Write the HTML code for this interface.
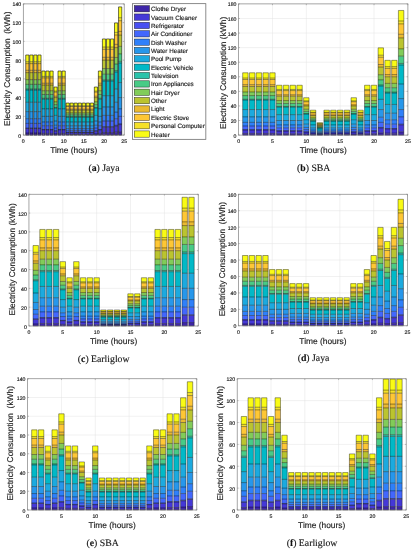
<!DOCTYPE html>
<html lang="en"><head><meta charset="utf-8"><title>Electricity Consumption</title>
<style>html,body{margin:0;padding:0;background:#fff}svg{display:block;text-rendering:geometricPrecision;filter:blur(0.25px)}</style></head>
<body>
<svg width="412" height="550" viewBox="0 0 412 550">
<rect width="412" height="550" fill="#fff"/>
<g>
<path d="M43.48 3.9V135.1M63.66 3.9V135.1M83.84 3.9V135.1M104.02 3.9V135.1M23.3 116.36H124.2M23.3 97.61H124.2M23.3 78.87H124.2M23.3 60.13H124.2M23.3 41.39H124.2M23.3 22.64H124.2" stroke="#e2e2e2" stroke-width="0.5" fill="none"/>
<g>
<path fill="#3e26a8" d="M25.72 132.99h3.23v2.16h-3.23zM29.76 132.99h3.23v2.16h-3.23zM33.79 132.99h3.23v2.16h-3.23zM37.83 132.99h3.23v2.16h-3.23zM41.87 133.41h3.23v1.74h-3.23zM45.9 133.41h3.23v1.74h-3.23zM49.94 133.41h3.23v1.74h-3.23zM53.97 133.83h3.23v1.32h-3.23zM58.01 133.41h3.23v1.74h-3.23zM62.05 133.41h3.23v1.74h-3.23zM66.08 134.26h3.23v0.89h-3.23zM70.12 134.26h3.23v0.89h-3.23zM74.15 134.26h3.23v0.89h-3.23zM78.19 134.26h3.23v0.89h-3.23zM82.23 134.26h3.23v0.89h-3.23zM86.26 134.26h3.23v0.89h-3.23zM90.3 134.26h3.23v0.89h-3.23zM94.33 133.83h3.23v1.32h-3.23zM98.37 133.41h3.23v1.74h-3.23zM102.41 132.57h3.23v2.58h-3.23zM106.44 132.57h3.23v2.58h-3.23zM110.48 132.57h3.23v2.58h-3.23zM114.51 132.14h3.23v3.01h-3.23zM118.55 131.72h3.23v3.43h-3.23z"/>
<path fill="#4538d7" d="M25.72 128.53h3.23v4.51h-3.23zM29.76 128.53h3.23v4.51h-3.23zM33.79 128.53h3.23v4.51h-3.23zM37.83 128.53h3.23v4.51h-3.23zM41.87 129.85h3.23v3.62h-3.23zM45.9 129.85h3.23v3.62h-3.23zM49.94 129.85h3.23v3.62h-3.23zM53.97 131.16h3.23v2.72h-3.23zM58.01 129.85h3.23v3.62h-3.23zM62.05 129.85h3.23v3.62h-3.23zM66.08 132.47h3.23v1.83h-3.23zM70.12 132.47h3.23v1.83h-3.23zM74.15 132.47h3.23v1.83h-3.23zM78.19 132.47h3.23v1.83h-3.23zM82.23 132.47h3.23v1.83h-3.23zM86.26 132.47h3.23v1.83h-3.23zM90.3 132.47h3.23v1.83h-3.23zM94.33 131.16h3.23v2.72h-3.23zM98.37 129.85h3.23v3.62h-3.23zM102.41 127.22h3.23v5.4h-3.23zM106.44 127.22h3.23v5.4h-3.23zM110.48 127.22h3.23v5.4h-3.23zM114.51 125.91h3.23v6.29h-3.23zM118.55 124.59h3.23v7.18h-3.23z"/>
<path fill="#484ff2" d="M25.72 128.06h3.23v0.52h-3.23zM29.76 128.06h3.23v0.52h-3.23zM33.79 128.06h3.23v0.52h-3.23zM37.83 128.06h3.23v0.52h-3.23zM41.87 129.47h3.23v0.43h-3.23zM45.9 129.47h3.23v0.43h-3.23zM49.94 129.47h3.23v0.43h-3.23zM53.97 130.88h3.23v0.33h-3.23zM58.01 129.47h3.23v0.43h-3.23zM62.05 129.47h3.23v0.43h-3.23zM66.08 132.29h3.23v0.24h-3.23zM70.12 132.29h3.23v0.24h-3.23zM74.15 132.29h3.23v0.24h-3.23zM78.19 132.29h3.23v0.24h-3.23zM82.23 132.29h3.23v0.24h-3.23zM86.26 132.29h3.23v0.24h-3.23zM90.3 132.29h3.23v0.24h-3.23zM94.33 130.88h3.23v0.33h-3.23zM98.37 129.47h3.23v0.43h-3.23zM102.41 126.66h3.23v0.61h-3.23zM106.44 126.66h3.23v0.61h-3.23zM110.48 126.66h3.23v0.61h-3.23zM114.51 125.25h3.23v0.71h-3.23zM118.55 123.84h3.23v0.8h-3.23z"/>
<path fill="#4367fd" d="M25.72 123.37h3.23v4.74h-3.23zM29.76 123.37h3.23v4.74h-3.23zM33.79 123.37h3.23v4.74h-3.23zM37.83 123.37h3.23v4.74h-3.23zM41.87 125.72h3.23v3.8h-3.23zM45.9 125.72h3.23v3.8h-3.23zM49.94 125.72h3.23v3.8h-3.23zM53.97 128.06h3.23v2.86h-3.23zM58.01 125.72h3.23v3.8h-3.23zM62.05 125.72h3.23v3.8h-3.23zM66.08 130.41h3.23v1.93h-3.23zM70.12 130.41h3.23v1.93h-3.23zM74.15 130.41h3.23v1.93h-3.23zM78.19 130.41h3.23v1.93h-3.23zM82.23 130.41h3.23v1.93h-3.23zM86.26 130.41h3.23v1.93h-3.23zM90.3 130.41h3.23v1.93h-3.23zM94.33 128.06h3.23v2.86h-3.23zM98.37 125.72h3.23v3.8h-3.23zM102.41 121.03h3.23v5.68h-3.23zM106.44 121.03h3.23v5.68h-3.23zM110.48 121.03h3.23v5.68h-3.23zM114.51 118.68h3.23v6.62h-3.23zM118.55 116.34h3.23v7.56h-3.23z"/>
<path fill="#2f80fa" d="M25.72 118.68h3.23v4.74h-3.23zM29.76 118.68h3.23v4.74h-3.23zM33.79 118.68h3.23v4.74h-3.23zM37.83 118.68h3.23v4.74h-3.23zM41.87 121.96h3.23v3.8h-3.23zM45.9 121.96h3.23v3.8h-3.23zM49.94 121.96h3.23v3.8h-3.23zM53.97 125.25h3.23v2.86h-3.23zM58.01 121.96h3.23v3.8h-3.23zM62.05 121.96h3.23v3.8h-3.23zM66.08 128.53h3.23v1.93h-3.23zM70.12 128.53h3.23v1.93h-3.23zM74.15 128.53h3.23v1.93h-3.23zM78.19 128.53h3.23v1.93h-3.23zM82.23 128.53h3.23v1.93h-3.23zM86.26 128.53h3.23v1.93h-3.23zM90.3 128.53h3.23v1.93h-3.23zM94.33 125.25h3.23v2.86h-3.23zM98.37 121.96h3.23v3.8h-3.23zM102.41 115.4h3.23v5.68h-3.23zM106.44 115.4h3.23v5.68h-3.23zM110.48 115.4h3.23v5.68h-3.23zM114.51 112.11h3.23v6.62h-3.23zM118.55 108.83h3.23v7.56h-3.23z"/>
<path fill="#2797eb" d="M25.72 111.64h3.23v7.09h-3.23zM29.76 111.64h3.23v7.09h-3.23zM33.79 111.64h3.23v7.09h-3.23zM37.83 111.64h3.23v7.09h-3.23zM41.87 116.34h3.23v5.68h-3.23zM45.9 116.34h3.23v5.68h-3.23zM49.94 116.34h3.23v5.68h-3.23zM53.97 121.03h3.23v4.27h-3.23zM58.01 116.34h3.23v5.68h-3.23zM62.05 116.34h3.23v5.68h-3.23zM66.08 125.72h3.23v2.86h-3.23zM70.12 125.72h3.23v2.86h-3.23zM74.15 125.72h3.23v2.86h-3.23zM78.19 125.72h3.23v2.86h-3.23zM82.23 125.72h3.23v2.86h-3.23zM86.26 125.72h3.23v2.86h-3.23zM90.3 125.72h3.23v2.86h-3.23zM94.33 121.03h3.23v4.27h-3.23zM98.37 116.34h3.23v5.68h-3.23zM102.41 106.95h3.23v8.49h-3.23zM106.44 106.95h3.23v8.49h-3.23zM110.48 106.95h3.23v8.49h-3.23zM114.51 102.26h3.23v9.9h-3.23zM118.55 97.57h3.23v11.31h-3.23z"/>
<path fill="#1caadf" d="M25.72 102.26h3.23v9.43h-3.23zM29.76 102.26h3.23v9.43h-3.23zM33.79 102.26h3.23v9.43h-3.23zM37.83 102.26h3.23v9.43h-3.23zM41.87 108.83h3.23v7.56h-3.23zM45.9 108.83h3.23v7.56h-3.23zM49.94 108.83h3.23v7.56h-3.23zM53.97 115.4h3.23v5.68h-3.23zM58.01 108.83h3.23v7.56h-3.23zM62.05 108.83h3.23v7.56h-3.23zM66.08 121.96h3.23v3.8h-3.23zM70.12 121.96h3.23v3.8h-3.23zM74.15 121.96h3.23v3.8h-3.23zM78.19 121.96h3.23v3.8h-3.23zM82.23 121.96h3.23v3.8h-3.23zM86.26 121.96h3.23v3.8h-3.23zM90.3 121.96h3.23v3.8h-3.23zM94.33 115.4h3.23v5.68h-3.23zM98.37 108.83h3.23v7.56h-3.23zM102.41 95.69h3.23v11.31h-3.23zM106.44 95.69h3.23v11.31h-3.23zM110.48 95.69h3.23v11.31h-3.23zM114.51 89.13h3.23v13.19h-3.23zM118.55 82.56h3.23v15.06h-3.23z"/>
<path fill="#01b9c7" d="M25.72 90.06h3.23v12.25h-3.23zM29.76 90.06h3.23v12.25h-3.23zM33.79 90.06h3.23v12.25h-3.23zM37.83 90.06h3.23v12.25h-3.23zM41.87 99.07h3.23v9.81h-3.23zM45.9 99.07h3.23v9.81h-3.23zM49.94 99.07h3.23v9.81h-3.23zM53.97 108.08h3.23v7.37h-3.23zM58.01 99.07h3.23v9.81h-3.23zM62.05 99.07h3.23v9.81h-3.23zM66.08 117.09h3.23v4.93h-3.23zM70.12 117.09h3.23v4.93h-3.23zM74.15 117.09h3.23v4.93h-3.23zM78.19 117.09h3.23v4.93h-3.23zM82.23 117.09h3.23v4.93h-3.23zM86.26 117.09h3.23v4.93h-3.23zM90.3 117.09h3.23v4.93h-3.23zM94.33 108.08h3.23v7.37h-3.23zM98.37 99.07h3.23v9.81h-3.23zM102.41 81.06h3.23v14.69h-3.23zM106.44 81.06h3.23v14.69h-3.23zM110.48 81.06h3.23v14.69h-3.23zM114.51 72.05h3.23v17.13h-3.23zM118.55 63.04h3.23v19.57h-3.23z"/>
<path fill="#29c3aa" d="M25.72 89.03h3.23v1.08h-3.23zM29.76 89.03h3.23v1.08h-3.23zM33.79 89.03h3.23v1.08h-3.23zM37.83 89.03h3.23v1.08h-3.23zM41.87 98.25h3.23v0.88h-3.23zM45.9 98.25h3.23v0.88h-3.23zM49.94 98.25h3.23v0.88h-3.23zM53.97 107.46h3.23v0.67h-3.23zM58.01 98.25h3.23v0.88h-3.23zM62.05 98.25h3.23v0.88h-3.23zM66.08 116.67h3.23v0.46h-3.23zM70.12 116.67h3.23v0.46h-3.23zM74.15 116.67h3.23v0.46h-3.23zM78.19 116.67h3.23v0.46h-3.23zM82.23 116.67h3.23v0.46h-3.23zM86.26 116.67h3.23v0.46h-3.23zM90.3 116.67h3.23v0.46h-3.23zM94.33 107.46h3.23v0.67h-3.23zM98.37 98.25h3.23v0.88h-3.23zM102.41 79.82h3.23v1.29h-3.23zM106.44 79.82h3.23v1.29h-3.23zM110.48 79.82h3.23v1.29h-3.23zM114.51 70.61h3.23v1.49h-3.23zM118.55 61.39h3.23v1.7h-3.23z"/>
<path fill="#48cb86" d="M25.72 84.34h3.23v4.74h-3.23zM29.76 84.34h3.23v4.74h-3.23zM33.79 84.34h3.23v4.74h-3.23zM37.83 84.34h3.23v4.74h-3.23zM41.87 94.49h3.23v3.8h-3.23zM45.9 94.49h3.23v3.8h-3.23zM49.94 94.49h3.23v3.8h-3.23zM53.97 104.64h3.23v2.86h-3.23zM58.01 94.49h3.23v3.8h-3.23zM62.05 94.49h3.23v3.8h-3.23zM66.08 114.8h3.23v1.93h-3.23zM70.12 114.8h3.23v1.93h-3.23zM74.15 114.8h3.23v1.93h-3.23zM78.19 114.8h3.23v1.93h-3.23zM82.23 114.8h3.23v1.93h-3.23zM86.26 114.8h3.23v1.93h-3.23zM90.3 114.8h3.23v1.93h-3.23zM94.33 104.64h3.23v2.86h-3.23zM98.37 94.49h3.23v3.8h-3.23zM102.41 74.19h3.23v5.68h-3.23zM106.44 74.19h3.23v5.68h-3.23zM110.48 74.19h3.23v5.68h-3.23zM114.51 64.04h3.23v6.62h-3.23zM118.55 53.89h3.23v7.56h-3.23z"/>
<path fill="#81cc59" d="M25.72 79.65h3.23v4.74h-3.23zM29.76 79.65h3.23v4.74h-3.23zM33.79 79.65h3.23v4.74h-3.23zM37.83 79.65h3.23v4.74h-3.23zM41.87 90.74h3.23v3.8h-3.23zM45.9 90.74h3.23v3.8h-3.23zM49.94 90.74h3.23v3.8h-3.23zM53.97 101.83h3.23v2.86h-3.23zM58.01 90.74h3.23v3.8h-3.23zM62.05 90.74h3.23v3.8h-3.23zM66.08 112.92h3.23v1.93h-3.23zM70.12 112.92h3.23v1.93h-3.23zM74.15 112.92h3.23v1.93h-3.23zM78.19 112.92h3.23v1.93h-3.23zM82.23 112.92h3.23v1.93h-3.23zM86.26 112.92h3.23v1.93h-3.23zM90.3 112.92h3.23v1.93h-3.23zM94.33 101.83h3.23v2.86h-3.23zM98.37 90.74h3.23v3.8h-3.23zM102.41 68.56h3.23v5.68h-3.23zM106.44 68.56h3.23v5.68h-3.23zM110.48 68.56h3.23v5.68h-3.23zM114.51 57.47h3.23v6.62h-3.23zM118.55 46.38h3.23v7.56h-3.23z"/>
<path fill="#bbc42f" d="M25.72 72.61h3.23v7.09h-3.23zM29.76 72.61h3.23v7.09h-3.23zM33.79 72.61h3.23v7.09h-3.23zM37.83 72.61h3.23v7.09h-3.23zM41.87 85.11h3.23v5.68h-3.23zM45.9 85.11h3.23v5.68h-3.23zM49.94 85.11h3.23v5.68h-3.23zM53.97 97.61h3.23v4.27h-3.23zM58.01 85.11h3.23v5.68h-3.23zM62.05 85.11h3.23v5.68h-3.23zM66.08 110.11h3.23v2.86h-3.23zM70.12 110.11h3.23v2.86h-3.23zM74.15 110.11h3.23v2.86h-3.23zM78.19 110.11h3.23v2.86h-3.23zM82.23 110.11h3.23v2.86h-3.23zM86.26 110.11h3.23v2.86h-3.23zM90.3 110.11h3.23v2.86h-3.23zM94.33 97.61h3.23v4.27h-3.23zM98.37 85.11h3.23v5.68h-3.23zM102.41 60.12h3.23v8.49h-3.23zM106.44 60.12h3.23v8.49h-3.23zM110.48 60.12h3.23v8.49h-3.23zM114.51 47.62h3.23v9.9h-3.23zM118.55 35.12h3.23v11.31h-3.23z"/>
<path fill="#eaba31" d="M25.72 70.27h3.23v2.4h-3.23zM29.76 70.27h3.23v2.4h-3.23zM33.79 70.27h3.23v2.4h-3.23zM37.83 70.27h3.23v2.4h-3.23zM41.87 83.23h3.23v1.93h-3.23zM45.9 83.23h3.23v1.93h-3.23zM49.94 83.23h3.23v1.93h-3.23zM53.97 96.2h3.23v1.46h-3.23zM58.01 83.23h3.23v1.93h-3.23zM62.05 83.23h3.23v1.93h-3.23zM66.08 109.17h3.23v0.99h-3.23zM70.12 109.17h3.23v0.99h-3.23zM74.15 109.17h3.23v0.99h-3.23zM78.19 109.17h3.23v0.99h-3.23zM82.23 109.17h3.23v0.99h-3.23zM86.26 109.17h3.23v0.99h-3.23zM90.3 109.17h3.23v0.99h-3.23zM94.33 96.2h3.23v1.46h-3.23zM98.37 83.23h3.23v1.93h-3.23zM102.41 57.3h3.23v2.86h-3.23zM106.44 57.3h3.23v2.86h-3.23zM110.48 57.3h3.23v2.86h-3.23zM114.51 44.33h3.23v3.33h-3.23zM118.55 31.37h3.23v3.8h-3.23z"/>
<path fill="#fec735" d="M25.72 63.61h3.23v6.71h-3.23zM29.76 63.61h3.23v6.71h-3.23zM33.79 63.61h3.23v6.71h-3.23zM37.83 63.61h3.23v6.71h-3.23zM41.87 77.9h3.23v5.38h-3.23zM45.9 77.9h3.23v5.38h-3.23zM49.94 77.9h3.23v5.38h-3.23zM53.97 92.2h3.23v4.05h-3.23zM58.01 77.9h3.23v5.38h-3.23zM62.05 77.9h3.23v5.38h-3.23zM66.08 106.5h3.23v2.71h-3.23zM70.12 106.5h3.23v2.71h-3.23zM74.15 106.5h3.23v2.71h-3.23zM78.19 106.5h3.23v2.71h-3.23zM82.23 106.5h3.23v2.71h-3.23zM86.26 106.5h3.23v2.71h-3.23zM90.3 106.5h3.23v2.71h-3.23zM94.33 92.2h3.23v4.05h-3.23zM98.37 77.9h3.23v5.38h-3.23zM102.41 49.31h3.23v8.04h-3.23zM106.44 49.31h3.23v8.04h-3.23zM110.48 49.31h3.23v8.04h-3.23zM114.51 35.01h3.23v9.38h-3.23zM118.55 20.71h3.23v10.71h-3.23z"/>
<path fill="#f5e128" d="M25.72 61.73h3.23v1.93h-3.23zM29.76 61.73h3.23v1.93h-3.23zM33.79 61.73h3.23v1.93h-3.23zM37.83 61.73h3.23v1.93h-3.23zM41.87 76.4h3.23v1.55h-3.23zM45.9 76.4h3.23v1.55h-3.23zM49.94 76.4h3.23v1.55h-3.23zM53.97 91.08h3.23v1.18h-3.23zM58.01 76.4h3.23v1.55h-3.23zM62.05 76.4h3.23v1.55h-3.23zM66.08 105.75h3.23v0.8h-3.23zM70.12 105.75h3.23v0.8h-3.23zM74.15 105.75h3.23v0.8h-3.23zM78.19 105.75h3.23v0.8h-3.23zM82.23 105.75h3.23v0.8h-3.23zM86.26 105.75h3.23v0.8h-3.23zM90.3 105.75h3.23v0.8h-3.23zM94.33 91.08h3.23v1.18h-3.23zM98.37 76.4h3.23v1.55h-3.23zM102.41 47.06h3.23v2.3h-3.23zM106.44 47.06h3.23v2.3h-3.23zM110.48 47.06h3.23v2.3h-3.23zM114.51 32.38h3.23v2.68h-3.23zM118.55 17.71h3.23v3.05h-3.23z"/>
<path fill="#f9fb15" d="M25.72 54.97h3.23v6.81h-3.23zM29.76 54.97h3.23v6.81h-3.23zM33.79 54.97h3.23v6.81h-3.23zM37.83 54.97h3.23v6.81h-3.23zM41.87 71h3.23v5.45h-3.23zM45.9 71h3.23v5.45h-3.23zM49.94 71h3.23v5.45h-3.23zM53.97 87.02h3.23v4.1h-3.23zM58.01 71h3.23v5.45h-3.23zM62.05 71h3.23v5.45h-3.23zM66.08 103.05h3.23v2.75h-3.23zM70.12 103.05h3.23v2.75h-3.23zM74.15 103.05h3.23v2.75h-3.23zM78.19 103.05h3.23v2.75h-3.23zM82.23 103.05h3.23v2.75h-3.23zM86.26 103.05h3.23v2.75h-3.23zM90.3 103.05h3.23v2.75h-3.23zM94.33 87.02h3.23v4.1h-3.23zM98.37 71h3.23v5.45h-3.23zM102.41 38.95h3.23v8.16h-3.23zM106.44 38.95h3.23v8.16h-3.23zM110.48 38.95h3.23v8.16h-3.23zM114.51 22.92h3.23v9.51h-3.23zM118.55 6.9h3.23v10.86h-3.23z"/>
<path d="M25.72 132.99h3.23M25.72 128.53h3.23M25.72 128.06h3.23M25.72 123.37h3.23M25.72 118.68h3.23M25.72 111.64h3.23M25.72 102.26h3.23M25.72 90.06h3.23M25.72 89.03h3.23M25.72 84.34h3.23M25.72 79.65h3.23M25.72 72.61h3.23M25.72 70.27h3.23M25.72 63.61h3.23M25.72 61.73h3.23M29.76 132.99h3.23M29.76 128.53h3.23M29.76 128.06h3.23M29.76 123.37h3.23M29.76 118.68h3.23M29.76 111.64h3.23M29.76 102.26h3.23M29.76 90.06h3.23M29.76 89.03h3.23M29.76 84.34h3.23M29.76 79.65h3.23M29.76 72.61h3.23M29.76 70.27h3.23M29.76 63.61h3.23M29.76 61.73h3.23M33.79 132.99h3.23M33.79 128.53h3.23M33.79 128.06h3.23M33.79 123.37h3.23M33.79 118.68h3.23M33.79 111.64h3.23M33.79 102.26h3.23M33.79 90.06h3.23M33.79 89.03h3.23M33.79 84.34h3.23M33.79 79.65h3.23M33.79 72.61h3.23M33.79 70.27h3.23M33.79 63.61h3.23M33.79 61.73h3.23M37.83 132.99h3.23M37.83 128.53h3.23M37.83 128.06h3.23M37.83 123.37h3.23M37.83 118.68h3.23M37.83 111.64h3.23M37.83 102.26h3.23M37.83 90.06h3.23M37.83 89.03h3.23M37.83 84.34h3.23M37.83 79.65h3.23M37.83 72.61h3.23M37.83 70.27h3.23M37.83 63.61h3.23M37.83 61.73h3.23M41.87 133.41h3.23M41.87 129.85h3.23M41.87 129.47h3.23M41.87 125.72h3.23M41.87 121.96h3.23M41.87 116.34h3.23M41.87 108.83h3.23M41.87 99.07h3.23M41.87 98.25h3.23M41.87 94.49h3.23M41.87 90.74h3.23M41.87 85.11h3.23M41.87 83.23h3.23M41.87 77.9h3.23M41.87 76.4h3.23M45.9 133.41h3.23M45.9 129.85h3.23M45.9 129.47h3.23M45.9 125.72h3.23M45.9 121.96h3.23M45.9 116.34h3.23M45.9 108.83h3.23M45.9 99.07h3.23M45.9 98.25h3.23M45.9 94.49h3.23M45.9 90.74h3.23M45.9 85.11h3.23M45.9 83.23h3.23M45.9 77.9h3.23M45.9 76.4h3.23M49.94 133.41h3.23M49.94 129.85h3.23M49.94 129.47h3.23M49.94 125.72h3.23M49.94 121.96h3.23M49.94 116.34h3.23M49.94 108.83h3.23M49.94 99.07h3.23M49.94 98.25h3.23M49.94 94.49h3.23M49.94 90.74h3.23M49.94 85.11h3.23M49.94 83.23h3.23M49.94 77.9h3.23M49.94 76.4h3.23M53.97 133.83h3.23M53.97 131.16h3.23M53.97 130.88h3.23M53.97 128.06h3.23M53.97 125.25h3.23M53.97 121.03h3.23M53.97 115.4h3.23M53.97 108.08h3.23M53.97 107.46h3.23M53.97 104.64h3.23M53.97 101.83h3.23M53.97 97.61h3.23M53.97 96.2h3.23M53.97 92.2h3.23M53.97 91.08h3.23M58.01 133.41h3.23M58.01 129.85h3.23M58.01 129.47h3.23M58.01 125.72h3.23M58.01 121.96h3.23M58.01 116.34h3.23M58.01 108.83h3.23M58.01 99.07h3.23M58.01 98.25h3.23M58.01 94.49h3.23M58.01 90.74h3.23M58.01 85.11h3.23M58.01 83.23h3.23M58.01 77.9h3.23M58.01 76.4h3.23M62.05 133.41h3.23M62.05 129.85h3.23M62.05 129.47h3.23M62.05 125.72h3.23M62.05 121.96h3.23M62.05 116.34h3.23M62.05 108.83h3.23M62.05 99.07h3.23M62.05 98.25h3.23M62.05 94.49h3.23M62.05 90.74h3.23M62.05 85.11h3.23M62.05 83.23h3.23M62.05 77.9h3.23M62.05 76.4h3.23M66.08 134.26h3.23M66.08 132.47h3.23M66.08 132.29h3.23M66.08 130.41h3.23M66.08 128.53h3.23M66.08 125.72h3.23M66.08 121.96h3.23M66.08 117.09h3.23M66.08 116.67h3.23M66.08 114.8h3.23M66.08 112.92h3.23M66.08 110.11h3.23M66.08 109.17h3.23M66.08 106.5h3.23M66.08 105.75h3.23M70.12 134.26h3.23M70.12 132.47h3.23M70.12 132.29h3.23M70.12 130.41h3.23M70.12 128.53h3.23M70.12 125.72h3.23M70.12 121.96h3.23M70.12 117.09h3.23M70.12 116.67h3.23M70.12 114.8h3.23M70.12 112.92h3.23M70.12 110.11h3.23M70.12 109.17h3.23M70.12 106.5h3.23M70.12 105.75h3.23M74.15 134.26h3.23M74.15 132.47h3.23M74.15 132.29h3.23M74.15 130.41h3.23M74.15 128.53h3.23M74.15 125.72h3.23M74.15 121.96h3.23M74.15 117.09h3.23M74.15 116.67h3.23M74.15 114.8h3.23M74.15 112.92h3.23M74.15 110.11h3.23M74.15 109.17h3.23M74.15 106.5h3.23M74.15 105.75h3.23M78.19 134.26h3.23M78.19 132.47h3.23M78.19 132.29h3.23M78.19 130.41h3.23M78.19 128.53h3.23M78.19 125.72h3.23M78.19 121.96h3.23M78.19 117.09h3.23M78.19 116.67h3.23M78.19 114.8h3.23M78.19 112.92h3.23M78.19 110.11h3.23M78.19 109.17h3.23M78.19 106.5h3.23M78.19 105.75h3.23M82.23 134.26h3.23M82.23 132.47h3.23M82.23 132.29h3.23M82.23 130.41h3.23M82.23 128.53h3.23M82.23 125.72h3.23M82.23 121.96h3.23M82.23 117.09h3.23M82.23 116.67h3.23M82.23 114.8h3.23M82.23 112.92h3.23M82.23 110.11h3.23M82.23 109.17h3.23M82.23 106.5h3.23M82.23 105.75h3.23M86.26 134.26h3.23M86.26 132.47h3.23M86.26 132.29h3.23M86.26 130.41h3.23M86.26 128.53h3.23M86.26 125.72h3.23M86.26 121.96h3.23M86.26 117.09h3.23M86.26 116.67h3.23M86.26 114.8h3.23M86.26 112.92h3.23M86.26 110.11h3.23M86.26 109.17h3.23M86.26 106.5h3.23M86.26 105.75h3.23M90.3 134.26h3.23M90.3 132.47h3.23M90.3 132.29h3.23M90.3 130.41h3.23M90.3 128.53h3.23M90.3 125.72h3.23M90.3 121.96h3.23M90.3 117.09h3.23M90.3 116.67h3.23M90.3 114.8h3.23M90.3 112.92h3.23M90.3 110.11h3.23M90.3 109.17h3.23M90.3 106.5h3.23M90.3 105.75h3.23M94.33 133.83h3.23M94.33 131.16h3.23M94.33 130.88h3.23M94.33 128.06h3.23M94.33 125.25h3.23M94.33 121.03h3.23M94.33 115.4h3.23M94.33 108.08h3.23M94.33 107.46h3.23M94.33 104.64h3.23M94.33 101.83h3.23M94.33 97.61h3.23M94.33 96.2h3.23M94.33 92.2h3.23M94.33 91.08h3.23M98.37 133.41h3.23M98.37 129.85h3.23M98.37 129.47h3.23M98.37 125.72h3.23M98.37 121.96h3.23M98.37 116.34h3.23M98.37 108.83h3.23M98.37 99.07h3.23M98.37 98.25h3.23M98.37 94.49h3.23M98.37 90.74h3.23M98.37 85.11h3.23M98.37 83.23h3.23M98.37 77.9h3.23M98.37 76.4h3.23M102.41 132.57h3.23M102.41 127.22h3.23M102.41 126.66h3.23M102.41 121.03h3.23M102.41 115.4h3.23M102.41 106.95h3.23M102.41 95.69h3.23M102.41 81.06h3.23M102.41 79.82h3.23M102.41 74.19h3.23M102.41 68.56h3.23M102.41 60.12h3.23M102.41 57.3h3.23M102.41 49.31h3.23M102.41 47.06h3.23M106.44 132.57h3.23M106.44 127.22h3.23M106.44 126.66h3.23M106.44 121.03h3.23M106.44 115.4h3.23M106.44 106.95h3.23M106.44 95.69h3.23M106.44 81.06h3.23M106.44 79.82h3.23M106.44 74.19h3.23M106.44 68.56h3.23M106.44 60.12h3.23M106.44 57.3h3.23M106.44 49.31h3.23M106.44 47.06h3.23M110.48 132.57h3.23M110.48 127.22h3.23M110.48 126.66h3.23M110.48 121.03h3.23M110.48 115.4h3.23M110.48 106.95h3.23M110.48 95.69h3.23M110.48 81.06h3.23M110.48 79.82h3.23M110.48 74.19h3.23M110.48 68.56h3.23M110.48 60.12h3.23M110.48 57.3h3.23M110.48 49.31h3.23M110.48 47.06h3.23M114.51 132.14h3.23M114.51 125.91h3.23M114.51 125.25h3.23M114.51 118.68h3.23M114.51 112.11h3.23M114.51 102.26h3.23M114.51 89.13h3.23M114.51 72.05h3.23M114.51 70.61h3.23M114.51 64.04h3.23M114.51 57.47h3.23M114.51 47.62h3.23M114.51 44.33h3.23M114.51 35.01h3.23M114.51 32.38h3.23M118.55 131.72h3.23M118.55 124.59h3.23M118.55 123.84h3.23M118.55 116.34h3.23M118.55 108.83h3.23M118.55 97.57h3.23M118.55 82.56h3.23M118.55 63.04h3.23M118.55 61.39h3.23M118.55 53.89h3.23M118.55 46.38h3.23M118.55 35.12h3.23M118.55 31.37h3.23M118.55 20.71h3.23M118.55 17.71h3.23" stroke="#000" stroke-opacity="0.8" stroke-width="0.5" fill="none"/>
<path d="M25.72 54.97h3.23v80.13h-3.23zM29.76 54.97h3.23v80.13h-3.23zM33.79 54.97h3.23v80.13h-3.23zM37.83 54.97h3.23v80.13h-3.23zM41.87 71h3.23v64.1h-3.23zM45.9 71h3.23v64.1h-3.23zM49.94 71h3.23v64.1h-3.23zM53.97 87.02h3.23v48.08h-3.23zM58.01 71h3.23v64.1h-3.23zM62.05 71h3.23v64.1h-3.23zM66.08 103.05h3.23v32.05h-3.23zM70.12 103.05h3.23v32.05h-3.23zM74.15 103.05h3.23v32.05h-3.23zM78.19 103.05h3.23v32.05h-3.23zM82.23 103.05h3.23v32.05h-3.23zM86.26 103.05h3.23v32.05h-3.23zM90.3 103.05h3.23v32.05h-3.23zM94.33 87.02h3.23v48.08h-3.23zM98.37 71h3.23v64.1h-3.23zM102.41 38.95h3.23v96.15h-3.23zM106.44 38.95h3.23v96.15h-3.23zM110.48 38.95h3.23v96.15h-3.23zM114.51 22.92h3.23v112.18h-3.23zM118.55 6.9h3.23v128.2h-3.23z" stroke="#000" stroke-opacity="0.7" stroke-width="0.8" fill="none"/>
</g>
<rect x="23.3" y="3.9" width="100.9" height="131.2" fill="none" stroke="#808080" stroke-width="0.7"/>
<path d="M23.3 135.1v-1.3M23.3 3.9v1.3M43.48 135.1v-1.3M43.48 3.9v1.3M63.66 135.1v-1.3M63.66 3.9v1.3M83.84 135.1v-1.3M83.84 3.9v1.3M104.02 135.1v-1.3M104.02 3.9v1.3M124.2 135.1v-1.3M124.2 3.9v1.3M23.3 135.1h1.3M124.2 135.1h-1.3M23.3 116.36h1.3M124.2 116.36h-1.3M23.3 97.61h1.3M124.2 97.61h-1.3M23.3 78.87h1.3M124.2 78.87h-1.3M23.3 60.13h1.3M124.2 60.13h-1.3M23.3 41.39h1.3M124.2 41.39h-1.3M23.3 22.64h1.3M124.2 22.64h-1.3M23.3 3.9h1.3M124.2 3.9h-1.3" stroke="#808080" stroke-width="0.5" fill="none"/>
<g font-family="Liberation Sans, sans-serif" font-size="5.2" fill="#222" stroke="#222" stroke-width="0.15">
<text x="23.3" y="143.4" text-anchor="middle">0</text>
<text x="43.48" y="143.4" text-anchor="middle">5</text>
<text x="63.66" y="143.4" text-anchor="middle">10</text>
<text x="83.84" y="143.4" text-anchor="middle">15</text>
<text x="104.02" y="143.4" text-anchor="middle">20</text>
<text x="124.2" y="143.4" text-anchor="middle">25</text>
<text x="21.2" y="137.6" text-anchor="end">0</text>
<text x="21.2" y="118.86" text-anchor="end">20</text>
<text x="21.2" y="100.11" text-anchor="end">40</text>
<text x="21.2" y="81.37" text-anchor="end">60</text>
<text x="21.2" y="62.63" text-anchor="end">80</text>
<text x="21.2" y="43.89" text-anchor="end">100</text>
<text x="21.2" y="25.14" text-anchor="end">120</text>
<text x="21.2" y="6.4" text-anchor="end">140</text>
</g>
<text x="73.75" y="152.9" text-anchor="middle" font-family="Liberation Sans, sans-serif" font-size="8.4" fill="#222" stroke="#222" stroke-width="0.15">Time (hours)</text>
<text transform="translate(10 68.7) rotate(-90)" text-anchor="middle" font-family="Liberation Sans, sans-serif" font-size="8.4" fill="#222" stroke="#222" stroke-width="0.15" xml:space="preserve">Electricity Consumption  (kWh)</text>
<text x="104" y="170.7" text-anchor="middle" font-family="Liberation Serif, serif" font-size="9.75" fill="#111" stroke="#111" stroke-width="0.12">(<tspan font-weight="bold">a</tspan>) Jaya</text>
</g>
<g>
<path d="M272.46 3.9V135.1M306.32 3.9V135.1M340.18 3.9V135.1M374.04 3.9V135.1M238.6 120.52H407.9M238.6 105.94H407.9M238.6 91.37H407.9M238.6 76.79H407.9M238.6 62.21H407.9M238.6 47.63H407.9M238.6 33.06H407.9M238.6 18.48H407.9" stroke="#e2e2e2" stroke-width="0.5" fill="none"/>
<g>
<path fill="#3e26a8" d="M242.66 133.46h5.42v1.69h-5.42zM249.44 133.46h5.42v1.69h-5.42zM256.21 133.46h5.42v1.69h-5.42zM262.98 133.46h5.42v1.69h-5.42zM269.75 133.46h5.42v1.69h-5.42zM276.52 133.79h5.42v1.36h-5.42zM283.3 133.79h5.42v1.36h-5.42zM290.07 133.79h5.42v1.36h-5.42zM296.84 133.79h5.42v1.36h-5.42zM303.61 134.11h5.42v1.04h-5.42zM310.38 134.44h5.42v0.71h-5.42zM317.16 134.77h5.42v0.38h-5.42zM323.93 134.44h5.42v0.71h-5.42zM330.7 134.44h5.42v0.71h-5.42zM337.47 134.44h5.42v0.71h-5.42zM344.24 134.44h5.42v0.71h-5.42zM351.02 134.11h5.42v1.04h-5.42zM357.79 134.44h5.42v0.71h-5.42zM364.56 133.79h5.42v1.36h-5.42zM371.33 133.79h5.42v1.36h-5.42zM378.1 132.8h5.42v2.35h-5.42zM384.88 133.13h5.42v2.02h-5.42zM391.65 133.13h5.42v2.02h-5.42zM398.42 131.82h5.42v3.33h-5.42z"/>
<path fill="#4538d7" d="M242.66 129.99h5.42v3.52h-5.42zM249.44 129.99h5.42v3.52h-5.42zM256.21 129.99h5.42v3.52h-5.42zM262.98 129.99h5.42v3.52h-5.42zM269.75 129.99h5.42v3.52h-5.42zM276.52 131.01h5.42v2.82h-5.42zM283.3 131.01h5.42v2.82h-5.42zM290.07 131.01h5.42v2.82h-5.42zM296.84 131.01h5.42v2.82h-5.42zM303.61 132.04h5.42v2.13h-5.42zM310.38 133.06h5.42v1.44h-5.42zM317.16 134.08h5.42v0.74h-5.42zM323.93 133.06h5.42v1.44h-5.42zM330.7 133.06h5.42v1.44h-5.42zM337.47 133.06h5.42v1.44h-5.42zM344.24 133.06h5.42v1.44h-5.42zM351.02 132.04h5.42v2.13h-5.42zM357.79 133.06h5.42v1.44h-5.42zM364.56 131.01h5.42v2.82h-5.42zM371.33 131.01h5.42v2.82h-5.42zM378.1 127.95h5.42v4.9h-5.42zM384.88 128.97h5.42v4.21h-5.42zM391.65 128.97h5.42v4.21h-5.42zM398.42 124.88h5.42v6.98h-5.42z"/>
<path fill="#484ff2" d="M242.66 129.63h5.42v0.41h-5.42zM249.44 129.63h5.42v0.41h-5.42zM256.21 129.63h5.42v0.41h-5.42zM262.98 129.63h5.42v0.41h-5.42zM269.75 129.63h5.42v0.41h-5.42zM276.52 130.72h5.42v0.34h-5.42zM283.3 130.72h5.42v0.34h-5.42zM290.07 130.72h5.42v0.34h-5.42zM296.84 130.72h5.42v0.34h-5.42zM303.61 131.82h5.42v0.27h-5.42zM310.38 132.91h5.42v0.2h-5.42zM317.16 134.01h5.42v0.12h-5.42zM323.93 132.91h5.42v0.2h-5.42zM330.7 132.91h5.42v0.2h-5.42zM337.47 132.91h5.42v0.2h-5.42zM344.24 132.91h5.42v0.2h-5.42zM351.02 131.82h5.42v0.27h-5.42zM357.79 132.91h5.42v0.2h-5.42zM364.56 130.72h5.42v0.34h-5.42zM371.33 130.72h5.42v0.34h-5.42zM378.1 127.44h5.42v0.56h-5.42zM384.88 128.53h5.42v0.49h-5.42zM391.65 128.53h5.42v0.49h-5.42zM398.42 124.15h5.42v0.78h-5.42z"/>
<path fill="#4367fd" d="M242.66 125.98h5.42v3.7h-5.42zM249.44 125.98h5.42v3.7h-5.42zM256.21 125.98h5.42v3.7h-5.42zM262.98 125.98h5.42v3.7h-5.42zM269.75 125.98h5.42v3.7h-5.42zM276.52 127.8h5.42v2.97h-5.42zM283.3 127.8h5.42v2.97h-5.42zM290.07 127.8h5.42v2.97h-5.42zM296.84 127.8h5.42v2.97h-5.42zM303.61 129.63h5.42v2.24h-5.42zM310.38 131.45h5.42v1.51h-5.42zM317.16 133.28h5.42v0.78h-5.42zM323.93 131.45h5.42v1.51h-5.42zM330.7 131.45h5.42v1.51h-5.42zM337.47 131.45h5.42v1.51h-5.42zM344.24 131.45h5.42v1.51h-5.42zM351.02 129.63h5.42v2.24h-5.42zM357.79 131.45h5.42v1.51h-5.42zM364.56 127.8h5.42v2.97h-5.42zM371.33 127.8h5.42v2.97h-5.42zM378.1 122.33h5.42v5.16h-5.42zM384.88 124.15h5.42v4.43h-5.42zM391.65 124.15h5.42v4.43h-5.42zM398.42 116.86h5.42v7.35h-5.42z"/>
<path fill="#2f80fa" d="M242.66 122.33h5.42v3.7h-5.42zM249.44 122.33h5.42v3.7h-5.42zM256.21 122.33h5.42v3.7h-5.42zM262.98 122.33h5.42v3.7h-5.42zM269.75 122.33h5.42v3.7h-5.42zM276.52 124.88h5.42v2.97h-5.42zM283.3 124.88h5.42v2.97h-5.42zM290.07 124.88h5.42v2.97h-5.42zM296.84 124.88h5.42v2.97h-5.42zM303.61 127.44h5.42v2.24h-5.42zM310.38 129.99h5.42v1.51h-5.42zM317.16 132.55h5.42v0.78h-5.42zM323.93 129.99h5.42v1.51h-5.42zM330.7 129.99h5.42v1.51h-5.42zM337.47 129.99h5.42v1.51h-5.42zM344.24 129.99h5.42v1.51h-5.42zM351.02 127.44h5.42v2.24h-5.42zM357.79 129.99h5.42v1.51h-5.42zM364.56 124.88h5.42v2.97h-5.42zM371.33 124.88h5.42v2.97h-5.42zM378.1 117.22h5.42v5.16h-5.42zM384.88 119.78h5.42v4.43h-5.42zM391.65 119.78h5.42v4.43h-5.42zM398.42 109.56h5.42v7.35h-5.42z"/>
<path fill="#2797eb" d="M242.66 116.86h5.42v5.52h-5.42zM249.44 116.86h5.42v5.52h-5.42zM256.21 116.86h5.42v5.52h-5.42zM262.98 116.86h5.42v5.52h-5.42zM269.75 116.86h5.42v5.52h-5.42zM276.52 120.51h5.42v4.43h-5.42zM283.3 120.51h5.42v4.43h-5.42zM290.07 120.51h5.42v4.43h-5.42zM296.84 120.51h5.42v4.43h-5.42zM303.61 124.15h5.42v3.33h-5.42zM310.38 127.8h5.42v2.24h-5.42zM317.16 131.45h5.42v1.14h-5.42zM323.93 127.8h5.42v2.24h-5.42zM330.7 127.8h5.42v2.24h-5.42zM337.47 127.8h5.42v2.24h-5.42zM344.24 127.8h5.42v2.24h-5.42zM351.02 124.15h5.42v3.33h-5.42zM357.79 127.8h5.42v2.24h-5.42zM364.56 120.51h5.42v4.43h-5.42zM371.33 120.51h5.42v4.43h-5.42zM378.1 109.56h5.42v7.71h-5.42zM384.88 113.21h5.42v6.62h-5.42zM391.65 113.21h5.42v6.62h-5.42zM398.42 98.61h5.42v11h-5.42z"/>
<path fill="#1caadf" d="M242.66 109.56h5.42v7.35h-5.42zM249.44 109.56h5.42v7.35h-5.42zM256.21 109.56h5.42v7.35h-5.42zM262.98 109.56h5.42v7.35h-5.42zM269.75 109.56h5.42v7.35h-5.42zM276.52 114.67h5.42v5.89h-5.42zM283.3 114.67h5.42v5.89h-5.42zM290.07 114.67h5.42v5.89h-5.42zM296.84 114.67h5.42v5.89h-5.42zM303.61 119.78h5.42v4.43h-5.42zM310.38 124.88h5.42v2.97h-5.42zM317.16 129.99h5.42v1.51h-5.42zM323.93 124.88h5.42v2.97h-5.42zM330.7 124.88h5.42v2.97h-5.42zM337.47 124.88h5.42v2.97h-5.42zM344.24 124.88h5.42v2.97h-5.42zM351.02 119.78h5.42v4.43h-5.42zM357.79 124.88h5.42v2.97h-5.42zM364.56 114.67h5.42v5.89h-5.42zM371.33 114.67h5.42v5.89h-5.42zM378.1 99.34h5.42v10.27h-5.42zM384.88 104.45h5.42v8.81h-5.42zM391.65 104.45h5.42v8.81h-5.42zM398.42 84.02h5.42v14.64h-5.42z"/>
<path fill="#01b9c7" d="M242.66 100.07h5.42v9.54h-5.42zM249.44 100.07h5.42v9.54h-5.42zM256.21 100.07h5.42v9.54h-5.42zM262.98 100.07h5.42v9.54h-5.42zM269.75 100.07h5.42v9.54h-5.42zM276.52 107.08h5.42v7.64h-5.42zM283.3 107.08h5.42v7.64h-5.42zM290.07 107.08h5.42v7.64h-5.42zM296.84 107.08h5.42v7.64h-5.42zM303.61 114.08h5.42v5.74h-5.42zM310.38 121.09h5.42v3.84h-5.42zM317.16 128.09h5.42v1.95h-5.42zM323.93 121.09h5.42v3.84h-5.42zM330.7 121.09h5.42v3.84h-5.42zM337.47 121.09h5.42v3.84h-5.42zM344.24 121.09h5.42v3.84h-5.42zM351.02 114.08h5.42v5.74h-5.42zM357.79 121.09h5.42v3.84h-5.42zM364.56 107.08h5.42v7.64h-5.42zM371.33 107.08h5.42v7.64h-5.42zM378.1 86.06h5.42v13.33h-5.42zM384.88 93.07h5.42v11.43h-5.42zM391.65 93.07h5.42v11.43h-5.42zM398.42 65.04h5.42v19.02h-5.42z"/>
<path fill="#29c3aa" d="M242.66 99.27h5.42v0.85h-5.42zM249.44 99.27h5.42v0.85h-5.42zM256.21 99.27h5.42v0.85h-5.42zM262.98 99.27h5.42v0.85h-5.42zM269.75 99.27h5.42v0.85h-5.42zM276.52 106.44h5.42v0.69h-5.42zM283.3 106.44h5.42v0.69h-5.42zM290.07 106.44h5.42v0.69h-5.42zM296.84 106.44h5.42v0.69h-5.42zM303.61 113.6h5.42v0.53h-5.42zM310.38 120.77h5.42v0.37h-5.42zM317.16 127.93h5.42v0.21h-5.42zM323.93 120.77h5.42v0.37h-5.42zM330.7 120.77h5.42v0.37h-5.42zM337.47 120.77h5.42v0.37h-5.42zM344.24 120.77h5.42v0.37h-5.42zM351.02 113.6h5.42v0.53h-5.42zM357.79 120.77h5.42v0.37h-5.42zM364.56 106.44h5.42v0.69h-5.42zM371.33 106.44h5.42v0.69h-5.42zM378.1 84.94h5.42v1.17h-5.42zM384.88 92.1h5.42v1.01h-5.42zM391.65 92.1h5.42v1.01h-5.42zM398.42 63.44h5.42v1.66h-5.42z"/>
<path fill="#48cb86" d="M242.66 95.62h5.42v3.7h-5.42zM249.44 95.62h5.42v3.7h-5.42zM256.21 95.62h5.42v3.7h-5.42zM262.98 95.62h5.42v3.7h-5.42zM269.75 95.62h5.42v3.7h-5.42zM276.52 103.52h5.42v2.97h-5.42zM283.3 103.52h5.42v2.97h-5.42zM290.07 103.52h5.42v2.97h-5.42zM296.84 103.52h5.42v2.97h-5.42zM303.61 111.41h5.42v2.24h-5.42zM310.38 119.31h5.42v1.51h-5.42zM317.16 127.2h5.42v0.78h-5.42zM323.93 119.31h5.42v1.51h-5.42zM330.7 119.31h5.42v1.51h-5.42zM337.47 119.31h5.42v1.51h-5.42zM344.24 119.31h5.42v1.51h-5.42zM351.02 111.41h5.42v2.24h-5.42zM357.79 119.31h5.42v1.51h-5.42zM364.56 103.52h5.42v2.97h-5.42zM371.33 103.52h5.42v2.97h-5.42zM378.1 79.83h5.42v5.16h-5.42zM384.88 87.73h5.42v4.43h-5.42zM391.65 87.73h5.42v4.43h-5.42zM398.42 56.14h5.42v7.35h-5.42z"/>
<path fill="#81cc59" d="M242.66 91.97h5.42v3.7h-5.42zM249.44 91.97h5.42v3.7h-5.42zM256.21 91.97h5.42v3.7h-5.42zM262.98 91.97h5.42v3.7h-5.42zM269.75 91.97h5.42v3.7h-5.42zM276.52 100.6h5.42v2.97h-5.42zM283.3 100.6h5.42v2.97h-5.42zM290.07 100.6h5.42v2.97h-5.42zM296.84 100.6h5.42v2.97h-5.42zM303.61 109.22h5.42v2.24h-5.42zM310.38 117.85h5.42v1.51h-5.42zM317.16 126.47h5.42v0.78h-5.42zM323.93 117.85h5.42v1.51h-5.42zM330.7 117.85h5.42v1.51h-5.42zM337.47 117.85h5.42v1.51h-5.42zM344.24 117.85h5.42v1.51h-5.42zM351.02 109.22h5.42v2.24h-5.42zM357.79 117.85h5.42v1.51h-5.42zM364.56 100.6h5.42v2.97h-5.42zM371.33 100.6h5.42v2.97h-5.42zM378.1 74.72h5.42v5.16h-5.42zM384.88 83.35h5.42v4.43h-5.42zM391.65 83.35h5.42v4.43h-5.42zM398.42 48.84h5.42v7.35h-5.42z"/>
<path fill="#bbc42f" d="M242.66 86.5h5.42v5.52h-5.42zM249.44 86.5h5.42v5.52h-5.42zM256.21 86.5h5.42v5.52h-5.42zM262.98 86.5h5.42v5.52h-5.42zM269.75 86.5h5.42v5.52h-5.42zM276.52 96.22h5.42v4.43h-5.42zM283.3 96.22h5.42v4.43h-5.42zM290.07 96.22h5.42v4.43h-5.42zM296.84 96.22h5.42v4.43h-5.42zM303.61 105.94h5.42v3.33h-5.42zM310.38 115.66h5.42v2.24h-5.42zM317.16 125.38h5.42v1.14h-5.42zM323.93 115.66h5.42v2.24h-5.42zM330.7 115.66h5.42v2.24h-5.42zM337.47 115.66h5.42v2.24h-5.42zM344.24 115.66h5.42v2.24h-5.42zM351.02 105.94h5.42v3.33h-5.42zM357.79 115.66h5.42v2.24h-5.42zM364.56 96.22h5.42v4.43h-5.42zM371.33 96.22h5.42v4.43h-5.42zM378.1 67.06h5.42v7.71h-5.42zM384.88 76.78h5.42v6.62h-5.42zM391.65 76.78h5.42v6.62h-5.42zM398.42 37.9h5.42v11h-5.42z"/>
<path fill="#eaba31" d="M242.66 84.67h5.42v1.87h-5.42zM249.44 84.67h5.42v1.87h-5.42zM256.21 84.67h5.42v1.87h-5.42zM262.98 84.67h5.42v1.87h-5.42zM269.75 84.67h5.42v1.87h-5.42zM276.52 94.76h5.42v1.51h-5.42zM283.3 94.76h5.42v1.51h-5.42zM290.07 94.76h5.42v1.51h-5.42zM296.84 94.76h5.42v1.51h-5.42zM303.61 104.84h5.42v1.14h-5.42zM310.38 114.93h5.42v0.78h-5.42zM317.16 125.01h5.42v0.41h-5.42zM323.93 114.93h5.42v0.78h-5.42zM330.7 114.93h5.42v0.78h-5.42zM337.47 114.93h5.42v0.78h-5.42zM344.24 114.93h5.42v0.78h-5.42zM351.02 104.84h5.42v1.14h-5.42zM357.79 114.93h5.42v0.78h-5.42zM364.56 94.76h5.42v1.51h-5.42zM371.33 94.76h5.42v1.51h-5.42zM378.1 64.5h5.42v2.6h-5.42zM384.88 74.59h5.42v2.24h-5.42zM391.65 74.59h5.42v2.24h-5.42zM398.42 34.25h5.42v3.7h-5.42z"/>
<path fill="#fec735" d="M242.66 79.49h5.42v5.23h-5.42zM249.44 79.49h5.42v5.23h-5.42zM256.21 79.49h5.42v5.23h-5.42zM262.98 79.49h5.42v5.23h-5.42zM269.75 79.49h5.42v5.23h-5.42zM276.52 90.61h5.42v4.19h-5.42zM283.3 90.61h5.42v4.19h-5.42zM290.07 90.61h5.42v4.19h-5.42zM296.84 90.61h5.42v4.19h-5.42zM303.61 101.74h5.42v3.16h-5.42zM310.38 112.86h5.42v2.12h-5.42zM317.16 123.98h5.42v1.09h-5.42zM323.93 112.86h5.42v2.12h-5.42zM330.7 112.86h5.42v2.12h-5.42zM337.47 112.86h5.42v2.12h-5.42zM344.24 112.86h5.42v2.12h-5.42zM351.02 101.74h5.42v3.16h-5.42zM357.79 112.86h5.42v2.12h-5.42zM364.56 90.61h5.42v4.19h-5.42zM371.33 90.61h5.42v4.19h-5.42zM378.1 57.25h5.42v7.3h-5.42zM384.88 68.37h5.42v6.27h-5.42zM391.65 68.37h5.42v6.27h-5.42zM398.42 23.89h5.42v10.41h-5.42z"/>
<path fill="#f5e128" d="M242.66 78.03h5.42v1.51h-5.42zM249.44 78.03h5.42v1.51h-5.42zM256.21 78.03h5.42v1.51h-5.42zM262.98 78.03h5.42v1.51h-5.42zM269.75 78.03h5.42v1.51h-5.42zM276.52 89.45h5.42v1.22h-5.42zM283.3 89.45h5.42v1.22h-5.42zM290.07 89.45h5.42v1.22h-5.42zM296.84 89.45h5.42v1.22h-5.42zM303.61 100.86h5.42v0.93h-5.42zM310.38 112.27h5.42v0.63h-5.42zM317.16 123.69h5.42v0.34h-5.42zM323.93 112.27h5.42v0.63h-5.42zM330.7 112.27h5.42v0.63h-5.42zM337.47 112.27h5.42v0.63h-5.42zM344.24 112.27h5.42v0.63h-5.42zM351.02 100.86h5.42v0.93h-5.42zM357.79 112.27h5.42v0.63h-5.42zM364.56 89.45h5.42v1.22h-5.42zM371.33 89.45h5.42v1.22h-5.42zM378.1 55.21h5.42v2.09h-5.42zM384.88 66.62h5.42v1.8h-5.42zM391.65 66.62h5.42v1.8h-5.42zM398.42 20.97h5.42v2.97h-5.42z"/>
<path fill="#f9fb15" d="M242.66 72.78h5.42v5.3h-5.42zM249.44 72.78h5.42v5.3h-5.42zM256.21 72.78h5.42v5.3h-5.42zM262.98 72.78h5.42v5.3h-5.42zM269.75 72.78h5.42v5.3h-5.42zM276.52 85.24h5.42v4.25h-5.42zM283.3 85.24h5.42v4.25h-5.42zM290.07 85.24h5.42v4.25h-5.42zM296.84 85.24h5.42v4.25h-5.42zM303.61 97.71h5.42v3.2h-5.42zM310.38 110.17h5.42v2.15h-5.42zM317.16 122.64h5.42v1.1h-5.42zM323.93 110.17h5.42v2.15h-5.42zM330.7 110.17h5.42v2.15h-5.42zM337.47 110.17h5.42v2.15h-5.42zM344.24 110.17h5.42v2.15h-5.42zM351.02 97.71h5.42v3.2h-5.42zM357.79 110.17h5.42v2.15h-5.42zM364.56 85.24h5.42v4.25h-5.42zM371.33 85.24h5.42v4.25h-5.42zM378.1 47.85h5.42v7.41h-5.42zM384.88 60.32h5.42v6.35h-5.42zM391.65 60.32h5.42v6.35h-5.42zM398.42 10.46h5.42v10.56h-5.42z"/>
<path d="M242.66 133.46h5.42M242.66 129.99h5.42M242.66 129.63h5.42M242.66 125.98h5.42M242.66 122.33h5.42M242.66 116.86h5.42M242.66 109.56h5.42M242.66 100.07h5.42M242.66 99.27h5.42M242.66 95.62h5.42M242.66 91.97h5.42M242.66 86.5h5.42M242.66 84.67h5.42M242.66 79.49h5.42M242.66 78.03h5.42M249.44 133.46h5.42M249.44 129.99h5.42M249.44 129.63h5.42M249.44 125.98h5.42M249.44 122.33h5.42M249.44 116.86h5.42M249.44 109.56h5.42M249.44 100.07h5.42M249.44 99.27h5.42M249.44 95.62h5.42M249.44 91.97h5.42M249.44 86.5h5.42M249.44 84.67h5.42M249.44 79.49h5.42M249.44 78.03h5.42M256.21 133.46h5.42M256.21 129.99h5.42M256.21 129.63h5.42M256.21 125.98h5.42M256.21 122.33h5.42M256.21 116.86h5.42M256.21 109.56h5.42M256.21 100.07h5.42M256.21 99.27h5.42M256.21 95.62h5.42M256.21 91.97h5.42M256.21 86.5h5.42M256.21 84.67h5.42M256.21 79.49h5.42M256.21 78.03h5.42M262.98 133.46h5.42M262.98 129.99h5.42M262.98 129.63h5.42M262.98 125.98h5.42M262.98 122.33h5.42M262.98 116.86h5.42M262.98 109.56h5.42M262.98 100.07h5.42M262.98 99.27h5.42M262.98 95.62h5.42M262.98 91.97h5.42M262.98 86.5h5.42M262.98 84.67h5.42M262.98 79.49h5.42M262.98 78.03h5.42M269.75 133.46h5.42M269.75 129.99h5.42M269.75 129.63h5.42M269.75 125.98h5.42M269.75 122.33h5.42M269.75 116.86h5.42M269.75 109.56h5.42M269.75 100.07h5.42M269.75 99.27h5.42M269.75 95.62h5.42M269.75 91.97h5.42M269.75 86.5h5.42M269.75 84.67h5.42M269.75 79.49h5.42M269.75 78.03h5.42M276.52 133.79h5.42M276.52 131.01h5.42M276.52 130.72h5.42M276.52 127.8h5.42M276.52 124.88h5.42M276.52 120.51h5.42M276.52 114.67h5.42M276.52 107.08h5.42M276.52 106.44h5.42M276.52 103.52h5.42M276.52 100.6h5.42M276.52 96.22h5.42M276.52 94.76h5.42M276.52 90.61h5.42M276.52 89.45h5.42M283.3 133.79h5.42M283.3 131.01h5.42M283.3 130.72h5.42M283.3 127.8h5.42M283.3 124.88h5.42M283.3 120.51h5.42M283.3 114.67h5.42M283.3 107.08h5.42M283.3 106.44h5.42M283.3 103.52h5.42M283.3 100.6h5.42M283.3 96.22h5.42M283.3 94.76h5.42M283.3 90.61h5.42M283.3 89.45h5.42M290.07 133.79h5.42M290.07 131.01h5.42M290.07 130.72h5.42M290.07 127.8h5.42M290.07 124.88h5.42M290.07 120.51h5.42M290.07 114.67h5.42M290.07 107.08h5.42M290.07 106.44h5.42M290.07 103.52h5.42M290.07 100.6h5.42M290.07 96.22h5.42M290.07 94.76h5.42M290.07 90.61h5.42M290.07 89.45h5.42M296.84 133.79h5.42M296.84 131.01h5.42M296.84 130.72h5.42M296.84 127.8h5.42M296.84 124.88h5.42M296.84 120.51h5.42M296.84 114.67h5.42M296.84 107.08h5.42M296.84 106.44h5.42M296.84 103.52h5.42M296.84 100.6h5.42M296.84 96.22h5.42M296.84 94.76h5.42M296.84 90.61h5.42M296.84 89.45h5.42M303.61 134.11h5.42M303.61 132.04h5.42M303.61 131.82h5.42M303.61 129.63h5.42M303.61 127.44h5.42M303.61 124.15h5.42M303.61 119.78h5.42M303.61 114.08h5.42M303.61 113.6h5.42M303.61 111.41h5.42M303.61 109.22h5.42M303.61 105.94h5.42M303.61 104.84h5.42M303.61 101.74h5.42M303.61 100.86h5.42M310.38 134.44h5.42M310.38 133.06h5.42M310.38 132.91h5.42M310.38 131.45h5.42M310.38 129.99h5.42M310.38 127.8h5.42M310.38 124.88h5.42M310.38 121.09h5.42M310.38 120.77h5.42M310.38 119.31h5.42M310.38 117.85h5.42M310.38 115.66h5.42M310.38 114.93h5.42M310.38 112.86h5.42M310.38 112.27h5.42M317.16 134.77h5.42M317.16 134.08h5.42M317.16 134.01h5.42M317.16 133.28h5.42M317.16 132.55h5.42M317.16 131.45h5.42M317.16 129.99h5.42M317.16 128.09h5.42M317.16 127.93h5.42M317.16 127.2h5.42M317.16 126.47h5.42M317.16 125.38h5.42M317.16 125.01h5.42M317.16 123.98h5.42M317.16 123.69h5.42M323.93 134.44h5.42M323.93 133.06h5.42M323.93 132.91h5.42M323.93 131.45h5.42M323.93 129.99h5.42M323.93 127.8h5.42M323.93 124.88h5.42M323.93 121.09h5.42M323.93 120.77h5.42M323.93 119.31h5.42M323.93 117.85h5.42M323.93 115.66h5.42M323.93 114.93h5.42M323.93 112.86h5.42M323.93 112.27h5.42M330.7 134.44h5.42M330.7 133.06h5.42M330.7 132.91h5.42M330.7 131.45h5.42M330.7 129.99h5.42M330.7 127.8h5.42M330.7 124.88h5.42M330.7 121.09h5.42M330.7 120.77h5.42M330.7 119.31h5.42M330.7 117.85h5.42M330.7 115.66h5.42M330.7 114.93h5.42M330.7 112.86h5.42M330.7 112.27h5.42M337.47 134.44h5.42M337.47 133.06h5.42M337.47 132.91h5.42M337.47 131.45h5.42M337.47 129.99h5.42M337.47 127.8h5.42M337.47 124.88h5.42M337.47 121.09h5.42M337.47 120.77h5.42M337.47 119.31h5.42M337.47 117.85h5.42M337.47 115.66h5.42M337.47 114.93h5.42M337.47 112.86h5.42M337.47 112.27h5.42M344.24 134.44h5.42M344.24 133.06h5.42M344.24 132.91h5.42M344.24 131.45h5.42M344.24 129.99h5.42M344.24 127.8h5.42M344.24 124.88h5.42M344.24 121.09h5.42M344.24 120.77h5.42M344.24 119.31h5.42M344.24 117.85h5.42M344.24 115.66h5.42M344.24 114.93h5.42M344.24 112.86h5.42M344.24 112.27h5.42M351.02 134.11h5.42M351.02 132.04h5.42M351.02 131.82h5.42M351.02 129.63h5.42M351.02 127.44h5.42M351.02 124.15h5.42M351.02 119.78h5.42M351.02 114.08h5.42M351.02 113.6h5.42M351.02 111.41h5.42M351.02 109.22h5.42M351.02 105.94h5.42M351.02 104.84h5.42M351.02 101.74h5.42M351.02 100.86h5.42M357.79 134.44h5.42M357.79 133.06h5.42M357.79 132.91h5.42M357.79 131.45h5.42M357.79 129.99h5.42M357.79 127.8h5.42M357.79 124.88h5.42M357.79 121.09h5.42M357.79 120.77h5.42M357.79 119.31h5.42M357.79 117.85h5.42M357.79 115.66h5.42M357.79 114.93h5.42M357.79 112.86h5.42M357.79 112.27h5.42M364.56 133.79h5.42M364.56 131.01h5.42M364.56 130.72h5.42M364.56 127.8h5.42M364.56 124.88h5.42M364.56 120.51h5.42M364.56 114.67h5.42M364.56 107.08h5.42M364.56 106.44h5.42M364.56 103.52h5.42M364.56 100.6h5.42M364.56 96.22h5.42M364.56 94.76h5.42M364.56 90.61h5.42M364.56 89.45h5.42M371.33 133.79h5.42M371.33 131.01h5.42M371.33 130.72h5.42M371.33 127.8h5.42M371.33 124.88h5.42M371.33 120.51h5.42M371.33 114.67h5.42M371.33 107.08h5.42M371.33 106.44h5.42M371.33 103.52h5.42M371.33 100.6h5.42M371.33 96.22h5.42M371.33 94.76h5.42M371.33 90.61h5.42M371.33 89.45h5.42M378.1 132.8h5.42M378.1 127.95h5.42M378.1 127.44h5.42M378.1 122.33h5.42M378.1 117.22h5.42M378.1 109.56h5.42M378.1 99.34h5.42M378.1 86.06h5.42M378.1 84.94h5.42M378.1 79.83h5.42M378.1 74.72h5.42M378.1 67.06h5.42M378.1 64.5h5.42M378.1 57.25h5.42M378.1 55.21h5.42M384.88 133.13h5.42M384.88 128.97h5.42M384.88 128.53h5.42M384.88 124.15h5.42M384.88 119.78h5.42M384.88 113.21h5.42M384.88 104.45h5.42M384.88 93.07h5.42M384.88 92.1h5.42M384.88 87.73h5.42M384.88 83.35h5.42M384.88 76.78h5.42M384.88 74.59h5.42M384.88 68.37h5.42M384.88 66.62h5.42M391.65 133.13h5.42M391.65 128.97h5.42M391.65 128.53h5.42M391.65 124.15h5.42M391.65 119.78h5.42M391.65 113.21h5.42M391.65 104.45h5.42M391.65 93.07h5.42M391.65 92.1h5.42M391.65 87.73h5.42M391.65 83.35h5.42M391.65 76.78h5.42M391.65 74.59h5.42M391.65 68.37h5.42M391.65 66.62h5.42M398.42 131.82h5.42M398.42 124.88h5.42M398.42 124.15h5.42M398.42 116.86h5.42M398.42 109.56h5.42M398.42 98.61h5.42M398.42 84.02h5.42M398.42 65.04h5.42M398.42 63.44h5.42M398.42 56.14h5.42M398.42 48.84h5.42M398.42 37.9h5.42M398.42 34.25h5.42M398.42 23.89h5.42M398.42 20.97h5.42" stroke="#000" stroke-opacity="0.8" stroke-width="0.5" fill="none"/>
<path d="M242.66 72.78h5.42v62.32h-5.42zM249.44 72.78h5.42v62.32h-5.42zM256.21 72.78h5.42v62.32h-5.42zM262.98 72.78h5.42v62.32h-5.42zM269.75 72.78h5.42v62.32h-5.42zM276.52 85.24h5.42v49.86h-5.42zM283.3 85.24h5.42v49.86h-5.42zM290.07 85.24h5.42v49.86h-5.42zM296.84 85.24h5.42v49.86h-5.42zM303.61 97.71h5.42v37.39h-5.42zM310.38 110.17h5.42v24.93h-5.42zM317.16 122.64h5.42v12.46h-5.42zM323.93 110.17h5.42v24.93h-5.42zM330.7 110.17h5.42v24.93h-5.42zM337.47 110.17h5.42v24.93h-5.42zM344.24 110.17h5.42v24.93h-5.42zM351.02 97.71h5.42v37.39h-5.42zM357.79 110.17h5.42v24.93h-5.42zM364.56 85.24h5.42v49.86h-5.42zM371.33 85.24h5.42v49.86h-5.42zM378.1 47.85h5.42v87.25h-5.42zM384.88 60.32h5.42v74.78h-5.42zM391.65 60.32h5.42v74.78h-5.42zM398.42 10.46h5.42v124.64h-5.42z" stroke="#000" stroke-opacity="0.55" stroke-width="0.7" fill="none"/>
</g>
<rect x="238.6" y="3.9" width="169.3" height="131.2" fill="none" stroke="#808080" stroke-width="0.7"/>
<path d="M238.6 135.1v-1.3M238.6 3.9v1.3M272.46 135.1v-1.3M272.46 3.9v1.3M306.32 135.1v-1.3M306.32 3.9v1.3M340.18 135.1v-1.3M340.18 3.9v1.3M374.04 135.1v-1.3M374.04 3.9v1.3M407.9 135.1v-1.3M407.9 3.9v1.3M238.6 135.1h1.3M407.9 135.1h-1.3M238.6 120.52h1.3M407.9 120.52h-1.3M238.6 105.94h1.3M407.9 105.94h-1.3M238.6 91.37h1.3M407.9 91.37h-1.3M238.6 76.79h1.3M407.9 76.79h-1.3M238.6 62.21h1.3M407.9 62.21h-1.3M238.6 47.63h1.3M407.9 47.63h-1.3M238.6 33.06h1.3M407.9 33.06h-1.3M238.6 18.48h1.3M407.9 18.48h-1.3M238.6 3.9h1.3M407.9 3.9h-1.3" stroke="#808080" stroke-width="0.5" fill="none"/>
<g font-family="Liberation Sans, sans-serif" font-size="5.2" fill="#222" stroke="#222" stroke-width="0.15">
<text x="238.6" y="143.4" text-anchor="middle">0</text>
<text x="272.46" y="143.4" text-anchor="middle">5</text>
<text x="306.32" y="143.4" text-anchor="middle">10</text>
<text x="340.18" y="143.4" text-anchor="middle">15</text>
<text x="374.04" y="143.4" text-anchor="middle">20</text>
<text x="407.9" y="143.4" text-anchor="middle">25</text>
<text x="236.5" y="137.6" text-anchor="end">0</text>
<text x="236.5" y="123.02" text-anchor="end">20</text>
<text x="236.5" y="108.44" text-anchor="end">40</text>
<text x="236.5" y="93.87" text-anchor="end">60</text>
<text x="236.5" y="79.29" text-anchor="end">80</text>
<text x="236.5" y="64.71" text-anchor="end">100</text>
<text x="236.5" y="50.13" text-anchor="end">120</text>
<text x="236.5" y="35.56" text-anchor="end">140</text>
<text x="236.5" y="20.98" text-anchor="end">160</text>
<text x="236.5" y="6.4" text-anchor="end">180</text>
</g>
<text x="323.25" y="153.1" text-anchor="middle" font-family="Liberation Sans, sans-serif" font-size="8.4" fill="#222" stroke="#222" stroke-width="0.15">Time (hours)</text>
<text transform="translate(225.7 72.9) rotate(-90)" text-anchor="middle" font-family="Liberation Sans, sans-serif" font-size="8.4" fill="#222" stroke="#222" stroke-width="0.15" xml:space="preserve">Electricity Consumption (kWh)</text>
<text x="313.7" y="170.6" text-anchor="middle" font-family="Liberation Serif, serif" font-size="9.75" fill="#111" stroke="#111" stroke-width="0.12">(<tspan font-weight="bold">b</tspan>) SBA</text>
</g>
<g>
<path d="M62.81 194.25V326M96.67 194.25V326M130.53 194.25V326M164.39 194.25V326M28.95 307.18H198.25M28.95 288.36H198.25M28.95 269.54H198.25M28.95 250.71H198.25M28.95 231.89H198.25M28.95 213.07H198.25" stroke="#e2e2e2" stroke-width="0.5" fill="none"/>
<g>
<path fill="#3e26a8" d="M33.01 323.88h5.42v2.17h-5.42zM39.79 323.46h5.42v2.59h-5.42zM46.56 323.46h5.42v2.59h-5.42zM53.33 323.46h5.42v2.59h-5.42zM60.1 324.3h5.42v1.75h-5.42zM66.87 324.73h5.42v1.32h-5.42zM73.65 324.3h5.42v1.75h-5.42zM80.42 324.73h5.42v1.32h-5.42zM87.19 324.73h5.42v1.32h-5.42zM93.96 324.73h5.42v1.32h-5.42zM100.73 325.58h5.42v0.47h-5.42zM107.51 325.58h5.42v0.47h-5.42zM114.28 325.58h5.42v0.47h-5.42zM121.05 325.58h5.42v0.47h-5.42zM127.82 325.15h5.42v0.9h-5.42zM134.59 325.15h5.42v0.9h-5.42zM141.37 324.73h5.42v1.32h-5.42zM148.14 324.73h5.42v1.32h-5.42zM154.91 323.46h5.42v2.59h-5.42zM161.68 323.46h5.42v2.59h-5.42zM168.45 323.46h5.42v2.59h-5.42zM175.23 323.46h5.42v2.59h-5.42zM182 322.61h5.42v3.44h-5.42zM188.77 322.61h5.42v3.44h-5.42z"/>
<path fill="#4538d7" d="M33.01 319.4h5.42v4.53h-5.42zM39.79 318.09h5.42v5.42h-5.42zM46.56 318.09h5.42v5.42h-5.42zM53.33 318.09h5.42v5.42h-5.42zM60.1 320.72h5.42v3.63h-5.42zM66.87 322.04h5.42v2.74h-5.42zM73.65 320.72h5.42v3.63h-5.42zM80.42 322.04h5.42v2.74h-5.42zM87.19 322.04h5.42v2.74h-5.42zM93.96 322.04h5.42v2.74h-5.42zM100.73 324.68h5.42v0.95h-5.42zM107.51 324.68h5.42v0.95h-5.42zM114.28 324.68h5.42v0.95h-5.42zM121.05 324.68h5.42v0.95h-5.42zM127.82 323.36h5.42v1.84h-5.42zM134.59 323.36h5.42v1.84h-5.42zM141.37 322.04h5.42v2.74h-5.42zM148.14 322.04h5.42v2.74h-5.42zM154.91 318.09h5.42v5.42h-5.42zM161.68 318.09h5.42v5.42h-5.42zM168.45 318.09h5.42v5.42h-5.42zM175.23 318.09h5.42v5.42h-5.42zM182 315.45h5.42v7.21h-5.42zM188.77 315.45h5.42v7.21h-5.42z"/>
<path fill="#484ff2" d="M33.01 318.93h5.42v0.52h-5.42zM39.79 317.52h5.42v0.62h-5.42zM46.56 317.52h5.42v0.62h-5.42zM53.33 317.52h5.42v0.62h-5.42zM60.1 320.35h5.42v0.43h-5.42zM66.87 321.76h5.42v0.33h-5.42zM73.65 320.35h5.42v0.43h-5.42zM80.42 321.76h5.42v0.33h-5.42zM87.19 321.76h5.42v0.33h-5.42zM93.96 321.76h5.42v0.33h-5.42zM100.73 324.59h5.42v0.14h-5.42zM107.51 324.59h5.42v0.14h-5.42zM114.28 324.59h5.42v0.14h-5.42zM121.05 324.59h5.42v0.14h-5.42zM127.82 323.17h5.42v0.24h-5.42zM134.59 323.17h5.42v0.24h-5.42zM141.37 321.76h5.42v0.33h-5.42zM148.14 321.76h5.42v0.33h-5.42zM154.91 317.52h5.42v0.62h-5.42zM161.68 317.52h5.42v0.62h-5.42zM168.45 317.52h5.42v0.62h-5.42zM175.23 317.52h5.42v0.62h-5.42zM182 314.69h5.42v0.8h-5.42zM188.77 314.69h5.42v0.8h-5.42z"/>
<path fill="#4367fd" d="M33.01 314.22h5.42v4.76h-5.42zM39.79 311.87h5.42v5.7h-5.42zM46.56 311.87h5.42v5.7h-5.42zM53.33 311.87h5.42v5.7h-5.42zM60.1 316.58h5.42v3.82h-5.42zM66.87 318.93h5.42v2.88h-5.42zM73.65 316.58h5.42v3.82h-5.42zM80.42 318.93h5.42v2.88h-5.42zM87.19 318.93h5.42v2.88h-5.42zM93.96 318.93h5.42v2.88h-5.42zM100.73 323.64h5.42v0.99h-5.42zM107.51 323.64h5.42v0.99h-5.42zM114.28 323.64h5.42v0.99h-5.42zM121.05 323.64h5.42v0.99h-5.42zM127.82 321.29h5.42v1.93h-5.42zM134.59 321.29h5.42v1.93h-5.42zM141.37 318.93h5.42v2.88h-5.42zM148.14 318.93h5.42v2.88h-5.42zM154.91 311.87h5.42v5.7h-5.42zM161.68 311.87h5.42v5.7h-5.42zM168.45 311.87h5.42v5.7h-5.42zM175.23 311.87h5.42v5.7h-5.42zM182 307.16h5.42v7.59h-5.42zM188.77 307.16h5.42v7.59h-5.42z"/>
<path fill="#2f80fa" d="M33.01 309.51h5.42v4.76h-5.42zM39.79 306.21h5.42v5.7h-5.42zM46.56 306.21h5.42v5.7h-5.42zM53.33 306.21h5.42v5.7h-5.42zM60.1 312.81h5.42v3.82h-5.42zM66.87 316.11h5.42v2.88h-5.42zM73.65 312.81h5.42v3.82h-5.42zM80.42 316.11h5.42v2.88h-5.42zM87.19 316.11h5.42v2.88h-5.42zM93.96 316.11h5.42v2.88h-5.42zM100.73 322.7h5.42v0.99h-5.42zM107.51 322.7h5.42v0.99h-5.42zM114.28 322.7h5.42v0.99h-5.42zM121.05 322.7h5.42v0.99h-5.42zM127.82 319.4h5.42v1.93h-5.42zM134.59 319.4h5.42v1.93h-5.42zM141.37 316.11h5.42v2.88h-5.42zM148.14 316.11h5.42v2.88h-5.42zM154.91 306.21h5.42v5.7h-5.42zM161.68 306.21h5.42v5.7h-5.42zM168.45 306.21h5.42v5.7h-5.42zM175.23 306.21h5.42v5.7h-5.42zM182 299.62h5.42v7.59h-5.42zM188.77 299.62h5.42v7.59h-5.42z"/>
<path fill="#2797eb" d="M33.01 302.45h5.42v7.12h-5.42zM39.79 297.73h5.42v8.53h-5.42zM46.56 297.73h5.42v8.53h-5.42zM53.33 297.73h5.42v8.53h-5.42zM60.1 307.16h5.42v5.7h-5.42zM66.87 311.87h5.42v4.29h-5.42zM73.65 307.16h5.42v5.7h-5.42zM80.42 311.87h5.42v4.29h-5.42zM87.19 311.87h5.42v4.29h-5.42zM93.96 311.87h5.42v4.29h-5.42zM100.73 321.29h5.42v1.46h-5.42zM107.51 321.29h5.42v1.46h-5.42zM114.28 321.29h5.42v1.46h-5.42zM121.05 321.29h5.42v1.46h-5.42zM127.82 316.58h5.42v2.88h-5.42zM134.59 316.58h5.42v2.88h-5.42zM141.37 311.87h5.42v4.29h-5.42zM148.14 311.87h5.42v4.29h-5.42zM154.91 297.73h5.42v8.53h-5.42zM161.68 297.73h5.42v8.53h-5.42zM168.45 297.73h5.42v8.53h-5.42zM175.23 297.73h5.42v8.53h-5.42zM182 288.31h5.42v11.36h-5.42zM188.77 288.31h5.42v11.36h-5.42z"/>
<path fill="#1caadf" d="M33.01 293.02h5.42v9.47h-5.42zM39.79 286.43h5.42v11.36h-5.42zM46.56 286.43h5.42v11.36h-5.42zM53.33 286.43h5.42v11.36h-5.42zM60.1 299.62h5.42v7.59h-5.42zM66.87 306.21h5.42v5.7h-5.42zM73.65 299.62h5.42v7.59h-5.42zM80.42 306.21h5.42v5.7h-5.42zM87.19 306.21h5.42v5.7h-5.42zM93.96 306.21h5.42v5.7h-5.42zM100.73 319.4h5.42v1.93h-5.42zM107.51 319.4h5.42v1.93h-5.42zM114.28 319.4h5.42v1.93h-5.42zM121.05 319.4h5.42v1.93h-5.42zM127.82 312.81h5.42v3.82h-5.42zM134.59 312.81h5.42v3.82h-5.42zM141.37 306.21h5.42v5.7h-5.42zM148.14 306.21h5.42v5.7h-5.42zM154.91 286.43h5.42v11.36h-5.42zM161.68 286.43h5.42v11.36h-5.42zM168.45 286.43h5.42v11.36h-5.42zM175.23 286.43h5.42v11.36h-5.42zM182 273.24h5.42v15.12h-5.42zM188.77 273.24h5.42v15.12h-5.42z"/>
<path fill="#01b9c7" d="M33.01 280.78h5.42v12.3h-5.42zM39.79 271.73h5.42v14.75h-5.42zM46.56 271.73h5.42v14.75h-5.42zM53.33 271.73h5.42v14.75h-5.42zM60.1 289.82h5.42v9.85h-5.42zM66.87 298.87h5.42v7.4h-5.42zM73.65 289.82h5.42v9.85h-5.42zM80.42 298.87h5.42v7.4h-5.42zM87.19 298.87h5.42v7.4h-5.42zM93.96 298.87h5.42v7.4h-5.42zM100.73 316.96h5.42v2.5h-5.42zM107.51 316.96h5.42v2.5h-5.42zM114.28 316.96h5.42v2.5h-5.42zM121.05 316.96h5.42v2.5h-5.42zM127.82 307.91h5.42v4.95h-5.42zM134.59 307.91h5.42v4.95h-5.42zM141.37 298.87h5.42v7.4h-5.42zM148.14 298.87h5.42v7.4h-5.42zM154.91 271.73h5.42v14.75h-5.42zM161.68 271.73h5.42v14.75h-5.42zM168.45 271.73h5.42v14.75h-5.42zM175.23 271.73h5.42v14.75h-5.42zM182 253.64h5.42v19.65h-5.42zM188.77 253.64h5.42v19.65h-5.42z"/>
<path fill="#29c3aa" d="M33.01 279.74h5.42v1.09h-5.42zM39.79 270.49h5.42v1.29h-5.42zM46.56 270.49h5.42v1.29h-5.42zM53.33 270.49h5.42v1.29h-5.42zM60.1 288.99h5.42v0.88h-5.42zM66.87 298.24h5.42v0.67h-5.42zM73.65 288.99h5.42v0.88h-5.42zM80.42 298.24h5.42v0.67h-5.42zM87.19 298.24h5.42v0.67h-5.42zM93.96 298.24h5.42v0.67h-5.42zM100.73 316.75h5.42v0.26h-5.42zM107.51 316.75h5.42v0.26h-5.42zM114.28 316.75h5.42v0.26h-5.42zM121.05 316.75h5.42v0.26h-5.42zM127.82 307.5h5.42v0.46h-5.42zM134.59 307.5h5.42v0.46h-5.42zM141.37 298.24h5.42v0.67h-5.42zM148.14 298.24h5.42v0.67h-5.42zM154.91 270.49h5.42v1.29h-5.42zM161.68 270.49h5.42v1.29h-5.42zM168.45 270.49h5.42v1.29h-5.42zM175.23 270.49h5.42v1.29h-5.42zM182 251.98h5.42v1.71h-5.42zM188.77 251.98h5.42v1.71h-5.42z"/>
<path fill="#48cb86" d="M33.01 275.03h5.42v4.76h-5.42zM39.79 264.83h5.42v5.7h-5.42zM46.56 264.83h5.42v5.7h-5.42zM53.33 264.83h5.42v5.7h-5.42zM60.1 285.22h5.42v3.82h-5.42zM66.87 295.42h5.42v2.88h-5.42zM73.65 285.22h5.42v3.82h-5.42zM80.42 295.42h5.42v2.88h-5.42zM87.19 295.42h5.42v2.88h-5.42zM93.96 295.42h5.42v2.88h-5.42zM100.73 315.81h5.42v0.99h-5.42zM107.51 315.81h5.42v0.99h-5.42zM114.28 315.81h5.42v0.99h-5.42zM121.05 315.81h5.42v0.99h-5.42zM127.82 305.61h5.42v1.93h-5.42zM134.59 305.61h5.42v1.93h-5.42zM141.37 295.42h5.42v2.88h-5.42zM148.14 295.42h5.42v2.88h-5.42zM154.91 264.83h5.42v5.7h-5.42zM161.68 264.83h5.42v5.7h-5.42zM168.45 264.83h5.42v5.7h-5.42zM175.23 264.83h5.42v5.7h-5.42zM182 244.45h5.42v7.59h-5.42zM188.77 244.45h5.42v7.59h-5.42z"/>
<path fill="#81cc59" d="M33.01 270.32h5.42v4.76h-5.42zM39.79 259.18h5.42v5.7h-5.42zM46.56 259.18h5.42v5.7h-5.42zM53.33 259.18h5.42v5.7h-5.42zM60.1 281.45h5.42v3.82h-5.42zM66.87 292.59h5.42v2.88h-5.42zM73.65 281.45h5.42v3.82h-5.42zM80.42 292.59h5.42v2.88h-5.42zM87.19 292.59h5.42v2.88h-5.42zM93.96 292.59h5.42v2.88h-5.42zM100.73 314.86h5.42v0.99h-5.42zM107.51 314.86h5.42v0.99h-5.42zM114.28 314.86h5.42v0.99h-5.42zM121.05 314.86h5.42v0.99h-5.42zM127.82 303.73h5.42v1.93h-5.42zM134.59 303.73h5.42v1.93h-5.42zM141.37 292.59h5.42v2.88h-5.42zM148.14 292.59h5.42v2.88h-5.42zM154.91 259.18h5.42v5.7h-5.42zM161.68 259.18h5.42v5.7h-5.42zM168.45 259.18h5.42v5.7h-5.42zM175.23 259.18h5.42v5.7h-5.42zM182 236.91h5.42v7.59h-5.42zM188.77 236.91h5.42v7.59h-5.42z"/>
<path fill="#bbc42f" d="M33.01 263.25h5.42v7.12h-5.42zM39.79 250.7h5.42v8.53h-5.42zM46.56 250.7h5.42v8.53h-5.42zM53.33 250.7h5.42v8.53h-5.42zM60.1 275.8h5.42v5.7h-5.42zM66.87 288.35h5.42v4.29h-5.42zM73.65 275.8h5.42v5.7h-5.42zM80.42 288.35h5.42v4.29h-5.42zM87.19 288.35h5.42v4.29h-5.42zM93.96 288.35h5.42v4.29h-5.42zM100.73 313.45h5.42v1.46h-5.42zM107.51 313.45h5.42v1.46h-5.42zM114.28 313.45h5.42v1.46h-5.42zM121.05 313.45h5.42v1.46h-5.42zM127.82 300.9h5.42v2.88h-5.42zM134.59 300.9h5.42v2.88h-5.42zM141.37 288.35h5.42v4.29h-5.42zM148.14 288.35h5.42v4.29h-5.42zM154.91 250.7h5.42v8.53h-5.42zM161.68 250.7h5.42v8.53h-5.42zM168.45 250.7h5.42v8.53h-5.42zM175.23 250.7h5.42v8.53h-5.42zM182 225.6h5.42v11.36h-5.42zM188.77 225.6h5.42v11.36h-5.42z"/>
<path fill="#eaba31" d="M33.01 260.9h5.42v2.41h-5.42zM39.79 247.87h5.42v2.88h-5.42zM46.56 247.87h5.42v2.88h-5.42zM53.33 247.87h5.42v2.88h-5.42zM60.1 273.92h5.42v1.93h-5.42zM66.87 286.94h5.42v1.46h-5.42zM73.65 273.92h5.42v1.93h-5.42zM80.42 286.94h5.42v1.46h-5.42zM87.19 286.94h5.42v1.46h-5.42zM93.96 286.94h5.42v1.46h-5.42zM100.73 312.98h5.42v0.52h-5.42zM107.51 312.98h5.42v0.52h-5.42zM114.28 312.98h5.42v0.52h-5.42zM121.05 312.98h5.42v0.52h-5.42zM127.82 299.96h5.42v0.99h-5.42zM134.59 299.96h5.42v0.99h-5.42zM141.37 286.94h5.42v1.46h-5.42zM148.14 286.94h5.42v1.46h-5.42zM154.91 247.87h5.42v2.88h-5.42zM161.68 247.87h5.42v2.88h-5.42zM168.45 247.87h5.42v2.88h-5.42zM175.23 247.87h5.42v2.88h-5.42zM182 221.83h5.42v3.82h-5.42zM188.77 221.83h5.42v3.82h-5.42z"/>
<path fill="#fec735" d="M33.01 254.21h5.42v6.74h-5.42zM39.79 239.85h5.42v8.08h-5.42zM46.56 239.85h5.42v8.08h-5.42zM53.33 239.85h5.42v8.08h-5.42zM60.1 268.57h5.42v5.4h-5.42zM66.87 282.92h5.42v4.06h-5.42zM73.65 268.57h5.42v5.4h-5.42zM80.42 282.92h5.42v4.06h-5.42zM87.19 282.92h5.42v4.06h-5.42zM93.96 282.92h5.42v4.06h-5.42zM100.73 311.64h5.42v1.39h-5.42zM107.51 311.64h5.42v1.39h-5.42zM114.28 311.64h5.42v1.39h-5.42zM121.05 311.64h5.42v1.39h-5.42zM127.82 297.28h5.42v2.73h-5.42zM134.59 297.28h5.42v2.73h-5.42zM141.37 282.92h5.42v4.06h-5.42zM148.14 282.92h5.42v4.06h-5.42zM154.91 239.85h5.42v8.08h-5.42zM161.68 239.85h5.42v8.08h-5.42zM168.45 239.85h5.42v8.08h-5.42zM175.23 239.85h5.42v8.08h-5.42zM182 211.13h5.42v10.75h-5.42zM188.77 211.13h5.42v10.75h-5.42z"/>
<path fill="#f5e128" d="M33.01 252.32h5.42v1.93h-5.42zM39.79 237.59h5.42v2.31h-5.42zM46.56 237.59h5.42v2.31h-5.42zM53.33 237.59h5.42v2.31h-5.42zM60.1 267.06h5.42v1.56h-5.42zM66.87 281.79h5.42v1.18h-5.42zM73.65 267.06h5.42v1.56h-5.42zM80.42 281.79h5.42v1.18h-5.42zM87.19 281.79h5.42v1.18h-5.42zM93.96 281.79h5.42v1.18h-5.42zM100.73 311.26h5.42v0.43h-5.42zM107.51 311.26h5.42v0.43h-5.42zM114.28 311.26h5.42v0.43h-5.42zM121.05 311.26h5.42v0.43h-5.42zM127.82 296.53h5.42v0.8h-5.42zM134.59 296.53h5.42v0.8h-5.42zM141.37 281.79h5.42v1.18h-5.42zM148.14 281.79h5.42v1.18h-5.42zM154.91 237.59h5.42v2.31h-5.42zM161.68 237.59h5.42v2.31h-5.42zM168.45 237.59h5.42v2.31h-5.42zM175.23 237.59h5.42v2.31h-5.42zM182 208.12h5.42v3.06h-5.42zM188.77 208.12h5.42v3.06h-5.42z"/>
<path fill="#f9fb15" d="M33.01 245.54h5.42v6.83h-5.42zM39.79 229.45h5.42v8.19h-5.42zM46.56 229.45h5.42v8.19h-5.42zM53.33 229.45h5.42v8.19h-5.42zM60.1 261.63h5.42v5.48h-5.42zM66.87 277.72h5.42v4.12h-5.42zM73.65 261.63h5.42v5.48h-5.42zM80.42 277.72h5.42v4.12h-5.42zM87.19 277.72h5.42v4.12h-5.42zM93.96 277.72h5.42v4.12h-5.42zM100.73 309.91h5.42v1.41h-5.42zM107.51 309.91h5.42v1.41h-5.42zM114.28 309.91h5.42v1.41h-5.42zM121.05 309.91h5.42v1.41h-5.42zM127.82 293.82h5.42v2.76h-5.42zM134.59 293.82h5.42v2.76h-5.42zM141.37 277.72h5.42v4.12h-5.42zM148.14 277.72h5.42v4.12h-5.42zM154.91 229.45h5.42v8.19h-5.42zM161.68 229.45h5.42v8.19h-5.42zM168.45 229.45h5.42v8.19h-5.42zM175.23 229.45h5.42v8.19h-5.42zM182 197.26h5.42v10.9h-5.42zM188.77 197.26h5.42v10.9h-5.42z"/>
<path d="M33.01 323.88h5.42M33.01 319.4h5.42M33.01 318.93h5.42M33.01 314.22h5.42M33.01 309.51h5.42M33.01 302.45h5.42M33.01 293.02h5.42M33.01 280.78h5.42M33.01 279.74h5.42M33.01 275.03h5.42M33.01 270.32h5.42M33.01 263.25h5.42M33.01 260.9h5.42M33.01 254.21h5.42M33.01 252.32h5.42M39.79 323.46h5.42M39.79 318.09h5.42M39.79 317.52h5.42M39.79 311.87h5.42M39.79 306.21h5.42M39.79 297.73h5.42M39.79 286.43h5.42M39.79 271.73h5.42M39.79 270.49h5.42M39.79 264.83h5.42M39.79 259.18h5.42M39.79 250.7h5.42M39.79 247.87h5.42M39.79 239.85h5.42M39.79 237.59h5.42M46.56 323.46h5.42M46.56 318.09h5.42M46.56 317.52h5.42M46.56 311.87h5.42M46.56 306.21h5.42M46.56 297.73h5.42M46.56 286.43h5.42M46.56 271.73h5.42M46.56 270.49h5.42M46.56 264.83h5.42M46.56 259.18h5.42M46.56 250.7h5.42M46.56 247.87h5.42M46.56 239.85h5.42M46.56 237.59h5.42M53.33 323.46h5.42M53.33 318.09h5.42M53.33 317.52h5.42M53.33 311.87h5.42M53.33 306.21h5.42M53.33 297.73h5.42M53.33 286.43h5.42M53.33 271.73h5.42M53.33 270.49h5.42M53.33 264.83h5.42M53.33 259.18h5.42M53.33 250.7h5.42M53.33 247.87h5.42M53.33 239.85h5.42M53.33 237.59h5.42M60.1 324.3h5.42M60.1 320.72h5.42M60.1 320.35h5.42M60.1 316.58h5.42M60.1 312.81h5.42M60.1 307.16h5.42M60.1 299.62h5.42M60.1 289.82h5.42M60.1 288.99h5.42M60.1 285.22h5.42M60.1 281.45h5.42M60.1 275.8h5.42M60.1 273.92h5.42M60.1 268.57h5.42M60.1 267.06h5.42M66.87 324.73h5.42M66.87 322.04h5.42M66.87 321.76h5.42M66.87 318.93h5.42M66.87 316.11h5.42M66.87 311.87h5.42M66.87 306.21h5.42M66.87 298.87h5.42M66.87 298.24h5.42M66.87 295.42h5.42M66.87 292.59h5.42M66.87 288.35h5.42M66.87 286.94h5.42M66.87 282.92h5.42M66.87 281.79h5.42M73.65 324.3h5.42M73.65 320.72h5.42M73.65 320.35h5.42M73.65 316.58h5.42M73.65 312.81h5.42M73.65 307.16h5.42M73.65 299.62h5.42M73.65 289.82h5.42M73.65 288.99h5.42M73.65 285.22h5.42M73.65 281.45h5.42M73.65 275.8h5.42M73.65 273.92h5.42M73.65 268.57h5.42M73.65 267.06h5.42M80.42 324.73h5.42M80.42 322.04h5.42M80.42 321.76h5.42M80.42 318.93h5.42M80.42 316.11h5.42M80.42 311.87h5.42M80.42 306.21h5.42M80.42 298.87h5.42M80.42 298.24h5.42M80.42 295.42h5.42M80.42 292.59h5.42M80.42 288.35h5.42M80.42 286.94h5.42M80.42 282.92h5.42M80.42 281.79h5.42M87.19 324.73h5.42M87.19 322.04h5.42M87.19 321.76h5.42M87.19 318.93h5.42M87.19 316.11h5.42M87.19 311.87h5.42M87.19 306.21h5.42M87.19 298.87h5.42M87.19 298.24h5.42M87.19 295.42h5.42M87.19 292.59h5.42M87.19 288.35h5.42M87.19 286.94h5.42M87.19 282.92h5.42M87.19 281.79h5.42M93.96 324.73h5.42M93.96 322.04h5.42M93.96 321.76h5.42M93.96 318.93h5.42M93.96 316.11h5.42M93.96 311.87h5.42M93.96 306.21h5.42M93.96 298.87h5.42M93.96 298.24h5.42M93.96 295.42h5.42M93.96 292.59h5.42M93.96 288.35h5.42M93.96 286.94h5.42M93.96 282.92h5.42M93.96 281.79h5.42M100.73 325.58h5.42M100.73 324.68h5.42M100.73 324.59h5.42M100.73 323.64h5.42M100.73 322.7h5.42M100.73 321.29h5.42M100.73 319.4h5.42M100.73 316.96h5.42M100.73 316.75h5.42M100.73 315.81h5.42M100.73 314.86h5.42M100.73 313.45h5.42M100.73 312.98h5.42M100.73 311.64h5.42M100.73 311.26h5.42M107.51 325.58h5.42M107.51 324.68h5.42M107.51 324.59h5.42M107.51 323.64h5.42M107.51 322.7h5.42M107.51 321.29h5.42M107.51 319.4h5.42M107.51 316.96h5.42M107.51 316.75h5.42M107.51 315.81h5.42M107.51 314.86h5.42M107.51 313.45h5.42M107.51 312.98h5.42M107.51 311.64h5.42M107.51 311.26h5.42M114.28 325.58h5.42M114.28 324.68h5.42M114.28 324.59h5.42M114.28 323.64h5.42M114.28 322.7h5.42M114.28 321.29h5.42M114.28 319.4h5.42M114.28 316.96h5.42M114.28 316.75h5.42M114.28 315.81h5.42M114.28 314.86h5.42M114.28 313.45h5.42M114.28 312.98h5.42M114.28 311.64h5.42M114.28 311.26h5.42M121.05 325.58h5.42M121.05 324.68h5.42M121.05 324.59h5.42M121.05 323.64h5.42M121.05 322.7h5.42M121.05 321.29h5.42M121.05 319.4h5.42M121.05 316.96h5.42M121.05 316.75h5.42M121.05 315.81h5.42M121.05 314.86h5.42M121.05 313.45h5.42M121.05 312.98h5.42M121.05 311.64h5.42M121.05 311.26h5.42M127.82 325.15h5.42M127.82 323.36h5.42M127.82 323.17h5.42M127.82 321.29h5.42M127.82 319.4h5.42M127.82 316.58h5.42M127.82 312.81h5.42M127.82 307.91h5.42M127.82 307.5h5.42M127.82 305.61h5.42M127.82 303.73h5.42M127.82 300.9h5.42M127.82 299.96h5.42M127.82 297.28h5.42M127.82 296.53h5.42M134.59 325.15h5.42M134.59 323.36h5.42M134.59 323.17h5.42M134.59 321.29h5.42M134.59 319.4h5.42M134.59 316.58h5.42M134.59 312.81h5.42M134.59 307.91h5.42M134.59 307.5h5.42M134.59 305.61h5.42M134.59 303.73h5.42M134.59 300.9h5.42M134.59 299.96h5.42M134.59 297.28h5.42M134.59 296.53h5.42M141.37 324.73h5.42M141.37 322.04h5.42M141.37 321.76h5.42M141.37 318.93h5.42M141.37 316.11h5.42M141.37 311.87h5.42M141.37 306.21h5.42M141.37 298.87h5.42M141.37 298.24h5.42M141.37 295.42h5.42M141.37 292.59h5.42M141.37 288.35h5.42M141.37 286.94h5.42M141.37 282.92h5.42M141.37 281.79h5.42M148.14 324.73h5.42M148.14 322.04h5.42M148.14 321.76h5.42M148.14 318.93h5.42M148.14 316.11h5.42M148.14 311.87h5.42M148.14 306.21h5.42M148.14 298.87h5.42M148.14 298.24h5.42M148.14 295.42h5.42M148.14 292.59h5.42M148.14 288.35h5.42M148.14 286.94h5.42M148.14 282.92h5.42M148.14 281.79h5.42M154.91 323.46h5.42M154.91 318.09h5.42M154.91 317.52h5.42M154.91 311.87h5.42M154.91 306.21h5.42M154.91 297.73h5.42M154.91 286.43h5.42M154.91 271.73h5.42M154.91 270.49h5.42M154.91 264.83h5.42M154.91 259.18h5.42M154.91 250.7h5.42M154.91 247.87h5.42M154.91 239.85h5.42M154.91 237.59h5.42M161.68 323.46h5.42M161.68 318.09h5.42M161.68 317.52h5.42M161.68 311.87h5.42M161.68 306.21h5.42M161.68 297.73h5.42M161.68 286.43h5.42M161.68 271.73h5.42M161.68 270.49h5.42M161.68 264.83h5.42M161.68 259.18h5.42M161.68 250.7h5.42M161.68 247.87h5.42M161.68 239.85h5.42M161.68 237.59h5.42M168.45 323.46h5.42M168.45 318.09h5.42M168.45 317.52h5.42M168.45 311.87h5.42M168.45 306.21h5.42M168.45 297.73h5.42M168.45 286.43h5.42M168.45 271.73h5.42M168.45 270.49h5.42M168.45 264.83h5.42M168.45 259.18h5.42M168.45 250.7h5.42M168.45 247.87h5.42M168.45 239.85h5.42M168.45 237.59h5.42M175.23 323.46h5.42M175.23 318.09h5.42M175.23 317.52h5.42M175.23 311.87h5.42M175.23 306.21h5.42M175.23 297.73h5.42M175.23 286.43h5.42M175.23 271.73h5.42M175.23 270.49h5.42M175.23 264.83h5.42M175.23 259.18h5.42M175.23 250.7h5.42M175.23 247.87h5.42M175.23 239.85h5.42M175.23 237.59h5.42M182 322.61h5.42M182 315.45h5.42M182 314.69h5.42M182 307.16h5.42M182 299.62h5.42M182 288.31h5.42M182 273.24h5.42M182 253.64h5.42M182 251.98h5.42M182 244.45h5.42M182 236.91h5.42M182 225.6h5.42M182 221.83h5.42M182 211.13h5.42M182 208.12h5.42M188.77 322.61h5.42M188.77 315.45h5.42M188.77 314.69h5.42M188.77 307.16h5.42M188.77 299.62h5.42M188.77 288.31h5.42M188.77 273.24h5.42M188.77 253.64h5.42M188.77 251.98h5.42M188.77 244.45h5.42M188.77 236.91h5.42M188.77 225.6h5.42M188.77 221.83h5.42M188.77 211.13h5.42M188.77 208.12h5.42" stroke="#000" stroke-opacity="0.8" stroke-width="0.5" fill="none"/>
<path d="M33.01 245.54h5.42v80.46h-5.42zM39.79 229.45h5.42v96.55h-5.42zM46.56 229.45h5.42v96.55h-5.42zM53.33 229.45h5.42v96.55h-5.42zM60.1 261.63h5.42v64.37h-5.42zM66.87 277.72h5.42v48.28h-5.42zM73.65 261.63h5.42v64.37h-5.42zM80.42 277.72h5.42v48.28h-5.42zM87.19 277.72h5.42v48.28h-5.42zM93.96 277.72h5.42v48.28h-5.42zM100.73 309.91h5.42v16.09h-5.42zM107.51 309.91h5.42v16.09h-5.42zM114.28 309.91h5.42v16.09h-5.42zM121.05 309.91h5.42v16.09h-5.42zM127.82 293.82h5.42v32.18h-5.42zM134.59 293.82h5.42v32.18h-5.42zM141.37 277.72h5.42v48.28h-5.42zM148.14 277.72h5.42v48.28h-5.42zM154.91 229.45h5.42v96.55h-5.42zM161.68 229.45h5.42v96.55h-5.42zM168.45 229.45h5.42v96.55h-5.42zM175.23 229.45h5.42v96.55h-5.42zM182 197.26h5.42v128.74h-5.42zM188.77 197.26h5.42v128.74h-5.42z" stroke="#000" stroke-opacity="0.55" stroke-width="0.7" fill="none"/>
</g>
<rect x="28.95" y="194.25" width="169.3" height="131.75" fill="none" stroke="#808080" stroke-width="0.7"/>
<path d="M28.95 326v-1.3M28.95 194.25v1.3M62.81 326v-1.3M62.81 194.25v1.3M96.67 326v-1.3M96.67 194.25v1.3M130.53 326v-1.3M130.53 194.25v1.3M164.39 326v-1.3M164.39 194.25v1.3M198.25 326v-1.3M198.25 194.25v1.3M28.95 326h1.3M198.25 326h-1.3M28.95 307.18h1.3M198.25 307.18h-1.3M28.95 288.36h1.3M198.25 288.36h-1.3M28.95 269.54h1.3M198.25 269.54h-1.3M28.95 250.71h1.3M198.25 250.71h-1.3M28.95 231.89h1.3M198.25 231.89h-1.3M28.95 213.07h1.3M198.25 213.07h-1.3M28.95 194.25h1.3M198.25 194.25h-1.3" stroke="#808080" stroke-width="0.5" fill="none"/>
<g font-family="Liberation Sans, sans-serif" font-size="5.2" fill="#222" stroke="#222" stroke-width="0.15">
<text x="28.95" y="334.3" text-anchor="middle">0</text>
<text x="62.81" y="334.3" text-anchor="middle">5</text>
<text x="96.67" y="334.3" text-anchor="middle">10</text>
<text x="130.53" y="334.3" text-anchor="middle">15</text>
<text x="164.39" y="334.3" text-anchor="middle">20</text>
<text x="198.25" y="334.3" text-anchor="middle">25</text>
<text x="26.85" y="328.5" text-anchor="end">0</text>
<text x="26.85" y="309.68" text-anchor="end">20</text>
<text x="26.85" y="290.86" text-anchor="end">40</text>
<text x="26.85" y="272.04" text-anchor="end">60</text>
<text x="26.85" y="253.21" text-anchor="end">80</text>
<text x="26.85" y="234.39" text-anchor="end">100</text>
<text x="26.85" y="215.57" text-anchor="end">120</text>
<text x="26.85" y="196.75" text-anchor="end">140</text>
</g>
<text x="113.6" y="343.7" text-anchor="middle" font-family="Liberation Sans, sans-serif" font-size="8.4" fill="#222" stroke="#222" stroke-width="0.15">Time (hours)</text>
<text transform="translate(14.6 259.3) rotate(-90)" text-anchor="middle" font-family="Liberation Sans, sans-serif" font-size="8.4" fill="#222" stroke="#222" stroke-width="0.15" xml:space="preserve">Electricity Consumption (kWh)</text>
<text x="103.7" y="361.6" text-anchor="middle" font-family="Liberation Serif, serif" font-size="9.75" fill="#111" stroke="#111" stroke-width="0.12">(<tspan font-weight="bold">c</tspan>) Earliglow</text>
</g>
<g>
<path d="M272.22 194.25V325.8M306.04 194.25V325.8M339.86 194.25V325.8M373.68 194.25V325.8M238.4 309.36H407.5M238.4 292.91H407.5M238.4 276.47H407.5M238.4 260.02H407.5M238.4 243.58H407.5M238.4 227.14H407.5M238.4 210.69H407.5" stroke="#e2e2e2" stroke-width="0.5" fill="none"/>
<g>
<path fill="#3e26a8" d="M242.46 323.95h5.41v1.9h-5.41zM249.22 323.95h5.41v1.9h-5.41zM255.99 323.95h5.41v1.9h-5.41zM262.75 323.95h5.41v1.9h-5.41zM269.51 324.32h5.41v1.53h-5.41zM276.28 324.32h5.41v1.53h-5.41zM283.04 324.32h5.41v1.53h-5.41zM289.81 324.69h5.41v1.16h-5.41zM296.57 324.69h5.41v1.16h-5.41zM303.33 324.69h5.41v1.16h-5.41zM310.1 325.06h5.41v0.79h-5.41zM316.86 325.06h5.41v0.79h-5.41zM323.63 325.06h5.41v0.79h-5.41zM330.39 325.06h5.41v0.79h-5.41zM337.15 325.06h5.41v0.79h-5.41zM343.92 325.06h5.41v0.79h-5.41zM350.68 324.69h5.41v1.16h-5.41zM357.45 324.69h5.41v1.16h-5.41zM364.21 324.32h5.41v1.53h-5.41zM370.97 323.95h5.41v1.9h-5.41zM377.74 323.21h5.41v2.64h-5.41zM384.5 323.58h5.41v2.27h-5.41zM391.27 323.21h5.41v2.64h-5.41zM398.03 322.47h5.41v3.38h-5.41z"/>
<path fill="#4538d7" d="M242.46 320.04h5.41v3.96h-5.41zM249.22 320.04h5.41v3.96h-5.41zM255.99 320.04h5.41v3.96h-5.41zM262.75 320.04h5.41v3.96h-5.41zM269.51 321.19h5.41v3.18h-5.41zM276.28 321.19h5.41v3.18h-5.41zM283.04 321.19h5.41v3.18h-5.41zM289.81 322.34h5.41v2.4h-5.41zM296.57 322.34h5.41v2.4h-5.41zM303.33 322.34h5.41v2.4h-5.41zM310.1 323.5h5.41v1.61h-5.41zM316.86 323.5h5.41v1.61h-5.41zM323.63 323.5h5.41v1.61h-5.41zM330.39 323.5h5.41v1.61h-5.41zM337.15 323.5h5.41v1.61h-5.41zM343.92 323.5h5.41v1.61h-5.41zM350.68 322.34h5.41v2.4h-5.41zM357.45 322.34h5.41v2.4h-5.41zM364.21 321.19h5.41v3.18h-5.41zM370.97 320.04h5.41v3.96h-5.41zM377.74 317.73h5.41v5.52h-5.41zM384.5 318.89h5.41v4.74h-5.41zM391.27 317.73h5.41v5.52h-5.41zM398.03 315.43h5.41v7.09h-5.41z"/>
<path fill="#484ff2" d="M242.46 319.63h5.41v0.46h-5.41zM249.22 319.63h5.41v0.46h-5.41zM255.99 319.63h5.41v0.46h-5.41zM262.75 319.63h5.41v0.46h-5.41zM269.51 320.86h5.41v0.38h-5.41zM276.28 320.86h5.41v0.38h-5.41zM283.04 320.86h5.41v0.38h-5.41zM289.81 322.1h5.41v0.3h-5.41zM296.57 322.1h5.41v0.3h-5.41zM303.33 322.1h5.41v0.3h-5.41zM310.1 323.33h5.41v0.21h-5.41zM316.86 323.33h5.41v0.21h-5.41zM323.63 323.33h5.41v0.21h-5.41zM330.39 323.33h5.41v0.21h-5.41zM337.15 323.33h5.41v0.21h-5.41zM343.92 323.33h5.41v0.21h-5.41zM350.68 322.1h5.41v0.3h-5.41zM357.45 322.1h5.41v0.3h-5.41zM364.21 320.86h5.41v0.38h-5.41zM370.97 319.63h5.41v0.46h-5.41zM377.74 317.16h5.41v0.63h-5.41zM384.5 318.39h5.41v0.54h-5.41zM391.27 317.16h5.41v0.63h-5.41zM398.03 314.69h5.41v0.79h-5.41z"/>
<path fill="#4367fd" d="M242.46 315.51h5.41v4.17h-5.41zM249.22 315.51h5.41v4.17h-5.41zM255.99 315.51h5.41v4.17h-5.41zM262.75 315.51h5.41v4.17h-5.41zM269.51 317.57h5.41v3.34h-5.41zM276.28 317.57h5.41v3.34h-5.41zM283.04 317.57h5.41v3.34h-5.41zM289.81 319.63h5.41v2.52h-5.41zM296.57 319.63h5.41v2.52h-5.41zM303.33 319.63h5.41v2.52h-5.41zM310.1 321.68h5.41v1.7h-5.41zM316.86 321.68h5.41v1.7h-5.41zM323.63 321.68h5.41v1.7h-5.41zM330.39 321.68h5.41v1.7h-5.41zM337.15 321.68h5.41v1.7h-5.41zM343.92 321.68h5.41v1.7h-5.41zM350.68 319.63h5.41v2.52h-5.41zM357.45 319.63h5.41v2.52h-5.41zM364.21 317.57h5.41v3.34h-5.41zM370.97 315.51h5.41v4.17h-5.41zM377.74 311.39h5.41v5.81h-5.41zM384.5 313.45h5.41v4.99h-5.41zM391.27 311.39h5.41v5.81h-5.41zM398.03 307.28h5.41v7.46h-5.41z"/>
<path fill="#2f80fa" d="M242.46 311.39h5.41v4.17h-5.41zM249.22 311.39h5.41v4.17h-5.41zM255.99 311.39h5.41v4.17h-5.41zM262.75 311.39h5.41v4.17h-5.41zM269.51 314.28h5.41v3.34h-5.41zM276.28 314.28h5.41v3.34h-5.41zM283.04 314.28h5.41v3.34h-5.41zM289.81 317.16h5.41v2.52h-5.41zM296.57 317.16h5.41v2.52h-5.41zM303.33 317.16h5.41v2.52h-5.41zM310.1 320.04h5.41v1.7h-5.41zM316.86 320.04h5.41v1.7h-5.41zM323.63 320.04h5.41v1.7h-5.41zM330.39 320.04h5.41v1.7h-5.41zM337.15 320.04h5.41v1.7h-5.41zM343.92 320.04h5.41v1.7h-5.41zM350.68 317.16h5.41v2.52h-5.41zM357.45 317.16h5.41v2.52h-5.41zM364.21 314.28h5.41v3.34h-5.41zM370.97 311.39h5.41v4.17h-5.41zM377.74 305.63h5.41v5.81h-5.41zM384.5 308.51h5.41v4.99h-5.41zM391.27 305.63h5.41v5.81h-5.41zM398.03 299.87h5.41v7.46h-5.41z"/>
<path fill="#2797eb" d="M242.46 305.22h5.41v6.22h-5.41zM249.22 305.22h5.41v6.22h-5.41zM255.99 305.22h5.41v6.22h-5.41zM262.75 305.22h5.41v6.22h-5.41zM269.51 309.34h5.41v4.99h-5.41zM276.28 309.34h5.41v4.99h-5.41zM283.04 309.34h5.41v4.99h-5.41zM289.81 313.45h5.41v3.75h-5.41zM296.57 313.45h5.41v3.75h-5.41zM303.33 313.45h5.41v3.75h-5.41zM310.1 317.57h5.41v2.52h-5.41zM316.86 317.57h5.41v2.52h-5.41zM323.63 317.57h5.41v2.52h-5.41zM330.39 317.57h5.41v2.52h-5.41zM337.15 317.57h5.41v2.52h-5.41zM343.92 317.57h5.41v2.52h-5.41zM350.68 313.45h5.41v3.75h-5.41zM357.45 313.45h5.41v3.75h-5.41zM364.21 309.34h5.41v4.99h-5.41zM370.97 305.22h5.41v6.22h-5.41zM377.74 296.99h5.41v8.69h-5.41zM384.5 301.11h5.41v7.46h-5.41zM391.27 296.99h5.41v8.69h-5.41zM398.03 288.76h5.41v11.16h-5.41z"/>
<path fill="#1caadf" d="M242.46 296.99h5.41v8.28h-5.41zM249.22 296.99h5.41v8.28h-5.41zM255.99 296.99h5.41v8.28h-5.41zM262.75 296.99h5.41v8.28h-5.41zM269.51 302.75h5.41v6.64h-5.41zM276.28 302.75h5.41v6.64h-5.41zM283.04 302.75h5.41v6.64h-5.41zM289.81 308.51h5.41v4.99h-5.41zM296.57 308.51h5.41v4.99h-5.41zM303.33 308.51h5.41v4.99h-5.41zM310.1 314.28h5.41v3.34h-5.41zM316.86 314.28h5.41v3.34h-5.41zM323.63 314.28h5.41v3.34h-5.41zM330.39 314.28h5.41v3.34h-5.41zM337.15 314.28h5.41v3.34h-5.41zM343.92 314.28h5.41v3.34h-5.41zM350.68 308.51h5.41v4.99h-5.41zM357.45 308.51h5.41v4.99h-5.41zM364.21 302.75h5.41v6.64h-5.41zM370.97 296.99h5.41v8.28h-5.41zM377.74 285.47h5.41v11.57h-5.41zM384.5 291.23h5.41v9.93h-5.41zM391.27 285.47h5.41v11.57h-5.41zM398.03 273.94h5.41v14.87h-5.41z"/>
<path fill="#01b9c7" d="M242.46 286.29h5.41v10.75h-5.41zM249.22 286.29h5.41v10.75h-5.41zM255.99 286.29h5.41v10.75h-5.41zM262.75 286.29h5.41v10.75h-5.41zM269.51 294.19h5.41v8.61h-5.41zM276.28 294.19h5.41v8.61h-5.41zM283.04 294.19h5.41v8.61h-5.41zM289.81 302.09h5.41v6.47h-5.41zM296.57 302.09h5.41v6.47h-5.41zM303.33 302.09h5.41v6.47h-5.41zM310.1 310h5.41v4.33h-5.41zM316.86 310h5.41v4.33h-5.41zM323.63 310h5.41v4.33h-5.41zM330.39 310h5.41v4.33h-5.41zM337.15 310h5.41v4.33h-5.41zM343.92 310h5.41v4.33h-5.41zM350.68 302.09h5.41v6.47h-5.41zM357.45 302.09h5.41v6.47h-5.41zM364.21 294.19h5.41v8.61h-5.41zM370.97 286.29h5.41v10.75h-5.41zM377.74 270.48h5.41v15.03h-5.41zM384.5 278.39h5.41v12.89h-5.41zM391.27 270.48h5.41v15.03h-5.41zM398.03 254.68h5.41v19.31h-5.41z"/>
<path fill="#29c3aa" d="M242.46 285.38h5.41v0.96h-5.41zM249.22 285.38h5.41v0.96h-5.41zM255.99 285.38h5.41v0.96h-5.41zM262.75 285.38h5.41v0.96h-5.41zM269.51 293.47h5.41v0.77h-5.41zM276.28 293.47h5.41v0.77h-5.41zM283.04 293.47h5.41v0.77h-5.41zM289.81 301.55h5.41v0.59h-5.41zM296.57 301.55h5.41v0.59h-5.41zM303.33 301.55h5.41v0.59h-5.41zM310.1 309.63h5.41v0.41h-5.41zM316.86 309.63h5.41v0.41h-5.41zM323.63 309.63h5.41v0.41h-5.41zM330.39 309.63h5.41v0.41h-5.41zM337.15 309.63h5.41v0.41h-5.41zM343.92 309.63h5.41v0.41h-5.41zM350.68 301.55h5.41v0.59h-5.41zM357.45 301.55h5.41v0.59h-5.41zM364.21 293.47h5.41v0.77h-5.41zM370.97 285.38h5.41v0.96h-5.41zM377.74 269.22h5.41v1.32h-5.41zM384.5 277.3h5.41v1.14h-5.41zM391.27 269.22h5.41v1.32h-5.41zM398.03 253.05h5.41v1.68h-5.41z"/>
<path fill="#48cb86" d="M242.46 281.27h5.41v4.17h-5.41zM249.22 281.27h5.41v4.17h-5.41zM255.99 281.27h5.41v4.17h-5.41zM262.75 281.27h5.41v4.17h-5.41zM269.51 290.17h5.41v3.34h-5.41zM276.28 290.17h5.41v3.34h-5.41zM283.04 290.17h5.41v3.34h-5.41zM289.81 299.08h5.41v2.52h-5.41zM296.57 299.08h5.41v2.52h-5.41zM303.33 299.08h5.41v2.52h-5.41zM310.1 307.99h5.41v1.7h-5.41zM316.86 307.99h5.41v1.7h-5.41zM323.63 307.99h5.41v1.7h-5.41zM330.39 307.99h5.41v1.7h-5.41zM337.15 307.99h5.41v1.7h-5.41zM343.92 307.99h5.41v1.7h-5.41zM350.68 299.08h5.41v2.52h-5.41zM357.45 299.08h5.41v2.52h-5.41zM364.21 290.17h5.41v3.34h-5.41zM370.97 281.27h5.41v4.17h-5.41zM377.74 263.45h5.41v5.81h-5.41zM384.5 272.36h5.41v4.99h-5.41zM391.27 263.45h5.41v5.81h-5.41zM398.03 245.64h5.41v7.46h-5.41z"/>
<path fill="#81cc59" d="M242.46 277.15h5.41v4.17h-5.41zM249.22 277.15h5.41v4.17h-5.41zM255.99 277.15h5.41v4.17h-5.41zM262.75 277.15h5.41v4.17h-5.41zM269.51 286.88h5.41v3.34h-5.41zM276.28 286.88h5.41v3.34h-5.41zM283.04 286.88h5.41v3.34h-5.41zM289.81 296.61h5.41v2.52h-5.41zM296.57 296.61h5.41v2.52h-5.41zM303.33 296.61h5.41v2.52h-5.41zM310.1 306.34h5.41v1.7h-5.41zM316.86 306.34h5.41v1.7h-5.41zM323.63 306.34h5.41v1.7h-5.41zM330.39 306.34h5.41v1.7h-5.41zM337.15 306.34h5.41v1.7h-5.41zM343.92 306.34h5.41v1.7h-5.41zM350.68 296.61h5.41v2.52h-5.41zM357.45 296.61h5.41v2.52h-5.41zM364.21 286.88h5.41v3.34h-5.41zM370.97 277.15h5.41v4.17h-5.41zM377.74 257.69h5.41v5.81h-5.41zM384.5 267.42h5.41v4.99h-5.41zM391.27 257.69h5.41v5.81h-5.41zM398.03 238.23h5.41v7.46h-5.41z"/>
<path fill="#bbc42f" d="M242.46 270.98h5.41v6.22h-5.41zM249.22 270.98h5.41v6.22h-5.41zM255.99 270.98h5.41v6.22h-5.41zM262.75 270.98h5.41v6.22h-5.41zM269.51 281.94h5.41v4.99h-5.41zM276.28 281.94h5.41v4.99h-5.41zM283.04 281.94h5.41v4.99h-5.41zM289.81 292.91h5.41v3.75h-5.41zM296.57 292.91h5.41v3.75h-5.41zM303.33 292.91h5.41v3.75h-5.41zM310.1 303.87h5.41v2.52h-5.41zM316.86 303.87h5.41v2.52h-5.41zM323.63 303.87h5.41v2.52h-5.41zM330.39 303.87h5.41v2.52h-5.41zM337.15 303.87h5.41v2.52h-5.41zM343.92 303.87h5.41v2.52h-5.41zM350.68 292.91h5.41v3.75h-5.41zM357.45 292.91h5.41v3.75h-5.41zM364.21 281.94h5.41v4.99h-5.41zM370.97 270.98h5.41v6.22h-5.41zM377.74 249.05h5.41v8.69h-5.41zM384.5 260.01h5.41v7.46h-5.41zM391.27 249.05h5.41v8.69h-5.41zM398.03 227.12h5.41v11.16h-5.41z"/>
<path fill="#eaba31" d="M242.46 268.92h5.41v2.11h-5.41zM249.22 268.92h5.41v2.11h-5.41zM255.99 268.92h5.41v2.11h-5.41zM262.75 268.92h5.41v2.11h-5.41zM269.51 280.3h5.41v1.7h-5.41zM276.28 280.3h5.41v1.7h-5.41zM283.04 280.3h5.41v1.7h-5.41zM289.81 291.67h5.41v1.28h-5.41zM296.57 291.67h5.41v1.28h-5.41zM303.33 291.67h5.41v1.28h-5.41zM310.1 303.05h5.41v0.87h-5.41zM316.86 303.05h5.41v0.87h-5.41zM323.63 303.05h5.41v0.87h-5.41zM330.39 303.05h5.41v0.87h-5.41zM337.15 303.05h5.41v0.87h-5.41zM343.92 303.05h5.41v0.87h-5.41zM350.68 291.67h5.41v1.28h-5.41zM357.45 291.67h5.41v1.28h-5.41zM364.21 280.3h5.41v1.7h-5.41zM370.97 268.92h5.41v2.11h-5.41zM377.74 246.17h5.41v2.93h-5.41zM384.5 257.54h5.41v2.52h-5.41zM391.27 246.17h5.41v2.93h-5.41zM398.03 223.42h5.41v3.75h-5.41z"/>
<path fill="#fec735" d="M242.46 263.08h5.41v5.89h-5.41zM249.22 263.08h5.41v5.89h-5.41zM255.99 263.08h5.41v5.89h-5.41zM262.75 263.08h5.41v5.89h-5.41zM269.51 275.62h5.41v4.73h-5.41zM276.28 275.62h5.41v4.73h-5.41zM283.04 275.62h5.41v4.73h-5.41zM289.81 288.17h5.41v3.56h-5.41zM296.57 288.17h5.41v3.56h-5.41zM303.33 288.17h5.41v3.56h-5.41zM310.1 300.71h5.41v2.39h-5.41zM316.86 300.71h5.41v2.39h-5.41zM323.63 300.71h5.41v2.39h-5.41zM330.39 300.71h5.41v2.39h-5.41zM337.15 300.71h5.41v2.39h-5.41zM343.92 300.71h5.41v2.39h-5.41zM350.68 288.17h5.41v3.56h-5.41zM357.45 288.17h5.41v3.56h-5.41zM364.21 275.62h5.41v4.73h-5.41zM370.97 263.08h5.41v5.89h-5.41zM377.74 237.99h5.41v8.23h-5.41zM384.5 250.53h5.41v7.06h-5.41zM391.27 237.99h5.41v8.23h-5.41zM398.03 212.9h5.41v10.57h-5.41z"/>
<path fill="#f5e128" d="M242.46 261.43h5.41v1.7h-5.41zM249.22 261.43h5.41v1.7h-5.41zM255.99 261.43h5.41v1.7h-5.41zM262.75 261.43h5.41v1.7h-5.41zM269.51 274.3h5.41v1.37h-5.41zM276.28 274.3h5.41v1.37h-5.41zM283.04 274.3h5.41v1.37h-5.41zM289.81 287.18h5.41v1.04h-5.41zM296.57 287.18h5.41v1.04h-5.41zM303.33 287.18h5.41v1.04h-5.41zM310.1 300.05h5.41v0.71h-5.41zM316.86 300.05h5.41v0.71h-5.41zM323.63 300.05h5.41v0.71h-5.41zM330.39 300.05h5.41v0.71h-5.41zM337.15 300.05h5.41v0.71h-5.41zM343.92 300.05h5.41v0.71h-5.41zM350.68 287.18h5.41v1.04h-5.41zM357.45 287.18h5.41v1.04h-5.41zM364.21 274.3h5.41v1.37h-5.41zM370.97 261.43h5.41v1.7h-5.41zM377.74 235.68h5.41v2.35h-5.41zM384.5 248.56h5.41v2.03h-5.41zM391.27 235.68h5.41v2.35h-5.41zM398.03 209.93h5.41v3.01h-5.41z"/>
<path fill="#f9fb15" d="M242.46 255.5h5.41v5.98h-5.41zM249.22 255.5h5.41v5.98h-5.41zM255.99 255.5h5.41v5.98h-5.41zM262.75 255.5h5.41v5.98h-5.41zM269.51 269.56h5.41v4.79h-5.41zM276.28 269.56h5.41v4.79h-5.41zM283.04 269.56h5.41v4.79h-5.41zM289.81 283.62h5.41v3.61h-5.41zM296.57 283.62h5.41v3.61h-5.41zM303.33 283.62h5.41v3.61h-5.41zM310.1 297.68h5.41v2.42h-5.41zM316.86 297.68h5.41v2.42h-5.41zM323.63 297.68h5.41v2.42h-5.41zM330.39 297.68h5.41v2.42h-5.41zM337.15 297.68h5.41v2.42h-5.41zM343.92 297.68h5.41v2.42h-5.41zM350.68 283.62h5.41v3.61h-5.41zM357.45 283.62h5.41v3.61h-5.41zM364.21 269.56h5.41v4.79h-5.41zM370.97 255.5h5.41v5.98h-5.41zM377.74 227.38h5.41v8.35h-5.41zM384.5 241.44h5.41v7.16h-5.41zM391.27 227.38h5.41v8.35h-5.41zM398.03 199.27h5.41v10.72h-5.41z"/>
<path d="M242.46 323.95h5.41M242.46 320.04h5.41M242.46 319.63h5.41M242.46 315.51h5.41M242.46 311.39h5.41M242.46 305.22h5.41M242.46 296.99h5.41M242.46 286.29h5.41M242.46 285.38h5.41M242.46 281.27h5.41M242.46 277.15h5.41M242.46 270.98h5.41M242.46 268.92h5.41M242.46 263.08h5.41M242.46 261.43h5.41M249.22 323.95h5.41M249.22 320.04h5.41M249.22 319.63h5.41M249.22 315.51h5.41M249.22 311.39h5.41M249.22 305.22h5.41M249.22 296.99h5.41M249.22 286.29h5.41M249.22 285.38h5.41M249.22 281.27h5.41M249.22 277.15h5.41M249.22 270.98h5.41M249.22 268.92h5.41M249.22 263.08h5.41M249.22 261.43h5.41M255.99 323.95h5.41M255.99 320.04h5.41M255.99 319.63h5.41M255.99 315.51h5.41M255.99 311.39h5.41M255.99 305.22h5.41M255.99 296.99h5.41M255.99 286.29h5.41M255.99 285.38h5.41M255.99 281.27h5.41M255.99 277.15h5.41M255.99 270.98h5.41M255.99 268.92h5.41M255.99 263.08h5.41M255.99 261.43h5.41M262.75 323.95h5.41M262.75 320.04h5.41M262.75 319.63h5.41M262.75 315.51h5.41M262.75 311.39h5.41M262.75 305.22h5.41M262.75 296.99h5.41M262.75 286.29h5.41M262.75 285.38h5.41M262.75 281.27h5.41M262.75 277.15h5.41M262.75 270.98h5.41M262.75 268.92h5.41M262.75 263.08h5.41M262.75 261.43h5.41M269.51 324.32h5.41M269.51 321.19h5.41M269.51 320.86h5.41M269.51 317.57h5.41M269.51 314.28h5.41M269.51 309.34h5.41M269.51 302.75h5.41M269.51 294.19h5.41M269.51 293.47h5.41M269.51 290.17h5.41M269.51 286.88h5.41M269.51 281.94h5.41M269.51 280.3h5.41M269.51 275.62h5.41M269.51 274.3h5.41M276.28 324.32h5.41M276.28 321.19h5.41M276.28 320.86h5.41M276.28 317.57h5.41M276.28 314.28h5.41M276.28 309.34h5.41M276.28 302.75h5.41M276.28 294.19h5.41M276.28 293.47h5.41M276.28 290.17h5.41M276.28 286.88h5.41M276.28 281.94h5.41M276.28 280.3h5.41M276.28 275.62h5.41M276.28 274.3h5.41M283.04 324.32h5.41M283.04 321.19h5.41M283.04 320.86h5.41M283.04 317.57h5.41M283.04 314.28h5.41M283.04 309.34h5.41M283.04 302.75h5.41M283.04 294.19h5.41M283.04 293.47h5.41M283.04 290.17h5.41M283.04 286.88h5.41M283.04 281.94h5.41M283.04 280.3h5.41M283.04 275.62h5.41M283.04 274.3h5.41M289.81 324.69h5.41M289.81 322.34h5.41M289.81 322.1h5.41M289.81 319.63h5.41M289.81 317.16h5.41M289.81 313.45h5.41M289.81 308.51h5.41M289.81 302.09h5.41M289.81 301.55h5.41M289.81 299.08h5.41M289.81 296.61h5.41M289.81 292.91h5.41M289.81 291.67h5.41M289.81 288.17h5.41M289.81 287.18h5.41M296.57 324.69h5.41M296.57 322.34h5.41M296.57 322.1h5.41M296.57 319.63h5.41M296.57 317.16h5.41M296.57 313.45h5.41M296.57 308.51h5.41M296.57 302.09h5.41M296.57 301.55h5.41M296.57 299.08h5.41M296.57 296.61h5.41M296.57 292.91h5.41M296.57 291.67h5.41M296.57 288.17h5.41M296.57 287.18h5.41M303.33 324.69h5.41M303.33 322.34h5.41M303.33 322.1h5.41M303.33 319.63h5.41M303.33 317.16h5.41M303.33 313.45h5.41M303.33 308.51h5.41M303.33 302.09h5.41M303.33 301.55h5.41M303.33 299.08h5.41M303.33 296.61h5.41M303.33 292.91h5.41M303.33 291.67h5.41M303.33 288.17h5.41M303.33 287.18h5.41M310.1 325.06h5.41M310.1 323.5h5.41M310.1 323.33h5.41M310.1 321.68h5.41M310.1 320.04h5.41M310.1 317.57h5.41M310.1 314.28h5.41M310.1 310h5.41M310.1 309.63h5.41M310.1 307.99h5.41M310.1 306.34h5.41M310.1 303.87h5.41M310.1 303.05h5.41M310.1 300.71h5.41M310.1 300.05h5.41M316.86 325.06h5.41M316.86 323.5h5.41M316.86 323.33h5.41M316.86 321.68h5.41M316.86 320.04h5.41M316.86 317.57h5.41M316.86 314.28h5.41M316.86 310h5.41M316.86 309.63h5.41M316.86 307.99h5.41M316.86 306.34h5.41M316.86 303.87h5.41M316.86 303.05h5.41M316.86 300.71h5.41M316.86 300.05h5.41M323.63 325.06h5.41M323.63 323.5h5.41M323.63 323.33h5.41M323.63 321.68h5.41M323.63 320.04h5.41M323.63 317.57h5.41M323.63 314.28h5.41M323.63 310h5.41M323.63 309.63h5.41M323.63 307.99h5.41M323.63 306.34h5.41M323.63 303.87h5.41M323.63 303.05h5.41M323.63 300.71h5.41M323.63 300.05h5.41M330.39 325.06h5.41M330.39 323.5h5.41M330.39 323.33h5.41M330.39 321.68h5.41M330.39 320.04h5.41M330.39 317.57h5.41M330.39 314.28h5.41M330.39 310h5.41M330.39 309.63h5.41M330.39 307.99h5.41M330.39 306.34h5.41M330.39 303.87h5.41M330.39 303.05h5.41M330.39 300.71h5.41M330.39 300.05h5.41M337.15 325.06h5.41M337.15 323.5h5.41M337.15 323.33h5.41M337.15 321.68h5.41M337.15 320.04h5.41M337.15 317.57h5.41M337.15 314.28h5.41M337.15 310h5.41M337.15 309.63h5.41M337.15 307.99h5.41M337.15 306.34h5.41M337.15 303.87h5.41M337.15 303.05h5.41M337.15 300.71h5.41M337.15 300.05h5.41M343.92 325.06h5.41M343.92 323.5h5.41M343.92 323.33h5.41M343.92 321.68h5.41M343.92 320.04h5.41M343.92 317.57h5.41M343.92 314.28h5.41M343.92 310h5.41M343.92 309.63h5.41M343.92 307.99h5.41M343.92 306.34h5.41M343.92 303.87h5.41M343.92 303.05h5.41M343.92 300.71h5.41M343.92 300.05h5.41M350.68 324.69h5.41M350.68 322.34h5.41M350.68 322.1h5.41M350.68 319.63h5.41M350.68 317.16h5.41M350.68 313.45h5.41M350.68 308.51h5.41M350.68 302.09h5.41M350.68 301.55h5.41M350.68 299.08h5.41M350.68 296.61h5.41M350.68 292.91h5.41M350.68 291.67h5.41M350.68 288.17h5.41M350.68 287.18h5.41M357.45 324.69h5.41M357.45 322.34h5.41M357.45 322.1h5.41M357.45 319.63h5.41M357.45 317.16h5.41M357.45 313.45h5.41M357.45 308.51h5.41M357.45 302.09h5.41M357.45 301.55h5.41M357.45 299.08h5.41M357.45 296.61h5.41M357.45 292.91h5.41M357.45 291.67h5.41M357.45 288.17h5.41M357.45 287.18h5.41M364.21 324.32h5.41M364.21 321.19h5.41M364.21 320.86h5.41M364.21 317.57h5.41M364.21 314.28h5.41M364.21 309.34h5.41M364.21 302.75h5.41M364.21 294.19h5.41M364.21 293.47h5.41M364.21 290.17h5.41M364.21 286.88h5.41M364.21 281.94h5.41M364.21 280.3h5.41M364.21 275.62h5.41M364.21 274.3h5.41M370.97 323.95h5.41M370.97 320.04h5.41M370.97 319.63h5.41M370.97 315.51h5.41M370.97 311.39h5.41M370.97 305.22h5.41M370.97 296.99h5.41M370.97 286.29h5.41M370.97 285.38h5.41M370.97 281.27h5.41M370.97 277.15h5.41M370.97 270.98h5.41M370.97 268.92h5.41M370.97 263.08h5.41M370.97 261.43h5.41M377.74 323.21h5.41M377.74 317.73h5.41M377.74 317.16h5.41M377.74 311.39h5.41M377.74 305.63h5.41M377.74 296.99h5.41M377.74 285.47h5.41M377.74 270.48h5.41M377.74 269.22h5.41M377.74 263.45h5.41M377.74 257.69h5.41M377.74 249.05h5.41M377.74 246.17h5.41M377.74 237.99h5.41M377.74 235.68h5.41M384.5 323.58h5.41M384.5 318.89h5.41M384.5 318.39h5.41M384.5 313.45h5.41M384.5 308.51h5.41M384.5 301.11h5.41M384.5 291.23h5.41M384.5 278.39h5.41M384.5 277.3h5.41M384.5 272.36h5.41M384.5 267.42h5.41M384.5 260.01h5.41M384.5 257.54h5.41M384.5 250.53h5.41M384.5 248.56h5.41M391.27 323.21h5.41M391.27 317.73h5.41M391.27 317.16h5.41M391.27 311.39h5.41M391.27 305.63h5.41M391.27 296.99h5.41M391.27 285.47h5.41M391.27 270.48h5.41M391.27 269.22h5.41M391.27 263.45h5.41M391.27 257.69h5.41M391.27 249.05h5.41M391.27 246.17h5.41M391.27 237.99h5.41M391.27 235.68h5.41M398.03 322.47h5.41M398.03 315.43h5.41M398.03 314.69h5.41M398.03 307.28h5.41M398.03 299.87h5.41M398.03 288.76h5.41M398.03 273.94h5.41M398.03 254.68h5.41M398.03 253.05h5.41M398.03 245.64h5.41M398.03 238.23h5.41M398.03 227.12h5.41M398.03 223.42h5.41M398.03 212.9h5.41M398.03 209.93h5.41" stroke="#000" stroke-opacity="0.8" stroke-width="0.5" fill="none"/>
<path d="M242.46 255.5h5.41v70.3h-5.41zM249.22 255.5h5.41v70.3h-5.41zM255.99 255.5h5.41v70.3h-5.41zM262.75 255.5h5.41v70.3h-5.41zM269.51 269.56h5.41v56.24h-5.41zM276.28 269.56h5.41v56.24h-5.41zM283.04 269.56h5.41v56.24h-5.41zM289.81 283.62h5.41v42.18h-5.41zM296.57 283.62h5.41v42.18h-5.41zM303.33 283.62h5.41v42.18h-5.41zM310.1 297.68h5.41v28.12h-5.41zM316.86 297.68h5.41v28.12h-5.41zM323.63 297.68h5.41v28.12h-5.41zM330.39 297.68h5.41v28.12h-5.41zM337.15 297.68h5.41v28.12h-5.41zM343.92 297.68h5.41v28.12h-5.41zM350.68 283.62h5.41v42.18h-5.41zM357.45 283.62h5.41v42.18h-5.41zM364.21 269.56h5.41v56.24h-5.41zM370.97 255.5h5.41v70.3h-5.41zM377.74 227.38h5.41v98.42h-5.41zM384.5 241.44h5.41v84.36h-5.41zM391.27 227.38h5.41v98.42h-5.41zM398.03 199.27h5.41v126.53h-5.41z" stroke="#000" stroke-opacity="0.55" stroke-width="0.7" fill="none"/>
</g>
<rect x="238.4" y="194.25" width="169.1" height="131.55" fill="none" stroke="#808080" stroke-width="0.7"/>
<path d="M238.4 325.8v-1.3M238.4 194.25v1.3M272.22 325.8v-1.3M272.22 194.25v1.3M306.04 325.8v-1.3M306.04 194.25v1.3M339.86 325.8v-1.3M339.86 194.25v1.3M373.68 325.8v-1.3M373.68 194.25v1.3M407.5 325.8v-1.3M407.5 194.25v1.3M238.4 325.8h1.3M407.5 325.8h-1.3M238.4 309.36h1.3M407.5 309.36h-1.3M238.4 292.91h1.3M407.5 292.91h-1.3M238.4 276.47h1.3M407.5 276.47h-1.3M238.4 260.02h1.3M407.5 260.02h-1.3M238.4 243.58h1.3M407.5 243.58h-1.3M238.4 227.14h1.3M407.5 227.14h-1.3M238.4 210.69h1.3M407.5 210.69h-1.3M238.4 194.25h1.3M407.5 194.25h-1.3" stroke="#808080" stroke-width="0.5" fill="none"/>
<g font-family="Liberation Sans, sans-serif" font-size="5.2" fill="#222" stroke="#222" stroke-width="0.15">
<text x="238.4" y="334.1" text-anchor="middle">0</text>
<text x="272.22" y="334.1" text-anchor="middle">5</text>
<text x="306.04" y="334.1" text-anchor="middle">10</text>
<text x="339.86" y="334.1" text-anchor="middle">15</text>
<text x="373.68" y="334.1" text-anchor="middle">20</text>
<text x="407.5" y="334.1" text-anchor="middle">25</text>
<text x="236.3" y="328.3" text-anchor="end">0</text>
<text x="236.3" y="311.86" text-anchor="end">20</text>
<text x="236.3" y="295.41" text-anchor="end">40</text>
<text x="236.3" y="278.97" text-anchor="end">60</text>
<text x="236.3" y="262.52" text-anchor="end">80</text>
<text x="236.3" y="246.08" text-anchor="end">100</text>
<text x="236.3" y="229.64" text-anchor="end">120</text>
<text x="236.3" y="213.19" text-anchor="end">140</text>
<text x="236.3" y="196.75" text-anchor="end">160</text>
</g>
<text x="322.95" y="343.7" text-anchor="middle" font-family="Liberation Sans, sans-serif" font-size="8.4" fill="#222" stroke="#222" stroke-width="0.15">Time (hours)</text>
<text transform="translate(224.9 259.1) rotate(-90)" text-anchor="middle" font-family="Liberation Sans, sans-serif" font-size="8.4" fill="#222" stroke="#222" stroke-width="0.15" xml:space="preserve">Electricity Consumption  (kWh)</text>
<text x="313.5" y="360.8" text-anchor="middle" font-family="Liberation Serif, serif" font-size="9.75" fill="#111" stroke="#111" stroke-width="0.12">(<tspan font-weight="bold">d</tspan>) Jaya</text>
</g>
<g>
<path d="M61.44 378.75V510M95.28 378.75V510M129.12 378.75V510M162.96 378.75V510M27.6 491.25H196.8M27.6 472.5H196.8M27.6 453.75H196.8M27.6 435H196.8M27.6 416.25H196.8M27.6 397.5H196.8" stroke="#e2e2e2" stroke-width="0.5" fill="none"/>
<g>
<path fill="#3e26a8" d="M31.66 507.89h5.41v2.16h-5.41zM38.43 507.89h5.41v2.16h-5.41zM45.2 508.31h5.41v1.74h-5.41zM51.96 507.89h5.41v2.16h-5.41zM58.73 507.47h5.41v2.58h-5.41zM65.5 508.31h5.41v1.74h-5.41zM72.27 508.31h5.41v1.74h-5.41zM79.04 508.73h5.41v1.32h-5.41zM85.8 509.16h5.41v0.89h-5.41zM92.57 508.31h5.41v1.74h-5.41zM99.34 509.16h5.41v0.89h-5.41zM106.11 509.16h5.41v0.89h-5.41zM112.88 509.16h5.41v0.89h-5.41zM119.64 509.16h5.41v0.89h-5.41zM126.41 509.16h5.41v0.89h-5.41zM133.18 509.16h5.41v0.89h-5.41zM139.95 509.16h5.41v0.89h-5.41zM146.72 508.31h5.41v1.74h-5.41zM153.48 507.89h5.41v2.16h-5.41zM160.25 507.89h5.41v2.16h-5.41zM167.02 507.47h5.41v2.58h-5.41zM173.79 507.47h5.41v2.58h-5.41zM180.56 507.04h5.41v3.01h-5.41zM187.32 506.62h5.41v3.43h-5.41z"/>
<path fill="#4538d7" d="M31.66 503.43h5.41v4.51h-5.41zM38.43 503.43h5.41v4.51h-5.41zM45.2 504.74h5.41v3.62h-5.41zM51.96 503.43h5.41v4.51h-5.41zM58.73 502.12h5.41v5.4h-5.41zM65.5 504.74h5.41v3.62h-5.41zM72.27 504.74h5.41v3.62h-5.41zM79.04 506.06h5.41v2.73h-5.41zM85.8 507.37h5.41v1.83h-5.41zM92.57 504.74h5.41v3.62h-5.41zM99.34 507.37h5.41v1.83h-5.41zM106.11 507.37h5.41v1.83h-5.41zM112.88 507.37h5.41v1.83h-5.41zM119.64 507.37h5.41v1.83h-5.41zM126.41 507.37h5.41v1.83h-5.41zM133.18 507.37h5.41v1.83h-5.41zM139.95 507.37h5.41v1.83h-5.41zM146.72 504.74h5.41v3.62h-5.41zM153.48 503.43h5.41v4.51h-5.41zM160.25 503.43h5.41v4.51h-5.41zM167.02 502.12h5.41v5.4h-5.41zM173.79 502.12h5.41v5.4h-5.41zM180.56 500.8h5.41v6.29h-5.41zM187.32 499.49h5.41v7.18h-5.41z"/>
<path fill="#484ff2" d="M31.66 502.96h5.41v0.52h-5.41zM38.43 502.96h5.41v0.52h-5.41zM45.2 504.37h5.41v0.43h-5.41zM51.96 502.96h5.41v0.52h-5.41zM58.73 501.55h5.41v0.61h-5.41zM65.5 504.37h5.41v0.43h-5.41zM72.27 504.37h5.41v0.43h-5.41zM79.04 505.78h5.41v0.33h-5.41zM85.8 507.18h5.41v0.24h-5.41zM92.57 504.37h5.41v0.43h-5.41zM99.34 507.18h5.41v0.24h-5.41zM106.11 507.18h5.41v0.24h-5.41zM112.88 507.18h5.41v0.24h-5.41zM119.64 507.18h5.41v0.24h-5.41zM126.41 507.18h5.41v0.24h-5.41zM133.18 507.18h5.41v0.24h-5.41zM139.95 507.18h5.41v0.24h-5.41zM146.72 504.37h5.41v0.43h-5.41zM153.48 502.96h5.41v0.52h-5.41zM160.25 502.96h5.41v0.52h-5.41zM167.02 501.55h5.41v0.61h-5.41zM173.79 501.55h5.41v0.61h-5.41zM180.56 500.14h5.41v0.71h-5.41zM187.32 498.74h5.41v0.8h-5.41z"/>
<path fill="#4367fd" d="M31.66 498.27h5.41v4.74h-5.41zM38.43 498.27h5.41v4.74h-5.41zM45.2 500.61h5.41v3.8h-5.41zM51.96 498.27h5.41v4.74h-5.41zM58.73 495.92h5.41v5.68h-5.41zM65.5 500.61h5.41v3.8h-5.41zM72.27 500.61h5.41v3.8h-5.41zM79.04 502.96h5.41v2.87h-5.41zM85.8 505.31h5.41v1.93h-5.41zM92.57 500.61h5.41v3.8h-5.41zM99.34 505.31h5.41v1.93h-5.41zM106.11 505.31h5.41v1.93h-5.41zM112.88 505.31h5.41v1.93h-5.41zM119.64 505.31h5.41v1.93h-5.41zM126.41 505.31h5.41v1.93h-5.41zM133.18 505.31h5.41v1.93h-5.41zM139.95 505.31h5.41v1.93h-5.41zM146.72 500.61h5.41v3.8h-5.41zM153.48 498.27h5.41v4.74h-5.41zM160.25 498.27h5.41v4.74h-5.41zM167.02 495.92h5.41v5.68h-5.41zM173.79 495.92h5.41v5.68h-5.41zM180.56 493.57h5.41v6.62h-5.41zM187.32 491.23h5.41v7.56h-5.41z"/>
<path fill="#2f80fa" d="M31.66 493.57h5.41v4.74h-5.41zM38.43 493.57h5.41v4.74h-5.41zM45.2 496.86h5.41v3.8h-5.41zM51.96 493.57h5.41v4.74h-5.41zM58.73 490.29h5.41v5.68h-5.41zM65.5 496.86h5.41v3.8h-5.41zM72.27 496.86h5.41v3.8h-5.41zM79.04 500.14h5.41v2.87h-5.41zM85.8 503.43h5.41v1.93h-5.41zM92.57 496.86h5.41v3.8h-5.41zM99.34 503.43h5.41v1.93h-5.41zM106.11 503.43h5.41v1.93h-5.41zM112.88 503.43h5.41v1.93h-5.41zM119.64 503.43h5.41v1.93h-5.41zM126.41 503.43h5.41v1.93h-5.41zM133.18 503.43h5.41v1.93h-5.41zM139.95 503.43h5.41v1.93h-5.41zM146.72 496.86h5.41v3.8h-5.41zM153.48 493.57h5.41v4.74h-5.41zM160.25 493.57h5.41v4.74h-5.41zM167.02 490.29h5.41v5.68h-5.41zM173.79 490.29h5.41v5.68h-5.41zM180.56 487h5.41v6.62h-5.41zM187.32 483.72h5.41v7.56h-5.41z"/>
<path fill="#2797eb" d="M31.66 486.54h5.41v7.09h-5.41zM38.43 486.54h5.41v7.09h-5.41zM45.2 491.23h5.41v5.68h-5.41zM51.96 486.54h5.41v7.09h-5.41zM58.73 481.84h5.41v8.5h-5.41zM65.5 491.23h5.41v5.68h-5.41zM72.27 491.23h5.41v5.68h-5.41zM79.04 495.92h5.41v4.27h-5.41zM85.8 500.61h5.41v2.87h-5.41zM92.57 491.23h5.41v5.68h-5.41zM99.34 500.61h5.41v2.87h-5.41zM106.11 500.61h5.41v2.87h-5.41zM112.88 500.61h5.41v2.87h-5.41zM119.64 500.61h5.41v2.87h-5.41zM126.41 500.61h5.41v2.87h-5.41zM133.18 500.61h5.41v2.87h-5.41zM139.95 500.61h5.41v2.87h-5.41zM146.72 491.23h5.41v5.68h-5.41zM153.48 486.54h5.41v7.09h-5.41zM160.25 486.54h5.41v7.09h-5.41zM167.02 481.84h5.41v8.5h-5.41zM173.79 481.84h5.41v8.5h-5.41zM180.56 477.15h5.41v9.91h-5.41zM187.32 472.46h5.41v11.31h-5.41z"/>
<path fill="#1caadf" d="M31.66 477.15h5.41v9.44h-5.41zM38.43 477.15h5.41v9.44h-5.41zM45.2 483.72h5.41v7.56h-5.41zM51.96 477.15h5.41v9.44h-5.41zM58.73 470.58h5.41v11.31h-5.41zM65.5 483.72h5.41v7.56h-5.41zM72.27 483.72h5.41v7.56h-5.41zM79.04 490.29h5.41v5.68h-5.41zM85.8 496.86h5.41v3.8h-5.41zM92.57 483.72h5.41v7.56h-5.41zM99.34 496.86h5.41v3.8h-5.41zM106.11 496.86h5.41v3.8h-5.41zM112.88 496.86h5.41v3.8h-5.41zM119.64 496.86h5.41v3.8h-5.41zM126.41 496.86h5.41v3.8h-5.41zM133.18 496.86h5.41v3.8h-5.41zM139.95 496.86h5.41v3.8h-5.41zM146.72 483.72h5.41v7.56h-5.41zM153.48 477.15h5.41v9.44h-5.41zM160.25 477.15h5.41v9.44h-5.41zM167.02 470.58h5.41v11.31h-5.41zM173.79 470.58h5.41v11.31h-5.41zM180.56 464.01h5.41v13.19h-5.41zM187.32 457.44h5.41v15.07h-5.41z"/>
<path fill="#01b9c7" d="M31.66 464.95h5.41v12.25h-5.41zM38.43 464.95h5.41v12.25h-5.41zM45.2 473.96h5.41v9.81h-5.41zM51.96 464.95h5.41v12.25h-5.41zM58.73 455.94h5.41v14.69h-5.41zM65.5 473.96h5.41v9.81h-5.41zM72.27 473.96h5.41v9.81h-5.41zM79.04 482.97h5.41v7.37h-5.41zM85.8 491.98h5.41v4.93h-5.41zM92.57 473.96h5.41v9.81h-5.41zM99.34 491.98h5.41v4.93h-5.41zM106.11 491.98h5.41v4.93h-5.41zM112.88 491.98h5.41v4.93h-5.41zM119.64 491.98h5.41v4.93h-5.41zM126.41 491.98h5.41v4.93h-5.41zM133.18 491.98h5.41v4.93h-5.41zM139.95 491.98h5.41v4.93h-5.41zM146.72 473.96h5.41v9.81h-5.41zM153.48 464.95h5.41v12.25h-5.41zM160.25 464.95h5.41v12.25h-5.41zM167.02 455.94h5.41v14.69h-5.41zM173.79 455.94h5.41v14.69h-5.41zM180.56 446.93h5.41v17.13h-5.41zM187.32 437.92h5.41v19.57h-5.41z"/>
<path fill="#29c3aa" d="M31.66 463.91h5.41v1.08h-5.41zM38.43 463.91h5.41v1.08h-5.41zM45.2 473.13h5.41v0.88h-5.41zM51.96 463.91h5.41v1.08h-5.41zM58.73 454.7h5.41v1.29h-5.41zM65.5 473.13h5.41v0.88h-5.41zM72.27 473.13h5.41v0.88h-5.41zM79.04 482.35h5.41v0.67h-5.41zM85.8 491.57h5.41v0.46h-5.41zM92.57 473.13h5.41v0.88h-5.41zM99.34 491.57h5.41v0.46h-5.41zM106.11 491.57h5.41v0.46h-5.41zM112.88 491.57h5.41v0.46h-5.41zM119.64 491.57h5.41v0.46h-5.41zM126.41 491.57h5.41v0.46h-5.41zM133.18 491.57h5.41v0.46h-5.41zM139.95 491.57h5.41v0.46h-5.41zM146.72 473.13h5.41v0.88h-5.41zM153.48 463.91h5.41v1.08h-5.41zM160.25 463.91h5.41v1.08h-5.41zM167.02 454.7h5.41v1.29h-5.41zM173.79 454.7h5.41v1.29h-5.41zM180.56 445.48h5.41v1.5h-5.41zM187.32 436.26h5.41v1.7h-5.41z"/>
<path fill="#48cb86" d="M31.66 459.22h5.41v4.74h-5.41zM38.43 459.22h5.41v4.74h-5.41zM45.2 469.38h5.41v3.8h-5.41zM51.96 459.22h5.41v4.74h-5.41zM58.73 449.07h5.41v5.68h-5.41zM65.5 469.38h5.41v3.8h-5.41zM72.27 469.38h5.41v3.8h-5.41zM79.04 479.53h5.41v2.87h-5.41zM85.8 489.69h5.41v1.93h-5.41zM92.57 469.38h5.41v3.8h-5.41zM99.34 489.69h5.41v1.93h-5.41zM106.11 489.69h5.41v1.93h-5.41zM112.88 489.69h5.41v1.93h-5.41zM119.64 489.69h5.41v1.93h-5.41zM126.41 489.69h5.41v1.93h-5.41zM133.18 489.69h5.41v1.93h-5.41zM139.95 489.69h5.41v1.93h-5.41zM146.72 469.38h5.41v3.8h-5.41zM153.48 459.22h5.41v4.74h-5.41zM160.25 459.22h5.41v4.74h-5.41zM167.02 449.07h5.41v5.68h-5.41zM173.79 449.07h5.41v5.68h-5.41zM180.56 438.91h5.41v6.62h-5.41zM187.32 428.75h5.41v7.56h-5.41z"/>
<path fill="#81cc59" d="M31.66 454.53h5.41v4.74h-5.41zM38.43 454.53h5.41v4.74h-5.41zM45.2 465.62h5.41v3.8h-5.41zM51.96 454.53h5.41v4.74h-5.41zM58.73 443.43h5.41v5.68h-5.41zM65.5 465.62h5.41v3.8h-5.41zM72.27 465.62h5.41v3.8h-5.41zM79.04 476.72h5.41v2.87h-5.41zM85.8 487.81h5.41v1.93h-5.41zM92.57 465.62h5.41v3.8h-5.41zM99.34 487.81h5.41v1.93h-5.41zM106.11 487.81h5.41v1.93h-5.41zM112.88 487.81h5.41v1.93h-5.41zM119.64 487.81h5.41v1.93h-5.41zM126.41 487.81h5.41v1.93h-5.41zM133.18 487.81h5.41v1.93h-5.41zM139.95 487.81h5.41v1.93h-5.41zM146.72 465.62h5.41v3.8h-5.41zM153.48 454.53h5.41v4.74h-5.41zM160.25 454.53h5.41v4.74h-5.41zM167.02 443.43h5.41v5.68h-5.41zM173.79 443.43h5.41v5.68h-5.41zM180.56 432.34h5.41v6.62h-5.41zM187.32 421.25h5.41v7.56h-5.41z"/>
<path fill="#bbc42f" d="M31.66 447.49h5.41v7.09h-5.41zM38.43 447.49h5.41v7.09h-5.41zM45.2 459.99h5.41v5.68h-5.41zM51.96 447.49h5.41v7.09h-5.41zM58.73 434.99h5.41v8.5h-5.41zM65.5 459.99h5.41v5.68h-5.41zM72.27 459.99h5.41v5.68h-5.41zM79.04 472.49h5.41v4.27h-5.41zM85.8 485h5.41v2.87h-5.41zM92.57 459.99h5.41v5.68h-5.41zM99.34 485h5.41v2.87h-5.41zM106.11 485h5.41v2.87h-5.41zM112.88 485h5.41v2.87h-5.41zM119.64 485h5.41v2.87h-5.41zM126.41 485h5.41v2.87h-5.41zM133.18 485h5.41v2.87h-5.41zM139.95 485h5.41v2.87h-5.41zM146.72 459.99h5.41v5.68h-5.41zM153.48 447.49h5.41v7.09h-5.41zM160.25 447.49h5.41v7.09h-5.41zM167.02 434.99h5.41v8.5h-5.41zM173.79 434.99h5.41v8.5h-5.41zM180.56 422.49h5.41v9.91h-5.41zM187.32 409.98h5.41v11.31h-5.41z"/>
<path fill="#eaba31" d="M31.66 445.14h5.41v2.4h-5.41zM38.43 445.14h5.41v2.4h-5.41zM45.2 458.11h5.41v1.93h-5.41zM51.96 445.14h5.41v2.4h-5.41zM58.73 432.17h5.41v2.87h-5.41zM65.5 458.11h5.41v1.93h-5.41zM72.27 458.11h5.41v1.93h-5.41zM79.04 471.09h5.41v1.46h-5.41zM85.8 484.06h5.41v0.99h-5.41zM92.57 458.11h5.41v1.93h-5.41zM99.34 484.06h5.41v0.99h-5.41zM106.11 484.06h5.41v0.99h-5.41zM112.88 484.06h5.41v0.99h-5.41zM119.64 484.06h5.41v0.99h-5.41zM126.41 484.06h5.41v0.99h-5.41zM133.18 484.06h5.41v0.99h-5.41zM139.95 484.06h5.41v0.99h-5.41zM146.72 458.11h5.41v1.93h-5.41zM153.48 445.14h5.41v2.4h-5.41zM160.25 445.14h5.41v2.4h-5.41zM167.02 432.17h5.41v2.87h-5.41zM173.79 432.17h5.41v2.87h-5.41zM180.56 419.2h5.41v3.34h-5.41zM187.32 406.23h5.41v3.8h-5.41z"/>
<path fill="#fec735" d="M31.66 438.48h5.41v6.71h-5.41zM38.43 438.48h5.41v6.71h-5.41zM45.2 452.78h5.41v5.38h-5.41zM51.96 438.48h5.41v6.71h-5.41zM58.73 424.17h5.41v8.05h-5.41zM65.5 452.78h5.41v5.38h-5.41zM72.27 452.78h5.41v5.38h-5.41zM79.04 467.09h5.41v4.05h-5.41zM85.8 481.39h5.41v2.72h-5.41zM92.57 452.78h5.41v5.38h-5.41zM99.34 481.39h5.41v2.72h-5.41zM106.11 481.39h5.41v2.72h-5.41zM112.88 481.39h5.41v2.72h-5.41zM119.64 481.39h5.41v2.72h-5.41zM126.41 481.39h5.41v2.72h-5.41zM133.18 481.39h5.41v2.72h-5.41zM139.95 481.39h5.41v2.72h-5.41zM146.72 452.78h5.41v5.38h-5.41zM153.48 438.48h5.41v6.71h-5.41zM160.25 438.48h5.41v6.71h-5.41zM167.02 424.17h5.41v8.05h-5.41zM173.79 424.17h5.41v8.05h-5.41zM180.56 409.87h5.41v9.38h-5.41zM187.32 395.57h5.41v10.71h-5.41z"/>
<path fill="#f5e128" d="M31.66 436.6h5.41v1.93h-5.41zM38.43 436.6h5.41v1.93h-5.41zM45.2 451.28h5.41v1.55h-5.41zM51.96 436.6h5.41v1.93h-5.41zM58.73 421.92h5.41v2.3h-5.41zM65.5 451.28h5.41v1.55h-5.41zM72.27 451.28h5.41v1.55h-5.41zM79.04 465.96h5.41v1.18h-5.41zM85.8 480.64h5.41v0.8h-5.41zM92.57 451.28h5.41v1.55h-5.41zM99.34 480.64h5.41v0.8h-5.41zM106.11 480.64h5.41v0.8h-5.41zM112.88 480.64h5.41v0.8h-5.41zM119.64 480.64h5.41v0.8h-5.41zM126.41 480.64h5.41v0.8h-5.41zM133.18 480.64h5.41v0.8h-5.41zM139.95 480.64h5.41v0.8h-5.41zM146.72 451.28h5.41v1.55h-5.41zM153.48 436.6h5.41v1.93h-5.41zM160.25 436.6h5.41v1.93h-5.41zM167.02 421.92h5.41v2.3h-5.41zM173.79 421.92h5.41v2.3h-5.41zM180.56 407.24h5.41v2.68h-5.41zM187.32 392.56h5.41v3.05h-5.41z"/>
<path fill="#f9fb15" d="M31.66 429.84h5.41v6.81h-5.41zM38.43 429.84h5.41v6.81h-5.41zM45.2 445.88h5.41v5.46h-5.41zM51.96 429.84h5.41v6.81h-5.41zM58.73 413.81h5.41v8.16h-5.41zM65.5 445.88h5.41v5.46h-5.41zM72.27 445.88h5.41v5.46h-5.41zM79.04 461.91h5.41v4.1h-5.41zM85.8 477.94h5.41v2.75h-5.41zM92.57 445.88h5.41v5.46h-5.41zM99.34 477.94h5.41v2.75h-5.41zM106.11 477.94h5.41v2.75h-5.41zM112.88 477.94h5.41v2.75h-5.41zM119.64 477.94h5.41v2.75h-5.41zM126.41 477.94h5.41v2.75h-5.41zM133.18 477.94h5.41v2.75h-5.41zM139.95 477.94h5.41v2.75h-5.41zM146.72 445.88h5.41v5.46h-5.41zM153.48 429.84h5.41v6.81h-5.41zM160.25 429.84h5.41v6.81h-5.41zM167.02 413.81h5.41v8.16h-5.41zM173.79 413.81h5.41v8.16h-5.41zM180.56 397.78h5.41v9.51h-5.41zM187.32 381.75h5.41v10.86h-5.41z"/>
<path d="M31.66 507.89h5.41M31.66 503.43h5.41M31.66 502.96h5.41M31.66 498.27h5.41M31.66 493.57h5.41M31.66 486.54h5.41M31.66 477.15h5.41M31.66 464.95h5.41M31.66 463.91h5.41M31.66 459.22h5.41M31.66 454.53h5.41M31.66 447.49h5.41M31.66 445.14h5.41M31.66 438.48h5.41M31.66 436.6h5.41M38.43 507.89h5.41M38.43 503.43h5.41M38.43 502.96h5.41M38.43 498.27h5.41M38.43 493.57h5.41M38.43 486.54h5.41M38.43 477.15h5.41M38.43 464.95h5.41M38.43 463.91h5.41M38.43 459.22h5.41M38.43 454.53h5.41M38.43 447.49h5.41M38.43 445.14h5.41M38.43 438.48h5.41M38.43 436.6h5.41M45.2 508.31h5.41M45.2 504.74h5.41M45.2 504.37h5.41M45.2 500.61h5.41M45.2 496.86h5.41M45.2 491.23h5.41M45.2 483.72h5.41M45.2 473.96h5.41M45.2 473.13h5.41M45.2 469.38h5.41M45.2 465.62h5.41M45.2 459.99h5.41M45.2 458.11h5.41M45.2 452.78h5.41M45.2 451.28h5.41M51.96 507.89h5.41M51.96 503.43h5.41M51.96 502.96h5.41M51.96 498.27h5.41M51.96 493.57h5.41M51.96 486.54h5.41M51.96 477.15h5.41M51.96 464.95h5.41M51.96 463.91h5.41M51.96 459.22h5.41M51.96 454.53h5.41M51.96 447.49h5.41M51.96 445.14h5.41M51.96 438.48h5.41M51.96 436.6h5.41M58.73 507.47h5.41M58.73 502.12h5.41M58.73 501.55h5.41M58.73 495.92h5.41M58.73 490.29h5.41M58.73 481.84h5.41M58.73 470.58h5.41M58.73 455.94h5.41M58.73 454.7h5.41M58.73 449.07h5.41M58.73 443.43h5.41M58.73 434.99h5.41M58.73 432.17h5.41M58.73 424.17h5.41M58.73 421.92h5.41M65.5 508.31h5.41M65.5 504.74h5.41M65.5 504.37h5.41M65.5 500.61h5.41M65.5 496.86h5.41M65.5 491.23h5.41M65.5 483.72h5.41M65.5 473.96h5.41M65.5 473.13h5.41M65.5 469.38h5.41M65.5 465.62h5.41M65.5 459.99h5.41M65.5 458.11h5.41M65.5 452.78h5.41M65.5 451.28h5.41M72.27 508.31h5.41M72.27 504.74h5.41M72.27 504.37h5.41M72.27 500.61h5.41M72.27 496.86h5.41M72.27 491.23h5.41M72.27 483.72h5.41M72.27 473.96h5.41M72.27 473.13h5.41M72.27 469.38h5.41M72.27 465.62h5.41M72.27 459.99h5.41M72.27 458.11h5.41M72.27 452.78h5.41M72.27 451.28h5.41M79.04 508.73h5.41M79.04 506.06h5.41M79.04 505.78h5.41M79.04 502.96h5.41M79.04 500.14h5.41M79.04 495.92h5.41M79.04 490.29h5.41M79.04 482.97h5.41M79.04 482.35h5.41M79.04 479.53h5.41M79.04 476.72h5.41M79.04 472.49h5.41M79.04 471.09h5.41M79.04 467.09h5.41M79.04 465.96h5.41M85.8 509.16h5.41M85.8 507.37h5.41M85.8 507.18h5.41M85.8 505.31h5.41M85.8 503.43h5.41M85.8 500.61h5.41M85.8 496.86h5.41M85.8 491.98h5.41M85.8 491.57h5.41M85.8 489.69h5.41M85.8 487.81h5.41M85.8 485h5.41M85.8 484.06h5.41M85.8 481.39h5.41M85.8 480.64h5.41M92.57 508.31h5.41M92.57 504.74h5.41M92.57 504.37h5.41M92.57 500.61h5.41M92.57 496.86h5.41M92.57 491.23h5.41M92.57 483.72h5.41M92.57 473.96h5.41M92.57 473.13h5.41M92.57 469.38h5.41M92.57 465.62h5.41M92.57 459.99h5.41M92.57 458.11h5.41M92.57 452.78h5.41M92.57 451.28h5.41M99.34 509.16h5.41M99.34 507.37h5.41M99.34 507.18h5.41M99.34 505.31h5.41M99.34 503.43h5.41M99.34 500.61h5.41M99.34 496.86h5.41M99.34 491.98h5.41M99.34 491.57h5.41M99.34 489.69h5.41M99.34 487.81h5.41M99.34 485h5.41M99.34 484.06h5.41M99.34 481.39h5.41M99.34 480.64h5.41M106.11 509.16h5.41M106.11 507.37h5.41M106.11 507.18h5.41M106.11 505.31h5.41M106.11 503.43h5.41M106.11 500.61h5.41M106.11 496.86h5.41M106.11 491.98h5.41M106.11 491.57h5.41M106.11 489.69h5.41M106.11 487.81h5.41M106.11 485h5.41M106.11 484.06h5.41M106.11 481.39h5.41M106.11 480.64h5.41M112.88 509.16h5.41M112.88 507.37h5.41M112.88 507.18h5.41M112.88 505.31h5.41M112.88 503.43h5.41M112.88 500.61h5.41M112.88 496.86h5.41M112.88 491.98h5.41M112.88 491.57h5.41M112.88 489.69h5.41M112.88 487.81h5.41M112.88 485h5.41M112.88 484.06h5.41M112.88 481.39h5.41M112.88 480.64h5.41M119.64 509.16h5.41M119.64 507.37h5.41M119.64 507.18h5.41M119.64 505.31h5.41M119.64 503.43h5.41M119.64 500.61h5.41M119.64 496.86h5.41M119.64 491.98h5.41M119.64 491.57h5.41M119.64 489.69h5.41M119.64 487.81h5.41M119.64 485h5.41M119.64 484.06h5.41M119.64 481.39h5.41M119.64 480.64h5.41M126.41 509.16h5.41M126.41 507.37h5.41M126.41 507.18h5.41M126.41 505.31h5.41M126.41 503.43h5.41M126.41 500.61h5.41M126.41 496.86h5.41M126.41 491.98h5.41M126.41 491.57h5.41M126.41 489.69h5.41M126.41 487.81h5.41M126.41 485h5.41M126.41 484.06h5.41M126.41 481.39h5.41M126.41 480.64h5.41M133.18 509.16h5.41M133.18 507.37h5.41M133.18 507.18h5.41M133.18 505.31h5.41M133.18 503.43h5.41M133.18 500.61h5.41M133.18 496.86h5.41M133.18 491.98h5.41M133.18 491.57h5.41M133.18 489.69h5.41M133.18 487.81h5.41M133.18 485h5.41M133.18 484.06h5.41M133.18 481.39h5.41M133.18 480.64h5.41M139.95 509.16h5.41M139.95 507.37h5.41M139.95 507.18h5.41M139.95 505.31h5.41M139.95 503.43h5.41M139.95 500.61h5.41M139.95 496.86h5.41M139.95 491.98h5.41M139.95 491.57h5.41M139.95 489.69h5.41M139.95 487.81h5.41M139.95 485h5.41M139.95 484.06h5.41M139.95 481.39h5.41M139.95 480.64h5.41M146.72 508.31h5.41M146.72 504.74h5.41M146.72 504.37h5.41M146.72 500.61h5.41M146.72 496.86h5.41M146.72 491.23h5.41M146.72 483.72h5.41M146.72 473.96h5.41M146.72 473.13h5.41M146.72 469.38h5.41M146.72 465.62h5.41M146.72 459.99h5.41M146.72 458.11h5.41M146.72 452.78h5.41M146.72 451.28h5.41M153.48 507.89h5.41M153.48 503.43h5.41M153.48 502.96h5.41M153.48 498.27h5.41M153.48 493.57h5.41M153.48 486.54h5.41M153.48 477.15h5.41M153.48 464.95h5.41M153.48 463.91h5.41M153.48 459.22h5.41M153.48 454.53h5.41M153.48 447.49h5.41M153.48 445.14h5.41M153.48 438.48h5.41M153.48 436.6h5.41M160.25 507.89h5.41M160.25 503.43h5.41M160.25 502.96h5.41M160.25 498.27h5.41M160.25 493.57h5.41M160.25 486.54h5.41M160.25 477.15h5.41M160.25 464.95h5.41M160.25 463.91h5.41M160.25 459.22h5.41M160.25 454.53h5.41M160.25 447.49h5.41M160.25 445.14h5.41M160.25 438.48h5.41M160.25 436.6h5.41M167.02 507.47h5.41M167.02 502.12h5.41M167.02 501.55h5.41M167.02 495.92h5.41M167.02 490.29h5.41M167.02 481.84h5.41M167.02 470.58h5.41M167.02 455.94h5.41M167.02 454.7h5.41M167.02 449.07h5.41M167.02 443.43h5.41M167.02 434.99h5.41M167.02 432.17h5.41M167.02 424.17h5.41M167.02 421.92h5.41M173.79 507.47h5.41M173.79 502.12h5.41M173.79 501.55h5.41M173.79 495.92h5.41M173.79 490.29h5.41M173.79 481.84h5.41M173.79 470.58h5.41M173.79 455.94h5.41M173.79 454.7h5.41M173.79 449.07h5.41M173.79 443.43h5.41M173.79 434.99h5.41M173.79 432.17h5.41M173.79 424.17h5.41M173.79 421.92h5.41M180.56 507.04h5.41M180.56 500.8h5.41M180.56 500.14h5.41M180.56 493.57h5.41M180.56 487h5.41M180.56 477.15h5.41M180.56 464.01h5.41M180.56 446.93h5.41M180.56 445.48h5.41M180.56 438.91h5.41M180.56 432.34h5.41M180.56 422.49h5.41M180.56 419.2h5.41M180.56 409.87h5.41M180.56 407.24h5.41M187.32 506.62h5.41M187.32 499.49h5.41M187.32 498.74h5.41M187.32 491.23h5.41M187.32 483.72h5.41M187.32 472.46h5.41M187.32 457.44h5.41M187.32 437.92h5.41M187.32 436.26h5.41M187.32 428.75h5.41M187.32 421.25h5.41M187.32 409.98h5.41M187.32 406.23h5.41M187.32 395.57h5.41M187.32 392.56h5.41" stroke="#000" stroke-opacity="0.8" stroke-width="0.5" fill="none"/>
<path d="M31.66 429.84h5.41v80.16h-5.41zM38.43 429.84h5.41v80.16h-5.41zM45.2 445.88h5.41v64.13h-5.41zM51.96 429.84h5.41v80.16h-5.41zM58.73 413.81h5.41v96.19h-5.41zM65.5 445.88h5.41v64.13h-5.41zM72.27 445.88h5.41v64.13h-5.41zM79.04 461.91h5.41v48.09h-5.41zM85.8 477.94h5.41v32.06h-5.41zM92.57 445.88h5.41v64.13h-5.41zM99.34 477.94h5.41v32.06h-5.41zM106.11 477.94h5.41v32.06h-5.41zM112.88 477.94h5.41v32.06h-5.41zM119.64 477.94h5.41v32.06h-5.41zM126.41 477.94h5.41v32.06h-5.41zM133.18 477.94h5.41v32.06h-5.41zM139.95 477.94h5.41v32.06h-5.41zM146.72 445.88h5.41v64.13h-5.41zM153.48 429.84h5.41v80.16h-5.41zM160.25 429.84h5.41v80.16h-5.41zM167.02 413.81h5.41v96.19h-5.41zM173.79 413.81h5.41v96.19h-5.41zM180.56 397.78h5.41v112.22h-5.41zM187.32 381.75h5.41v128.25h-5.41z" stroke="#000" stroke-opacity="0.55" stroke-width="0.7" fill="none"/>
</g>
<rect x="27.6" y="378.75" width="169.2" height="131.25" fill="none" stroke="#808080" stroke-width="0.7"/>
<path d="M27.6 510v-1.3M27.6 378.75v1.3M61.44 510v-1.3M61.44 378.75v1.3M95.28 510v-1.3M95.28 378.75v1.3M129.12 510v-1.3M129.12 378.75v1.3M162.96 510v-1.3M162.96 378.75v1.3M196.8 510v-1.3M196.8 378.75v1.3M27.6 510h1.3M196.8 510h-1.3M27.6 491.25h1.3M196.8 491.25h-1.3M27.6 472.5h1.3M196.8 472.5h-1.3M27.6 453.75h1.3M196.8 453.75h-1.3M27.6 435h1.3M196.8 435h-1.3M27.6 416.25h1.3M196.8 416.25h-1.3M27.6 397.5h1.3M196.8 397.5h-1.3M27.6 378.75h1.3M196.8 378.75h-1.3" stroke="#808080" stroke-width="0.5" fill="none"/>
<g font-family="Liberation Sans, sans-serif" font-size="5.2" fill="#222" stroke="#222" stroke-width="0.15">
<text x="27.6" y="518.3" text-anchor="middle">0</text>
<text x="61.44" y="518.3" text-anchor="middle">5</text>
<text x="95.28" y="518.3" text-anchor="middle">10</text>
<text x="129.12" y="518.3" text-anchor="middle">15</text>
<text x="162.96" y="518.3" text-anchor="middle">20</text>
<text x="196.8" y="518.3" text-anchor="middle">25</text>
<text x="25.5" y="512.5" text-anchor="end">0</text>
<text x="25.5" y="493.75" text-anchor="end">20</text>
<text x="25.5" y="475" text-anchor="end">40</text>
<text x="25.5" y="456.25" text-anchor="end">60</text>
<text x="25.5" y="437.5" text-anchor="end">80</text>
<text x="25.5" y="418.75" text-anchor="end">100</text>
<text x="25.5" y="400" text-anchor="end">120</text>
<text x="25.5" y="381.25" text-anchor="end">140</text>
</g>
<text x="112.2" y="527.9" text-anchor="middle" font-family="Liberation Sans, sans-serif" font-size="8.4" fill="#222" stroke="#222" stroke-width="0.15">Time (hours)</text>
<text transform="translate(13.1 443.3) rotate(-90)" text-anchor="middle" font-family="Liberation Sans, sans-serif" font-size="8.4" fill="#222" stroke="#222" stroke-width="0.15" xml:space="preserve">Electricity Consumption  (kWh)</text>
<text x="102.6" y="545.6" text-anchor="middle" font-family="Liberation Serif, serif" font-size="9.75" fill="#111" stroke="#111" stroke-width="0.12">(<tspan font-weight="bold">e</tspan>) SBA</text>
</g>
<g>
<path d="M271 378.75V510M304.8 378.75V510M338.6 378.75V510M372.4 378.75V510M237.2 488.12H406.2M237.2 466.25H406.2M237.2 444.38H406.2M237.2 422.5H406.2M237.2 400.62H406.2" stroke="#e2e2e2" stroke-width="0.5" fill="none"/>
<g>
<path fill="#3e26a8" d="M241.26 507.54h5.41v2.51h-5.41zM248.02 507.04h5.41v3.01h-5.41zM254.78 507.04h5.41v3.01h-5.41zM261.54 507.04h5.41v3.01h-5.41zM268.3 507.54h5.41v2.51h-5.41zM275.06 507.04h5.41v3.01h-5.41zM281.82 508.03h5.41v2.02h-5.41zM288.58 509.01h5.41v1.04h-5.41zM295.34 509.01h5.41v1.04h-5.41zM302.1 509.01h5.41v1.04h-5.41zM308.86 509.01h5.41v1.04h-5.41zM315.62 509.01h5.41v1.04h-5.41zM322.38 509.01h5.41v1.04h-5.41zM329.14 509.01h5.41v1.04h-5.41zM335.9 509.01h5.41v1.04h-5.41zM342.66 509.01h5.41v1.04h-5.41zM349.42 508.52h5.41v1.53h-5.41zM356.18 508.03h5.41v2.02h-5.41zM362.94 508.03h5.41v2.02h-5.41zM369.7 508.52h5.41v1.53h-5.41zM376.46 507.04h5.41v3.01h-5.41zM383.22 506.55h5.41v3.5h-5.41zM389.98 506.55h5.41v3.5h-5.41zM396.74 506.55h5.41v3.5h-5.41z"/>
<path fill="#4538d7" d="M241.26 502.33h5.41v5.25h-5.41zM248.02 500.8h5.41v6.29h-5.41zM254.78 500.8h5.41v6.29h-5.41zM261.54 500.8h5.41v6.29h-5.41zM268.3 502.33h5.41v5.25h-5.41zM275.06 500.8h5.41v6.29h-5.41zM281.82 503.87h5.41v4.21h-5.41zM288.58 506.93h5.41v2.13h-5.41zM295.34 506.93h5.41v2.13h-5.41zM302.1 506.93h5.41v2.13h-5.41zM308.86 506.93h5.41v2.13h-5.41zM315.62 506.93h5.41v2.13h-5.41zM322.38 506.93h5.41v2.13h-5.41zM329.14 506.93h5.41v2.13h-5.41zM335.9 506.93h5.41v2.13h-5.41zM342.66 506.93h5.41v2.13h-5.41zM349.42 505.4h5.41v3.17h-5.41zM356.18 503.87h5.41v4.21h-5.41zM362.94 503.87h5.41v4.21h-5.41zM369.7 505.4h5.41v3.17h-5.41zM376.46 500.8h5.41v6.29h-5.41zM383.22 499.27h5.41v7.33h-5.41zM389.98 499.27h5.41v7.33h-5.41zM396.74 499.27h5.41v7.33h-5.41z"/>
<path fill="#484ff2" d="M241.26 501.79h5.41v0.6h-5.41zM248.02 500.14h5.41v0.71h-5.41zM254.78 500.14h5.41v0.71h-5.41zM261.54 500.14h5.41v0.71h-5.41zM268.3 501.79h5.41v0.6h-5.41zM275.06 500.14h5.41v0.71h-5.41zM281.82 503.43h5.41v0.49h-5.41zM288.58 506.71h5.41v0.27h-5.41zM295.34 506.71h5.41v0.27h-5.41zM302.1 506.71h5.41v0.27h-5.41zM308.86 506.71h5.41v0.27h-5.41zM315.62 506.71h5.41v0.27h-5.41zM322.38 506.71h5.41v0.27h-5.41zM329.14 506.71h5.41v0.27h-5.41zM335.9 506.71h5.41v0.27h-5.41zM342.66 506.71h5.41v0.27h-5.41zM349.42 505.07h5.41v0.38h-5.41zM356.18 503.43h5.41v0.49h-5.41zM362.94 503.43h5.41v0.49h-5.41zM369.7 505.07h5.41v0.38h-5.41zM376.46 500.14h5.41v0.71h-5.41zM383.22 498.5h5.41v0.82h-5.41zM389.98 498.5h5.41v0.82h-5.41zM396.74 498.5h5.41v0.82h-5.41z"/>
<path fill="#4367fd" d="M241.26 496.31h5.41v5.53h-5.41zM248.02 493.57h5.41v6.62h-5.41zM254.78 493.57h5.41v6.62h-5.41zM261.54 493.57h5.41v6.62h-5.41zM268.3 496.31h5.41v5.53h-5.41zM275.06 493.57h5.41v6.62h-5.41zM281.82 499.05h5.41v4.43h-5.41zM288.58 504.52h5.41v2.24h-5.41zM295.34 504.52h5.41v2.24h-5.41zM302.1 504.52h5.41v2.24h-5.41zM308.86 504.52h5.41v2.24h-5.41zM315.62 504.52h5.41v2.24h-5.41zM322.38 504.52h5.41v2.24h-5.41zM329.14 504.52h5.41v2.24h-5.41zM335.9 504.52h5.41v2.24h-5.41zM342.66 504.52h5.41v2.24h-5.41zM349.42 501.79h5.41v3.34h-5.41zM356.18 499.05h5.41v4.43h-5.41zM362.94 499.05h5.41v4.43h-5.41zM369.7 501.79h5.41v3.34h-5.41zM376.46 493.57h5.41v6.62h-5.41zM383.22 490.84h5.41v7.72h-5.41zM389.98 490.84h5.41v7.72h-5.41zM396.74 490.84h5.41v7.72h-5.41z"/>
<path fill="#2f80fa" d="M241.26 490.84h5.41v5.53h-5.41zM248.02 487h5.41v6.62h-5.41zM254.78 487h5.41v6.62h-5.41zM261.54 487h5.41v6.62h-5.41zM268.3 490.84h5.41v5.53h-5.41zM275.06 487h5.41v6.62h-5.41zM281.82 494.67h5.41v4.43h-5.41zM288.58 502.33h5.41v2.24h-5.41zM295.34 502.33h5.41v2.24h-5.41zM302.1 502.33h5.41v2.24h-5.41zM308.86 502.33h5.41v2.24h-5.41zM315.62 502.33h5.41v2.24h-5.41zM322.38 502.33h5.41v2.24h-5.41zM329.14 502.33h5.41v2.24h-5.41zM335.9 502.33h5.41v2.24h-5.41zM342.66 502.33h5.41v2.24h-5.41zM349.42 498.5h5.41v3.34h-5.41zM356.18 494.67h5.41v4.43h-5.41zM362.94 494.67h5.41v4.43h-5.41zM369.7 498.5h5.41v3.34h-5.41zM376.46 487h5.41v6.62h-5.41zM383.22 483.17h5.41v7.72h-5.41zM389.98 483.17h5.41v7.72h-5.41zM396.74 483.17h5.41v7.72h-5.41z"/>
<path fill="#2797eb" d="M241.26 482.62h5.41v8.26h-5.41zM248.02 477.15h5.41v9.91h-5.41zM254.78 477.15h5.41v9.91h-5.41zM261.54 477.15h5.41v9.91h-5.41zM268.3 482.62h5.41v8.26h-5.41zM275.06 477.15h5.41v9.91h-5.41zM281.82 488.1h5.41v6.62h-5.41zM288.58 499.05h5.41v3.34h-5.41zM295.34 499.05h5.41v3.34h-5.41zM302.1 499.05h5.41v3.34h-5.41zM308.86 499.05h5.41v3.34h-5.41zM315.62 499.05h5.41v3.34h-5.41zM322.38 499.05h5.41v3.34h-5.41zM329.14 499.05h5.41v3.34h-5.41zM335.9 499.05h5.41v3.34h-5.41zM342.66 499.05h5.41v3.34h-5.41zM349.42 493.57h5.41v4.98h-5.41zM356.18 488.1h5.41v6.62h-5.41zM362.94 488.1h5.41v6.62h-5.41zM369.7 493.57h5.41v4.98h-5.41zM376.46 477.15h5.41v9.91h-5.41zM383.22 471.67h5.41v11.55h-5.41zM389.98 471.67h5.41v11.55h-5.41zM396.74 471.67h5.41v11.55h-5.41z"/>
<path fill="#1caadf" d="M241.26 471.67h5.41v11h-5.41zM248.02 464.01h5.41v13.19h-5.41zM254.78 464.01h5.41v13.19h-5.41zM261.54 464.01h5.41v13.19h-5.41zM268.3 471.67h5.41v11h-5.41zM275.06 464.01h5.41v13.19h-5.41zM281.82 479.34h5.41v8.81h-5.41zM288.58 494.67h5.41v4.43h-5.41zM295.34 494.67h5.41v4.43h-5.41zM302.1 494.67h5.41v4.43h-5.41zM308.86 494.67h5.41v4.43h-5.41zM315.62 494.67h5.41v4.43h-5.41zM322.38 494.67h5.41v4.43h-5.41zM329.14 494.67h5.41v4.43h-5.41zM335.9 494.67h5.41v4.43h-5.41zM342.66 494.67h5.41v4.43h-5.41zM349.42 487h5.41v6.62h-5.41zM356.18 479.34h5.41v8.81h-5.41zM362.94 479.34h5.41v8.81h-5.41zM369.7 487h5.41v6.62h-5.41zM376.46 464.01h5.41v13.19h-5.41zM383.22 456.34h5.41v15.38h-5.41zM389.98 456.34h5.41v15.38h-5.41zM396.74 456.34h5.41v15.38h-5.41z"/>
<path fill="#01b9c7" d="M241.26 457.44h5.41v14.29h-5.41zM248.02 446.93h5.41v17.13h-5.41zM254.78 446.93h5.41v17.13h-5.41zM261.54 446.93h5.41v17.13h-5.41zM268.3 457.44h5.41v14.29h-5.41zM275.06 446.93h5.41v17.13h-5.41zM281.82 467.95h5.41v11.44h-5.41zM288.58 488.98h5.41v5.74h-5.41zM295.34 488.98h5.41v5.74h-5.41zM302.1 488.98h5.41v5.74h-5.41zM308.86 488.98h5.41v5.74h-5.41zM315.62 488.98h5.41v5.74h-5.41zM322.38 488.98h5.41v5.74h-5.41zM329.14 488.98h5.41v5.74h-5.41zM335.9 488.98h5.41v5.74h-5.41zM342.66 488.98h5.41v5.74h-5.41zM349.42 478.46h5.41v8.59h-5.41zM356.18 467.95h5.41v11.44h-5.41zM362.94 467.95h5.41v11.44h-5.41zM369.7 478.46h5.41v8.59h-5.41zM376.46 446.93h5.41v17.13h-5.41zM383.22 436.41h5.41v19.98h-5.41zM389.98 436.41h5.41v19.98h-5.41zM396.74 436.41h5.41v19.98h-5.41z"/>
<path fill="#29c3aa" d="M241.26 456.23h5.41v1.25h-5.41zM248.02 445.48h5.41v1.5h-5.41zM254.78 445.48h5.41v1.5h-5.41zM261.54 445.48h5.41v1.5h-5.41zM268.3 456.23h5.41v1.25h-5.41zM275.06 445.48h5.41v1.5h-5.41zM281.82 466.99h5.41v1.01h-5.41zM288.58 488.49h5.41v0.53h-5.41zM295.34 488.49h5.41v0.53h-5.41zM302.1 488.49h5.41v0.53h-5.41zM308.86 488.49h5.41v0.53h-5.41zM315.62 488.49h5.41v0.53h-5.41zM322.38 488.49h5.41v0.53h-5.41zM329.14 488.49h5.41v0.53h-5.41zM335.9 488.49h5.41v0.53h-5.41zM342.66 488.49h5.41v0.53h-5.41zM349.42 477.74h5.41v0.77h-5.41zM356.18 466.99h5.41v1.01h-5.41zM362.94 466.99h5.41v1.01h-5.41zM369.7 477.74h5.41v0.77h-5.41zM376.46 445.48h5.41v1.5h-5.41zM383.22 434.73h5.41v1.74h-5.41zM389.98 434.73h5.41v1.74h-5.41zM396.74 434.73h5.41v1.74h-5.41z"/>
<path fill="#48cb86" d="M241.26 450.76h5.41v5.53h-5.41zM248.02 438.91h5.41v6.62h-5.41zM254.78 438.91h5.41v6.62h-5.41zM261.54 438.91h5.41v6.62h-5.41zM268.3 450.76h5.41v5.53h-5.41zM275.06 438.91h5.41v6.62h-5.41zM281.82 462.61h5.41v4.43h-5.41zM288.58 486.3h5.41v2.24h-5.41zM295.34 486.3h5.41v2.24h-5.41zM302.1 486.3h5.41v2.24h-5.41zM308.86 486.3h5.41v2.24h-5.41zM315.62 486.3h5.41v2.24h-5.41zM322.38 486.3h5.41v2.24h-5.41zM329.14 486.3h5.41v2.24h-5.41zM335.9 486.3h5.41v2.24h-5.41zM342.66 486.3h5.41v2.24h-5.41zM349.42 474.46h5.41v3.34h-5.41zM356.18 462.61h5.41v4.43h-5.41zM362.94 462.61h5.41v4.43h-5.41zM369.7 474.46h5.41v3.34h-5.41zM376.46 438.91h5.41v6.62h-5.41zM383.22 427.06h5.41v7.72h-5.41zM389.98 427.06h5.41v7.72h-5.41zM396.74 427.06h5.41v7.72h-5.41z"/>
<path fill="#81cc59" d="M241.26 445.28h5.41v5.53h-5.41zM248.02 432.34h5.41v6.62h-5.41zM254.78 432.34h5.41v6.62h-5.41zM261.54 432.34h5.41v6.62h-5.41zM268.3 445.28h5.41v5.53h-5.41zM275.06 432.34h5.41v6.62h-5.41zM281.82 458.23h5.41v4.43h-5.41zM288.58 484.11h5.41v2.24h-5.41zM295.34 484.11h5.41v2.24h-5.41zM302.1 484.11h5.41v2.24h-5.41zM308.86 484.11h5.41v2.24h-5.41zM315.62 484.11h5.41v2.24h-5.41zM322.38 484.11h5.41v2.24h-5.41zM329.14 484.11h5.41v2.24h-5.41zM335.9 484.11h5.41v2.24h-5.41zM342.66 484.11h5.41v2.24h-5.41zM349.42 471.17h5.41v3.34h-5.41zM356.18 458.23h5.41v4.43h-5.41zM362.94 458.23h5.41v4.43h-5.41zM369.7 471.17h5.41v3.34h-5.41zM376.46 432.34h5.41v6.62h-5.41zM383.22 419.4h5.41v7.72h-5.41zM389.98 419.4h5.41v7.72h-5.41zM396.74 419.4h5.41v7.72h-5.41z"/>
<path fill="#bbc42f" d="M241.26 437.07h5.41v8.26h-5.41zM248.02 422.49h5.41v9.91h-5.41zM254.78 422.49h5.41v9.91h-5.41zM261.54 422.49h5.41v9.91h-5.41zM268.3 437.07h5.41v8.26h-5.41zM275.06 422.49h5.41v9.91h-5.41zM281.82 451.66h5.41v6.62h-5.41zM288.58 480.83h5.41v3.34h-5.41zM295.34 480.83h5.41v3.34h-5.41zM302.1 480.83h5.41v3.34h-5.41zM308.86 480.83h5.41v3.34h-5.41zM315.62 480.83h5.41v3.34h-5.41zM322.38 480.83h5.41v3.34h-5.41zM329.14 480.83h5.41v3.34h-5.41zM335.9 480.83h5.41v3.34h-5.41zM342.66 480.83h5.41v3.34h-5.41zM349.42 466.24h5.41v4.98h-5.41zM356.18 451.66h5.41v6.62h-5.41zM362.94 451.66h5.41v6.62h-5.41zM369.7 466.24h5.41v4.98h-5.41zM376.46 422.49h5.41v9.91h-5.41zM383.22 407.9h5.41v11.55h-5.41zM389.98 407.9h5.41v11.55h-5.41zM396.74 407.9h5.41v11.55h-5.41z"/>
<path fill="#eaba31" d="M241.26 434.33h5.41v2.79h-5.41zM248.02 419.2h5.41v3.34h-5.41zM254.78 419.2h5.41v3.34h-5.41zM261.54 419.2h5.41v3.34h-5.41zM268.3 434.33h5.41v2.79h-5.41zM275.06 419.2h5.41v3.34h-5.41zM281.82 449.47h5.41v2.24h-5.41zM288.58 479.73h5.41v1.15h-5.41zM295.34 479.73h5.41v1.15h-5.41zM302.1 479.73h5.41v1.15h-5.41zM308.86 479.73h5.41v1.15h-5.41zM315.62 479.73h5.41v1.15h-5.41zM322.38 479.73h5.41v1.15h-5.41zM329.14 479.73h5.41v1.15h-5.41zM335.9 479.73h5.41v1.15h-5.41zM342.66 479.73h5.41v1.15h-5.41zM349.42 464.6h5.41v1.69h-5.41zM356.18 449.47h5.41v2.24h-5.41zM362.94 449.47h5.41v2.24h-5.41zM369.7 464.6h5.41v1.69h-5.41zM376.46 419.2h5.41v3.34h-5.41zM383.22 404.07h5.41v3.88h-5.41zM389.98 404.07h5.41v3.88h-5.41zM396.74 404.07h5.41v3.88h-5.41z"/>
<path fill="#fec735" d="M241.26 426.56h5.41v7.82h-5.41zM248.02 409.87h5.41v9.38h-5.41zM254.78 409.87h5.41v9.38h-5.41zM261.54 409.87h5.41v9.38h-5.41zM268.3 426.56h5.41v7.82h-5.41zM275.06 409.87h5.41v9.38h-5.41zM281.82 443.25h5.41v6.27h-5.41zM288.58 476.62h5.41v3.16h-5.41zM295.34 476.62h5.41v3.16h-5.41zM302.1 476.62h5.41v3.16h-5.41zM308.86 476.62h5.41v3.16h-5.41zM315.62 476.62h5.41v3.16h-5.41zM322.38 476.62h5.41v3.16h-5.41zM329.14 476.62h5.41v3.16h-5.41zM335.9 476.62h5.41v3.16h-5.41zM342.66 476.62h5.41v3.16h-5.41zM349.42 459.94h5.41v4.71h-5.41zM356.18 443.25h5.41v6.27h-5.41zM362.94 443.25h5.41v6.27h-5.41zM369.7 459.94h5.41v4.71h-5.41zM376.46 409.87h5.41v9.38h-5.41zM383.22 393.18h5.41v10.93h-5.41zM389.98 393.18h5.41v10.93h-5.41zM396.74 393.18h5.41v10.93h-5.41z"/>
<path fill="#f5e128" d="M241.26 424.37h5.41v2.24h-5.41zM248.02 407.24h5.41v2.68h-5.41zM254.78 407.24h5.41v2.68h-5.41zM261.54 407.24h5.41v2.68h-5.41zM268.3 424.37h5.41v2.24h-5.41zM275.06 407.24h5.41v2.68h-5.41zM281.82 441.49h5.41v1.8h-5.41zM288.58 475.75h5.41v0.93h-5.41zM295.34 475.75h5.41v0.93h-5.41zM302.1 475.75h5.41v0.93h-5.41zM308.86 475.75h5.41v0.93h-5.41zM315.62 475.75h5.41v0.93h-5.41zM322.38 475.75h5.41v0.93h-5.41zM329.14 475.75h5.41v0.93h-5.41zM335.9 475.75h5.41v0.93h-5.41zM342.66 475.75h5.41v0.93h-5.41zM349.42 458.62h5.41v1.36h-5.41zM356.18 441.49h5.41v1.8h-5.41zM362.94 441.49h5.41v1.8h-5.41zM369.7 458.62h5.41v1.36h-5.41zM376.46 407.24h5.41v2.68h-5.41zM383.22 390.12h5.41v3.12h-5.41zM389.98 390.12h5.41v3.12h-5.41zM396.74 390.12h5.41v3.12h-5.41z"/>
<path fill="#f9fb15" d="M241.26 416.48h5.41v7.93h-5.41zM248.02 397.78h5.41v9.51h-5.41zM254.78 397.78h5.41v9.51h-5.41zM261.54 397.78h5.41v9.51h-5.41zM268.3 416.48h5.41v7.93h-5.41zM275.06 397.78h5.41v9.51h-5.41zM281.82 435.19h5.41v6.36h-5.41zM288.58 472.59h5.41v3.2h-5.41zM295.34 472.59h5.41v3.2h-5.41zM302.1 472.59h5.41v3.2h-5.41zM308.86 472.59h5.41v3.2h-5.41zM315.62 472.59h5.41v3.2h-5.41zM322.38 472.59h5.41v3.2h-5.41zM329.14 472.59h5.41v3.2h-5.41zM335.9 472.59h5.41v3.2h-5.41zM342.66 472.59h5.41v3.2h-5.41zM349.42 453.89h5.41v4.78h-5.41zM356.18 435.19h5.41v6.36h-5.41zM362.94 435.19h5.41v6.36h-5.41zM369.7 453.89h5.41v4.78h-5.41zM376.46 397.78h5.41v9.51h-5.41zM383.22 379.08h5.41v11.09h-5.41zM389.98 379.08h5.41v11.09h-5.41zM396.74 379.08h5.41v11.09h-5.41z"/>
<path d="M241.26 507.54h5.41M241.26 502.33h5.41M241.26 501.79h5.41M241.26 496.31h5.41M241.26 490.84h5.41M241.26 482.62h5.41M241.26 471.67h5.41M241.26 457.44h5.41M241.26 456.23h5.41M241.26 450.76h5.41M241.26 445.28h5.41M241.26 437.07h5.41M241.26 434.33h5.41M241.26 426.56h5.41M241.26 424.37h5.41M248.02 507.04h5.41M248.02 500.8h5.41M248.02 500.14h5.41M248.02 493.57h5.41M248.02 487h5.41M248.02 477.15h5.41M248.02 464.01h5.41M248.02 446.93h5.41M248.02 445.48h5.41M248.02 438.91h5.41M248.02 432.34h5.41M248.02 422.49h5.41M248.02 419.2h5.41M248.02 409.87h5.41M248.02 407.24h5.41M254.78 507.04h5.41M254.78 500.8h5.41M254.78 500.14h5.41M254.78 493.57h5.41M254.78 487h5.41M254.78 477.15h5.41M254.78 464.01h5.41M254.78 446.93h5.41M254.78 445.48h5.41M254.78 438.91h5.41M254.78 432.34h5.41M254.78 422.49h5.41M254.78 419.2h5.41M254.78 409.87h5.41M254.78 407.24h5.41M261.54 507.04h5.41M261.54 500.8h5.41M261.54 500.14h5.41M261.54 493.57h5.41M261.54 487h5.41M261.54 477.15h5.41M261.54 464.01h5.41M261.54 446.93h5.41M261.54 445.48h5.41M261.54 438.91h5.41M261.54 432.34h5.41M261.54 422.49h5.41M261.54 419.2h5.41M261.54 409.87h5.41M261.54 407.24h5.41M268.3 507.54h5.41M268.3 502.33h5.41M268.3 501.79h5.41M268.3 496.31h5.41M268.3 490.84h5.41M268.3 482.62h5.41M268.3 471.67h5.41M268.3 457.44h5.41M268.3 456.23h5.41M268.3 450.76h5.41M268.3 445.28h5.41M268.3 437.07h5.41M268.3 434.33h5.41M268.3 426.56h5.41M268.3 424.37h5.41M275.06 507.04h5.41M275.06 500.8h5.41M275.06 500.14h5.41M275.06 493.57h5.41M275.06 487h5.41M275.06 477.15h5.41M275.06 464.01h5.41M275.06 446.93h5.41M275.06 445.48h5.41M275.06 438.91h5.41M275.06 432.34h5.41M275.06 422.49h5.41M275.06 419.2h5.41M275.06 409.87h5.41M275.06 407.24h5.41M281.82 508.03h5.41M281.82 503.87h5.41M281.82 503.43h5.41M281.82 499.05h5.41M281.82 494.67h5.41M281.82 488.1h5.41M281.82 479.34h5.41M281.82 467.95h5.41M281.82 466.99h5.41M281.82 462.61h5.41M281.82 458.23h5.41M281.82 451.66h5.41M281.82 449.47h5.41M281.82 443.25h5.41M281.82 441.49h5.41M288.58 509.01h5.41M288.58 506.93h5.41M288.58 506.71h5.41M288.58 504.52h5.41M288.58 502.33h5.41M288.58 499.05h5.41M288.58 494.67h5.41M288.58 488.98h5.41M288.58 488.49h5.41M288.58 486.3h5.41M288.58 484.11h5.41M288.58 480.83h5.41M288.58 479.73h5.41M288.58 476.62h5.41M288.58 475.75h5.41M295.34 509.01h5.41M295.34 506.93h5.41M295.34 506.71h5.41M295.34 504.52h5.41M295.34 502.33h5.41M295.34 499.05h5.41M295.34 494.67h5.41M295.34 488.98h5.41M295.34 488.49h5.41M295.34 486.3h5.41M295.34 484.11h5.41M295.34 480.83h5.41M295.34 479.73h5.41M295.34 476.62h5.41M295.34 475.75h5.41M302.1 509.01h5.41M302.1 506.93h5.41M302.1 506.71h5.41M302.1 504.52h5.41M302.1 502.33h5.41M302.1 499.05h5.41M302.1 494.67h5.41M302.1 488.98h5.41M302.1 488.49h5.41M302.1 486.3h5.41M302.1 484.11h5.41M302.1 480.83h5.41M302.1 479.73h5.41M302.1 476.62h5.41M302.1 475.75h5.41M308.86 509.01h5.41M308.86 506.93h5.41M308.86 506.71h5.41M308.86 504.52h5.41M308.86 502.33h5.41M308.86 499.05h5.41M308.86 494.67h5.41M308.86 488.98h5.41M308.86 488.49h5.41M308.86 486.3h5.41M308.86 484.11h5.41M308.86 480.83h5.41M308.86 479.73h5.41M308.86 476.62h5.41M308.86 475.75h5.41M315.62 509.01h5.41M315.62 506.93h5.41M315.62 506.71h5.41M315.62 504.52h5.41M315.62 502.33h5.41M315.62 499.05h5.41M315.62 494.67h5.41M315.62 488.98h5.41M315.62 488.49h5.41M315.62 486.3h5.41M315.62 484.11h5.41M315.62 480.83h5.41M315.62 479.73h5.41M315.62 476.62h5.41M315.62 475.75h5.41M322.38 509.01h5.41M322.38 506.93h5.41M322.38 506.71h5.41M322.38 504.52h5.41M322.38 502.33h5.41M322.38 499.05h5.41M322.38 494.67h5.41M322.38 488.98h5.41M322.38 488.49h5.41M322.38 486.3h5.41M322.38 484.11h5.41M322.38 480.83h5.41M322.38 479.73h5.41M322.38 476.62h5.41M322.38 475.75h5.41M329.14 509.01h5.41M329.14 506.93h5.41M329.14 506.71h5.41M329.14 504.52h5.41M329.14 502.33h5.41M329.14 499.05h5.41M329.14 494.67h5.41M329.14 488.98h5.41M329.14 488.49h5.41M329.14 486.3h5.41M329.14 484.11h5.41M329.14 480.83h5.41M329.14 479.73h5.41M329.14 476.62h5.41M329.14 475.75h5.41M335.9 509.01h5.41M335.9 506.93h5.41M335.9 506.71h5.41M335.9 504.52h5.41M335.9 502.33h5.41M335.9 499.05h5.41M335.9 494.67h5.41M335.9 488.98h5.41M335.9 488.49h5.41M335.9 486.3h5.41M335.9 484.11h5.41M335.9 480.83h5.41M335.9 479.73h5.41M335.9 476.62h5.41M335.9 475.75h5.41M342.66 509.01h5.41M342.66 506.93h5.41M342.66 506.71h5.41M342.66 504.52h5.41M342.66 502.33h5.41M342.66 499.05h5.41M342.66 494.67h5.41M342.66 488.98h5.41M342.66 488.49h5.41M342.66 486.3h5.41M342.66 484.11h5.41M342.66 480.83h5.41M342.66 479.73h5.41M342.66 476.62h5.41M342.66 475.75h5.41M349.42 508.52h5.41M349.42 505.4h5.41M349.42 505.07h5.41M349.42 501.79h5.41M349.42 498.5h5.41M349.42 493.57h5.41M349.42 487h5.41M349.42 478.46h5.41M349.42 477.74h5.41M349.42 474.46h5.41M349.42 471.17h5.41M349.42 466.24h5.41M349.42 464.6h5.41M349.42 459.94h5.41M349.42 458.62h5.41M356.18 508.03h5.41M356.18 503.87h5.41M356.18 503.43h5.41M356.18 499.05h5.41M356.18 494.67h5.41M356.18 488.1h5.41M356.18 479.34h5.41M356.18 467.95h5.41M356.18 466.99h5.41M356.18 462.61h5.41M356.18 458.23h5.41M356.18 451.66h5.41M356.18 449.47h5.41M356.18 443.25h5.41M356.18 441.49h5.41M362.94 508.03h5.41M362.94 503.87h5.41M362.94 503.43h5.41M362.94 499.05h5.41M362.94 494.67h5.41M362.94 488.1h5.41M362.94 479.34h5.41M362.94 467.95h5.41M362.94 466.99h5.41M362.94 462.61h5.41M362.94 458.23h5.41M362.94 451.66h5.41M362.94 449.47h5.41M362.94 443.25h5.41M362.94 441.49h5.41M369.7 508.52h5.41M369.7 505.4h5.41M369.7 505.07h5.41M369.7 501.79h5.41M369.7 498.5h5.41M369.7 493.57h5.41M369.7 487h5.41M369.7 478.46h5.41M369.7 477.74h5.41M369.7 474.46h5.41M369.7 471.17h5.41M369.7 466.24h5.41M369.7 464.6h5.41M369.7 459.94h5.41M369.7 458.62h5.41M376.46 507.04h5.41M376.46 500.8h5.41M376.46 500.14h5.41M376.46 493.57h5.41M376.46 487h5.41M376.46 477.15h5.41M376.46 464.01h5.41M376.46 446.93h5.41M376.46 445.48h5.41M376.46 438.91h5.41M376.46 432.34h5.41M376.46 422.49h5.41M376.46 419.2h5.41M376.46 409.87h5.41M376.46 407.24h5.41M383.22 506.55h5.41M383.22 499.27h5.41M383.22 498.5h5.41M383.22 490.84h5.41M383.22 483.17h5.41M383.22 471.67h5.41M383.22 456.34h5.41M383.22 436.41h5.41M383.22 434.73h5.41M383.22 427.06h5.41M383.22 419.4h5.41M383.22 407.9h5.41M383.22 404.07h5.41M383.22 393.18h5.41M383.22 390.12h5.41M389.98 506.55h5.41M389.98 499.27h5.41M389.98 498.5h5.41M389.98 490.84h5.41M389.98 483.17h5.41M389.98 471.67h5.41M389.98 456.34h5.41M389.98 436.41h5.41M389.98 434.73h5.41M389.98 427.06h5.41M389.98 419.4h5.41M389.98 407.9h5.41M389.98 404.07h5.41M389.98 393.18h5.41M389.98 390.12h5.41M396.74 506.55h5.41M396.74 499.27h5.41M396.74 498.5h5.41M396.74 490.84h5.41M396.74 483.17h5.41M396.74 471.67h5.41M396.74 456.34h5.41M396.74 436.41h5.41M396.74 434.73h5.41M396.74 427.06h5.41M396.74 419.4h5.41M396.74 407.9h5.41M396.74 404.07h5.41M396.74 393.18h5.41M396.74 390.12h5.41" stroke="#000" stroke-opacity="0.8" stroke-width="0.5" fill="none"/>
<path d="M241.26 416.48h5.41v93.52h-5.41zM248.02 397.78h5.41v112.22h-5.41zM254.78 397.78h5.41v112.22h-5.41zM261.54 397.78h5.41v112.22h-5.41zM268.3 416.48h5.41v93.52h-5.41zM275.06 397.78h5.41v112.22h-5.41zM281.82 435.19h5.41v74.81h-5.41zM288.58 472.59h5.41v37.41h-5.41zM295.34 472.59h5.41v37.41h-5.41zM302.1 472.59h5.41v37.41h-5.41zM308.86 472.59h5.41v37.41h-5.41zM315.62 472.59h5.41v37.41h-5.41zM322.38 472.59h5.41v37.41h-5.41zM329.14 472.59h5.41v37.41h-5.41zM335.9 472.59h5.41v37.41h-5.41zM342.66 472.59h5.41v37.41h-5.41zM349.42 453.89h5.41v56.11h-5.41zM356.18 435.19h5.41v74.81h-5.41zM362.94 435.19h5.41v74.81h-5.41zM369.7 453.89h5.41v56.11h-5.41zM376.46 397.78h5.41v112.22h-5.41zM383.22 379.08h5.41v130.92h-5.41zM389.98 379.08h5.41v130.92h-5.41zM396.74 379.08h5.41v130.92h-5.41z" stroke="#000" stroke-opacity="0.55" stroke-width="0.7" fill="none"/>
</g>
<rect x="237.2" y="378.75" width="169" height="131.25" fill="none" stroke="#808080" stroke-width="0.7"/>
<path d="M237.2 510v-1.3M237.2 378.75v1.3M271 510v-1.3M271 378.75v1.3M304.8 510v-1.3M304.8 378.75v1.3M338.6 510v-1.3M338.6 378.75v1.3M372.4 510v-1.3M372.4 378.75v1.3M406.2 510v-1.3M406.2 378.75v1.3M237.2 510h1.3M406.2 510h-1.3M237.2 488.12h1.3M406.2 488.12h-1.3M237.2 466.25h1.3M406.2 466.25h-1.3M237.2 444.38h1.3M406.2 444.38h-1.3M237.2 422.5h1.3M406.2 422.5h-1.3M237.2 400.62h1.3M406.2 400.62h-1.3M237.2 378.75h1.3M406.2 378.75h-1.3" stroke="#808080" stroke-width="0.5" fill="none"/>
<g font-family="Liberation Sans, sans-serif" font-size="5.2" fill="#222" stroke="#222" stroke-width="0.15">
<text x="237.2" y="518.3" text-anchor="middle">0</text>
<text x="271" y="518.3" text-anchor="middle">5</text>
<text x="304.8" y="518.3" text-anchor="middle">10</text>
<text x="338.6" y="518.3" text-anchor="middle">15</text>
<text x="372.4" y="518.3" text-anchor="middle">20</text>
<text x="406.2" y="518.3" text-anchor="middle">25</text>
<text x="235.1" y="512.5" text-anchor="end">0</text>
<text x="235.1" y="490.62" text-anchor="end">20</text>
<text x="235.1" y="468.75" text-anchor="end">40</text>
<text x="235.1" y="446.88" text-anchor="end">60</text>
<text x="235.1" y="425" text-anchor="end">80</text>
<text x="235.1" y="403.12" text-anchor="end">100</text>
<text x="235.1" y="381.25" text-anchor="end">120</text>
</g>
<text x="321.7" y="527.9" text-anchor="middle" font-family="Liberation Sans, sans-serif" font-size="8.4" fill="#222" stroke="#222" stroke-width="0.15">Time (hours)</text>
<text transform="translate(223.2 443.3) rotate(-90)" text-anchor="middle" font-family="Liberation Sans, sans-serif" font-size="8.4" fill="#222" stroke="#222" stroke-width="0.15" xml:space="preserve">Electricity Consumption  (kWh)</text>
<text x="312" y="545.6" text-anchor="middle" font-family="Liberation Serif, serif" font-size="9.75" fill="#111" stroke="#111" stroke-width="0.12">(<tspan font-weight="bold">f</tspan>) Earliglow</text>
</g>
<g>
<rect x="132.5" y="3.7" width="73.35" height="135.6" fill="#fff" stroke="#5a5a5a" stroke-width="0.7"/>
<g font-family="Liberation Sans, sans-serif" font-size="6.25" fill="#1a1a1a" stroke="#1a1a1a" stroke-width="0.15">
<rect x="134.3" y="5.59" width="15.2" height="6.3" fill="#3e26a8" stroke="#111" stroke-width="0.5" stroke-opacity="0.85"/>
<text x="151" y="11.19">Clothe Dryer</text>
<rect x="134.3" y="13.94" width="15.2" height="6.3" fill="#4538d7" stroke="#111" stroke-width="0.5" stroke-opacity="0.85"/>
<text x="151" y="19.54">Vacuum Cleaner</text>
<rect x="134.3" y="22.3" width="15.2" height="6.3" fill="#484ff2" stroke="#111" stroke-width="0.5" stroke-opacity="0.85"/>
<text x="151" y="27.9">Refrigerator</text>
<rect x="134.3" y="30.65" width="15.2" height="6.3" fill="#4367fd" stroke="#111" stroke-width="0.5" stroke-opacity="0.85"/>
<text x="151" y="36.25">Air Conditioner</text>
<rect x="134.3" y="39.01" width="15.2" height="6.3" fill="#2f80fa" stroke="#111" stroke-width="0.5" stroke-opacity="0.85"/>
<text x="151" y="44.61">Dish Washer</text>
<rect x="134.3" y="47.36" width="15.2" height="6.3" fill="#2797eb" stroke="#111" stroke-width="0.5" stroke-opacity="0.85"/>
<text x="151" y="52.96">Water Heater</text>
<rect x="134.3" y="55.71" width="15.2" height="6.3" fill="#1caadf" stroke="#111" stroke-width="0.5" stroke-opacity="0.85"/>
<text x="151" y="61.31">Pool Pump</text>
<rect x="134.3" y="64.07" width="15.2" height="6.3" fill="#01b9c7" stroke="#111" stroke-width="0.5" stroke-opacity="0.85"/>
<text x="151" y="69.67">Electric Vehicle</text>
<rect x="134.3" y="72.42" width="15.2" height="6.3" fill="#29c3aa" stroke="#111" stroke-width="0.5" stroke-opacity="0.85"/>
<text x="151" y="78.02">Television</text>
<rect x="134.3" y="80.78" width="15.2" height="6.3" fill="#48cb86" stroke="#111" stroke-width="0.5" stroke-opacity="0.85"/>
<text x="151" y="86.38">Iron Appliances</text>
<rect x="134.3" y="89.13" width="15.2" height="6.3" fill="#81cc59" stroke="#111" stroke-width="0.5" stroke-opacity="0.85"/>
<text x="151" y="94.73">Hair Dryer</text>
<rect x="134.3" y="97.48" width="15.2" height="6.3" fill="#bbc42f" stroke="#111" stroke-width="0.5" stroke-opacity="0.85"/>
<text x="151" y="103.08">Other</text>
<rect x="134.3" y="105.84" width="15.2" height="6.3" fill="#eaba31" stroke="#111" stroke-width="0.5" stroke-opacity="0.85"/>
<text x="151" y="111.44">Light</text>
<rect x="134.3" y="114.19" width="15.2" height="6.3" fill="#fec735" stroke="#111" stroke-width="0.5" stroke-opacity="0.85"/>
<text x="151" y="119.79">Electric Stove</text>
<rect x="134.3" y="122.55" width="15.2" height="6.3" fill="#f5e128" stroke="#111" stroke-width="0.5" stroke-opacity="0.85"/>
<text x="151" y="128.15">Personal Computer</text>
<rect x="134.3" y="130.9" width="15.2" height="6.3" fill="#f9fb15" stroke="#111" stroke-width="0.5" stroke-opacity="0.85"/>
<text x="151" y="136.5">Heater</text>
</g></g>
</svg>
</body></html>
